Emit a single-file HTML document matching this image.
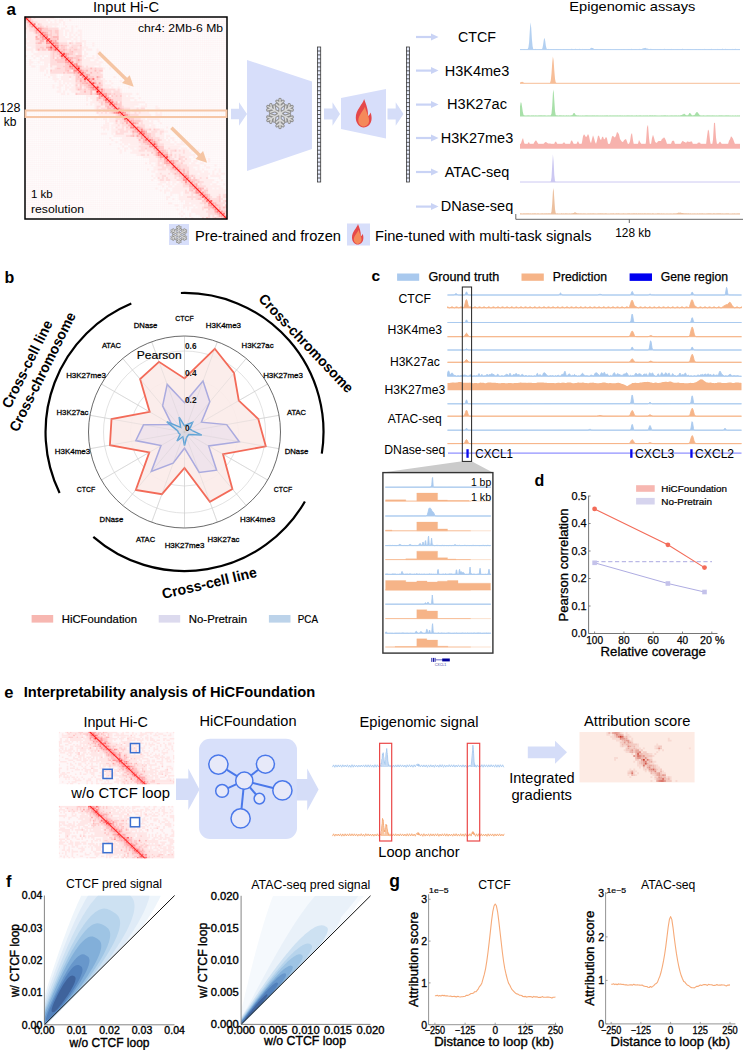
<!DOCTYPE html>
<html><head><meta charset="utf-8"><style>
html,body{margin:0;padding:0;background:#fff;}
svg{display:block;}
text{font-family:"Liberation Sans",sans-serif;}
</style></head><body>
<svg width="743" height="1050" viewBox="0 0 743 1050">
<rect width="743" height="1050" fill="#fff"/>
<defs>
<filter id="blur1" x="-20%" y="-20%" width="140%" height="140%"><feGaussianBlur stdDeviation="1.6"/></filter>
<filter id="blur2" x="-30%" y="-30%" width="160%" height="160%"><feGaussianBlur stdDeviation="2.5"/></filter>
<filter id="blur04" x="-5%" y="-5%" width="110%" height="110%"><feGaussianBlur stdDeviation="0.75"/></filter>
<filter id="blur05" x="-20%" y="-20%" width="140%" height="140%"><feGaussianBlur stdDeviation="0.6"/></filter>
<pattern id="hicgrid" width="2.104" height="2.104" patternUnits="userSpaceOnUse"><path d="M0,0.5H2.2M0.5,0V2.2" stroke="#fbe3e6" stroke-width="0.4" stroke-opacity="0.45"/></pattern>
<pattern id="hicgrid2" width="2" height="2" patternUnits="userSpaceOnUse"><path d="M0,0.5H2M0.5,0V2" stroke="#f8c3c8" stroke-width="0.55" stroke-opacity="0.7"/></pattern>
<pattern id="attgrid" width="3" height="3" patternUnits="userSpaceOnUse"><path d="M0,0.5H3M0.5,0V3" stroke="#f9d4c8" stroke-width="0.5" stroke-opacity="0.6"/></pattern>
</defs>
<text x="6.5" y="15" font-size="17" font-weight="bold">a</text>
<text x="126" y="12" font-size="14.5" text-anchor="middle" textLength="66" lengthAdjust="spacingAndGlyphs">Input Hi-C</text>
<rect x="25" y="17" width="202" height="202" fill="#fffcfc"/>
<rect x="25" y="17" width="202" height="202" fill="url(#hicgrid)"/>
<g filter="url(#blur04)"><path d="M31.3 17h2.1v2.1h-2.1zM35.5 17h18.9v2.1h-18.9zM33.4 19.1h12.6v2.1h-12.6zM48.1 19.1h2.1v2.1h-2.1zM54.5 19.1h2.1v2.1h-2.1zM58.7 19.1h4.2v2.1h-4.2zM69.2 19.1h2.1v2.1h-2.1zM37.6 21.2h10.5v2.1h-10.5zM50.2 21.2h2.1v2.1h-2.1zM54.5 21.2h2.1v2.1h-2.1zM58.7 21.2h2.1v2.1h-2.1zM62.9 21.2h2.1v2.1h-2.1zM25 23.3h2.1v2.1h-2.1zM35.5 23.3h2.1v2.1h-2.1zM41.8 23.3h16.8v2.1h-16.8zM62.9 23.3h2.1v2.1h-2.1zM25 25.4h2.1v2.1h-2.1zM43.9 25.4h2.1v2.1h-2.1zM48.1 25.4h4.2v2.1h-4.2zM54.5 25.4h2.1v2.1h-2.1zM65 25.4h2.1v2.1h-2.1zM71.3 25.4h2.1v2.1h-2.1zM75.5 25.4h2.1v2.1h-2.1zM27.1 27.5h2.1v2.1h-2.1zM60.8 27.5h4.2v2.1h-4.2zM71.3 27.5h2.1v2.1h-2.1zM25 29.6h4.2v2.1h-4.2zM58.7 29.6h4.2v2.1h-4.2zM65 29.6h4.2v2.1h-4.2zM71.3 29.6h2.1v2.1h-2.1zM77.6 29.6h4.2v2.1h-4.2zM25 31.7h8.4v2.1h-8.4zM58.7 31.7h4.2v2.1h-4.2zM65 31.7h2.1v2.1h-2.1zM69.2 31.7h4.2v2.1h-4.2zM75.5 31.7h2.1v2.1h-2.1zM79.7 31.7h2.1v2.1h-2.1zM27.1 33.8h8.4v2.1h-8.4zM58.7 33.8h4.2v2.1h-4.2zM65 33.8h2.1v2.1h-2.1zM69.2 33.8h2.1v2.1h-2.1zM73.4 33.8h2.1v2.1h-2.1zM77.6 33.8h4.2v2.1h-4.2zM27.1 35.9h8.4v2.1h-8.4zM58.7 35.9h6.3v2.1h-6.3zM69.2 35.9h4.2v2.1h-4.2zM75.5 35.9h2.1v2.1h-2.1zM79.7 35.9h2.1v2.1h-2.1zM25 38h10.5v2.1h-10.5zM58.7 38h12.6v2.1h-12.6zM73.4 38h4.2v2.1h-4.2zM79.7 38h2.1v2.1h-2.1zM25 40.1h2.1v2.1h-2.1zM29.2 40.1h6.3v2.1h-6.3zM58.7 40.1h8.4v2.1h-8.4zM71.3 40.1h2.1v2.1h-2.1zM75.5 40.1h2.1v2.1h-2.1zM79.7 40.1h6.3v2.1h-6.3zM25 42.2h10.5v2.1h-10.5zM67.1 42.2h2.1v2.1h-2.1zM73.4 42.2h2.1v2.1h-2.1zM83.9 42.2h2.1v2.1h-2.1zM92.3 42.2h2.1v2.1h-2.1zM27.1 44.4h8.4v2.1h-8.4zM69.2 44.4h2.1v2.1h-2.1zM83.9 44.4h2.1v2.1h-2.1zM92.3 44.4h2.1v2.1h-2.1zM25 46.5h2.1v2.1h-2.1zM31.3 46.5h4.2v2.1h-4.2zM67.1 46.5h2.1v2.1h-2.1zM77.6 46.5h2.1v2.1h-2.1zM81.8 46.5h6.3v2.1h-6.3zM25 48.6h8.4v2.1h-8.4zM81.8 48.6h2.1v2.1h-2.1zM86 48.6h6.3v2.1h-6.3zM96.5 48.6h2.1v2.1h-2.1zM31.3 50.7h2.1v2.1h-2.1zM37.6 50.7h12.6v2.1h-12.6zM83.9 50.7h2.1v2.1h-2.1zM96.5 50.7h4.2v2.1h-4.2zM33.4 52.8h16.8v2.1h-16.8zM75.5 52.8h2.1v2.1h-2.1zM83.9 52.8h4.2v2.1h-4.2zM96.5 52.8h2.1v2.1h-2.1zM25 54.9h2.1v2.1h-2.1zM31.3 54.9h2.1v2.1h-2.1zM35.5 54.9h4.2v2.1h-4.2zM41.8 54.9h2.1v2.1h-2.1zM48.1 54.9h2.1v2.1h-2.1zM81.8 54.9h4.2v2.1h-4.2zM92.3 54.9h2.1v2.1h-2.1zM96.5 54.9h2.1v2.1h-2.1zM100.8 54.9h2.1v2.1h-2.1zM33.4 57h2.1v2.1h-2.1zM39.7 57h2.1v2.1h-2.1zM43.9 57h6.3v2.1h-6.3zM54.5 57h2.1v2.1h-2.1zM81.8 57h2.1v2.1h-2.1zM86 57h8.4v2.1h-8.4zM96.5 57h4.2v2.1h-4.2zM29.2 59.1h2.1v2.1h-2.1zM39.7 59.1h10.5v2.1h-10.5zM81.8 59.1h8.4v2.1h-8.4zM94.4 59.1h4.2v2.1h-4.2zM29.2 61.2h4.2v2.1h-4.2zM37.6 61.2h2.1v2.1h-2.1zM43.9 61.2h6.3v2.1h-6.3zM81.8 61.2h14.7v2.1h-14.7zM98.6 61.2h4.2v2.1h-4.2zM29.2 63.3h2.1v2.1h-2.1zM43.9 63.3h4.2v2.1h-4.2zM81.8 63.3h18.9v2.1h-18.9zM31.3 65.4h4.2v2.1h-4.2zM39.7 65.4h8.4v2.1h-8.4zM52.4 65.4h4.2v2.1h-4.2zM83.9 65.4h2.1v2.1h-2.1zM88.1 65.4h6.3v2.1h-6.3zM98.6 65.4h2.1v2.1h-2.1zM39.7 67.5h6.3v2.1h-6.3zM50.2 67.5h4.2v2.1h-4.2zM102.9 67.5h2.1v2.1h-2.1zM109.2 67.5h2.1v2.1h-2.1zM39.7 69.6h4.2v2.1h-4.2zM46 69.6h2.1v2.1h-2.1zM71.3 69.6h2.1v2.1h-2.1zM46 71.7h2.1v2.1h-2.1zM100.8 71.7h2.1v2.1h-2.1zM43.9 73.8h2.1v2.1h-2.1zM50.2 73.8h6.3v2.1h-6.3zM62.9 73.8h10.5v2.1h-10.5zM48.1 75.9h2.1v2.1h-2.1zM52.4 75.9h4.2v2.1h-4.2zM60.8 75.9h8.4v2.1h-8.4zM71.3 75.9h4.2v2.1h-4.2zM113.4 75.9h2.1v2.1h-2.1zM121.8 75.9h2.1v2.1h-2.1zM52.4 78h6.3v2.1h-6.3zM60.8 78h8.4v2.1h-8.4zM71.3 78h4.2v2.1h-4.2zM100.8 78h4.2v2.1h-4.2zM54.5 80.1h2.1v2.1h-2.1zM58.7 80.1h2.1v2.1h-2.1zM62.9 80.1h12.6v2.1h-12.6zM102.9 80.1h4.2v2.1h-4.2zM109.2 80.1h2.1v2.1h-2.1zM119.7 80.1h2.1v2.1h-2.1zM130.2 80.1h2.1v2.1h-2.1zM58.7 82.2h2.1v2.1h-2.1zM62.9 82.2h2.1v2.1h-2.1zM67.1 82.2h2.1v2.1h-2.1zM71.3 82.2h4.2v2.1h-4.2zM102.9 82.2h2.1v2.1h-2.1zM111.3 82.2h2.1v2.1h-2.1zM52.4 84.3h2.1v2.1h-2.1zM58.7 84.3h4.2v2.1h-4.2zM65 84.3h2.1v2.1h-2.1zM69.2 84.3h2.1v2.1h-2.1zM73.4 84.3h2.1v2.1h-2.1zM77.6 84.3h2.1v2.1h-2.1zM102.9 84.3h8.4v2.1h-8.4zM52.4 86.4h2.1v2.1h-2.1zM56.6 86.4h4.2v2.1h-4.2zM65 86.4h4.2v2.1h-4.2zM71.3 86.4h4.2v2.1h-4.2zM81.8 86.4h2.1v2.1h-2.1zM102.9 86.4h6.3v2.1h-6.3zM111.3 86.4h2.1v2.1h-2.1zM117.6 86.4h2.1v2.1h-2.1zM128.1 86.4h2.1v2.1h-2.1zM58.7 88.5h2.1v2.1h-2.1zM65 88.5h2.1v2.1h-2.1zM69.2 88.5h6.3v2.1h-6.3zM115.5 88.5h2.1v2.1h-2.1zM119.7 88.5h2.1v2.1h-2.1zM56.6 90.6h4.2v2.1h-4.2zM62.9 90.6h2.1v2.1h-2.1zM71.3 90.6h8.4v2.1h-8.4zM92.3 90.6h2.1v2.1h-2.1zM111.3 90.6h2.1v2.1h-2.1zM119.7 90.6h2.1v2.1h-2.1zM60.8 92.8h4.2v2.1h-4.2zM67.1 92.8h2.1v2.1h-2.1zM121.8 92.8h10.5v2.1h-10.5zM136.5 92.8h2.1v2.1h-2.1zM86 94.9h12.6v2.1h-12.6zM109.2 94.9h2.1v2.1h-2.1zM121.8 94.9h4.2v2.1h-4.2zM128.1 94.9h2.1v2.1h-2.1zM86 97h2.1v2.1h-2.1zM90.2 97h6.3v2.1h-6.3zM121.8 97h12.6v2.1h-12.6zM138.6 97h2.1v2.1h-2.1zM86 99.1h2.1v2.1h-2.1zM92.3 99.1h4.2v2.1h-4.2zM121.8 99.1h8.4v2.1h-8.4zM134.4 99.1h2.1v2.1h-2.1zM90.2 101.2h8.4v2.1h-8.4zM117.6 101.2h2.1v2.1h-2.1zM121.8 101.2h23.1v2.1h-23.1zM86 103.3h2.1v2.1h-2.1zM90.2 103.3h2.1v2.1h-2.1zM94.4 103.3h6.3v2.1h-6.3zM121.8 103.3h16.8v2.1h-16.8zM144.9 103.3h2.1v2.1h-2.1zM94.4 105.4h2.1v2.1h-2.1zM100.8 105.4h4.2v2.1h-4.2zM123.9 105.4h10.5v2.1h-10.5zM140.7 105.4h6.3v2.1h-6.3zM155.5 105.4h2.1v2.1h-2.1zM94.4 107.5h2.1v2.1h-2.1zM98.6 107.5h2.1v2.1h-2.1zM130.2 107.5h6.3v2.1h-6.3zM138.6 107.5h2.1v2.1h-2.1zM155.5 107.5h4.2v2.1h-4.2zM94.4 109.6h2.1v2.1h-2.1zM100.8 109.6h2.1v2.1h-2.1zM130.2 109.6h2.1v2.1h-2.1zM140.7 109.6h4.2v2.1h-4.2zM147 109.6h2.1v2.1h-2.1zM98.6 111.7h2.1v2.1h-2.1zM102.9 111.7h2.1v2.1h-2.1zM107.1 111.7h2.1v2.1h-2.1zM130.2 111.7h4.2v2.1h-4.2zM136.5 111.7h2.1v2.1h-2.1zM140.7 111.7h8.4v2.1h-8.4zM155.5 111.7h2.1v2.1h-2.1zM159.7 111.7h2.1v2.1h-2.1zM98.6 113.8h16.8v2.1h-16.8zM138.6 113.8h12.6v2.1h-12.6zM155.5 113.8h6.3v2.1h-6.3zM98.6 115.9h2.1v2.1h-2.1zM105 115.9h10.5v2.1h-10.5zM132.3 115.9h10.5v2.1h-10.5zM144.9 115.9h4.2v2.1h-4.2zM151.2 115.9h2.1v2.1h-2.1zM94.4 118h2.1v2.1h-2.1zM102.9 118h4.2v2.1h-4.2zM109.2 118h6.3v2.1h-6.3zM140.7 118h4.2v2.1h-4.2zM147 118h12.6v2.1h-12.6zM105 120.1h2.1v2.1h-2.1zM109.2 120.1h6.3v2.1h-6.3zM117.6 120.1h2.1v2.1h-2.1zM142.8 120.1h6.3v2.1h-6.3zM151.2 120.1h2.1v2.1h-2.1zM157.6 120.1h2.1v2.1h-2.1zM105 122.2h4.2v2.1h-4.2zM113.4 122.2h2.1v2.1h-2.1zM117.6 122.2h2.1v2.1h-2.1zM138.6 122.2h2.1v2.1h-2.1zM142.8 122.2h10.5v2.1h-10.5zM159.7 122.2h2.1v2.1h-2.1zM102.9 124.3h6.3v2.1h-6.3zM111.3 124.3h6.3v2.1h-6.3zM119.7 124.3h2.1v2.1h-2.1zM144.9 124.3h4.2v2.1h-4.2zM151.2 124.3h4.2v2.1h-4.2zM100.8 126.4h8.4v2.1h-8.4zM111.3 126.4h2.1v2.1h-2.1zM117.6 126.4h4.2v2.1h-4.2zM123.9 126.4h2.1v2.1h-2.1zM144.9 126.4h10.5v2.1h-10.5zM166 126.4h2.1v2.1h-2.1zM102.9 128.5h2.1v2.1h-2.1zM107.1 128.5h2.1v2.1h-2.1zM111.3 128.5h6.3v2.1h-6.3zM123.9 128.5h2.1v2.1h-2.1zM151.2 128.5h2.1v2.1h-2.1zM159.7 128.5h4.2v2.1h-4.2zM111.3 130.6h4.2v2.1h-4.2zM117.6 130.6h2.1v2.1h-2.1zM128.1 130.6h2.1v2.1h-2.1zM147 130.6h4.2v2.1h-4.2zM157.6 130.6h2.1v2.1h-2.1zM163.9 130.6h4.2v2.1h-4.2zM100.8 132.7h6.3v2.1h-6.3zM111.3 132.7h2.1v2.1h-2.1zM123.9 132.7h8.4v2.1h-8.4zM155.5 132.7h4.2v2.1h-4.2zM161.8 132.7h2.1v2.1h-2.1zM113.4 134.8h12.6v2.1h-12.6zM155.5 134.8h8.4v2.1h-8.4zM166 134.8h4.2v2.1h-4.2zM109.2 136.9h2.1v2.1h-2.1zM121.8 136.9h14.7v2.1h-14.7zM159.7 136.9h4.2v2.1h-4.2zM166 136.9h2.1v2.1h-2.1zM170.2 136.9h4.2v2.1h-4.2zM111.3 139h2.1v2.1h-2.1zM119.7 139h18.9v2.1h-18.9zM161.8 139h4.2v2.1h-4.2zM168.1 139h2.1v2.1h-2.1zM172.3 139h2.1v2.1h-2.1zM115.5 141.1h2.1v2.1h-2.1zM121.8 141.1h16.8v2.1h-16.8zM159.7 141.1h10.5v2.1h-10.5zM174.4 141.1h2.1v2.1h-2.1zM180.7 141.1h2.1v2.1h-2.1zM109.2 143.2h2.1v2.1h-2.1zM119.7 143.2h2.1v2.1h-2.1zM123.9 143.2h4.2v2.1h-4.2zM130.2 143.2h10.5v2.1h-10.5zM163.9 143.2h10.5v2.1h-10.5zM176.5 143.2h8.4v2.1h-8.4zM121.8 145.4h2.1v2.1h-2.1zM128.1 145.4h10.5v2.1h-10.5zM163.9 145.4h16.8v2.1h-16.8zM189.1 145.4h2.1v2.1h-2.1zM117.6 147.5h2.1v2.1h-2.1zM123.9 147.5h4.2v2.1h-4.2zM130.2 147.5h4.2v2.1h-4.2zM136.5 147.5h4.2v2.1h-4.2zM163.9 147.5h4.2v2.1h-4.2zM170.2 147.5h8.4v2.1h-8.4zM180.7 147.5h6.3v2.1h-6.3zM189.1 147.5h2.1v2.1h-2.1zM119.7 149.6h2.1v2.1h-2.1zM123.9 149.6h2.1v2.1h-2.1zM132.3 149.6h6.3v2.1h-6.3zM144.9 149.6h2.1v2.1h-2.1zM168.1 149.6h2.1v2.1h-2.1zM176.5 149.6h2.1v2.1h-2.1zM180.7 149.6h2.1v2.1h-2.1zM184.9 149.6h4.2v2.1h-4.2zM191.2 149.6h2.1v2.1h-2.1zM197.5 149.6h2.1v2.1h-2.1zM119.7 151.7h2.1v2.1h-2.1zM130.2 151.7h21v2.1h-21zM168.1 151.7h2.1v2.1h-2.1zM172.3 151.7h10.5v2.1h-10.5zM184.9 151.7h6.3v2.1h-6.3zM136.5 153.8h4.2v2.1h-4.2zM144.9 153.8h2.1v2.1h-2.1zM149.1 153.8h4.2v2.1h-4.2zM172.3 153.8h2.1v2.1h-2.1zM176.5 153.8h2.1v2.1h-2.1zM180.7 153.8h14.7v2.1h-14.7zM197.5 153.8h4.2v2.1h-4.2zM142.8 155.9h12.6v2.1h-12.6zM172.3 155.9h2.1v2.1h-2.1zM176.5 155.9h2.1v2.1h-2.1zM184.9 155.9h4.2v2.1h-4.2zM193.3 155.9h2.1v2.1h-2.1zM197.5 155.9h2.1v2.1h-2.1zM149.1 158h8.4v2.1h-8.4zM174.4 158h4.2v2.1h-4.2zM182.8 158h2.1v2.1h-2.1zM187 158h4.2v2.1h-4.2zM208.1 158h2.1v2.1h-2.1zM149.1 160.1h8.4v2.1h-8.4zM178.6 160.1h2.1v2.1h-2.1zM184.9 160.1h6.3v2.1h-6.3zM193.3 160.1h4.2v2.1h-4.2zM208.1 160.1h2.1v2.1h-2.1zM144.9 162.2h2.1v2.1h-2.1zM149.1 162.2h2.1v2.1h-2.1zM155.5 162.2h2.1v2.1h-2.1zM159.7 162.2h2.1v2.1h-2.1zM182.8 162.2h6.3v2.1h-6.3zM191.2 162.2h4.2v2.1h-4.2zM199.6 162.2h4.2v2.1h-4.2zM151.2 164.3h2.1v2.1h-2.1zM155.5 164.3h2.1v2.1h-2.1zM163.9 164.3h2.1v2.1h-2.1zM187 164.3h12.6v2.1h-12.6zM203.9 164.3h2.1v2.1h-2.1zM214.4 164.3h2.1v2.1h-2.1zM153.4 166.4h8.4v2.1h-8.4zM189.1 166.4h4.2v2.1h-4.2zM197.5 166.4h2.1v2.1h-2.1zM206 166.4h4.2v2.1h-4.2zM147 168.5h2.1v2.1h-2.1zM153.4 168.5h4.2v2.1h-4.2zM166 168.5h2.1v2.1h-2.1zM189.1 168.5h6.3v2.1h-6.3zM197.5 168.5h2.1v2.1h-2.1zM201.8 168.5h2.1v2.1h-2.1zM214.4 168.5h2.1v2.1h-2.1zM218.6 168.5h2.1v2.1h-2.1zM151.2 170.6h4.2v2.1h-4.2zM157.6 170.6h12.6v2.1h-12.6zM189.1 170.6h12.6v2.1h-12.6zM203.9 170.6h4.2v2.1h-4.2zM212.3 170.6h2.1v2.1h-2.1zM218.6 170.6h2.1v2.1h-2.1zM155.5 172.7h4.2v2.1h-4.2zM161.8 172.7h6.3v2.1h-6.3zM170.2 172.7h2.1v2.1h-2.1zM189.1 172.7h8.4v2.1h-8.4zM199.6 172.7h10.5v2.1h-10.5zM212.3 172.7h2.1v2.1h-2.1zM216.5 172.7h2.1v2.1h-2.1zM220.7 172.7h4.2v2.1h-4.2zM151.2 174.8h2.1v2.1h-2.1zM155.5 174.8h6.3v2.1h-6.3zM166 174.8h8.4v2.1h-8.4zM195.4 174.8h12.6v2.1h-12.6zM210.2 174.8h10.5v2.1h-10.5zM153.4 176.9h2.1v2.1h-2.1zM159.7 176.9h2.1v2.1h-2.1zM163.9 176.9h2.1v2.1h-2.1zM168.1 176.9h6.3v2.1h-6.3zM176.5 176.9h2.1v2.1h-2.1zM191.2 176.9h2.1v2.1h-2.1zM195.4 176.9h4.2v2.1h-4.2zM201.8 176.9h4.2v2.1h-4.2zM218.6 176.9h2.1v2.1h-2.1zM151.2 179h2.1v2.1h-2.1zM157.6 179h2.1v2.1h-2.1zM163.9 179h2.1v2.1h-2.1zM170.2 179h6.3v2.1h-6.3zM199.6 179h14.7v2.1h-14.7zM220.7 179h2.1v2.1h-2.1zM159.7 181.1h6.3v2.1h-6.3zM168.1 181.1h2.1v2.1h-2.1zM172.3 181.1h4.2v2.1h-4.2zM178.6 181.1h2.1v2.1h-2.1zM203.9 181.1h8.4v2.1h-8.4zM216.5 181.1h2.1v2.1h-2.1zM157.6 183.2h4.2v2.1h-4.2zM166 183.2h4.2v2.1h-4.2zM172.3 183.2h2.1v2.1h-2.1zM176.5 183.2h6.3v2.1h-6.3zM197.5 183.2h2.1v2.1h-2.1zM201.8 183.2h8.4v2.1h-8.4zM212.3 183.2h4.2v2.1h-4.2zM222.8 183.2h2.1v2.1h-2.1zM161.8 185.3h2.1v2.1h-2.1zM168.1 185.3h4.2v2.1h-4.2zM174.4 185.3h8.4v2.1h-8.4zM206 185.3h14.7v2.1h-14.7zM155.5 187.4h2.1v2.1h-2.1zM166 187.4h2.1v2.1h-2.1zM172.3 187.4h16.8v2.1h-16.8zM203.9 187.4h2.1v2.1h-2.1zM208.1 187.4h4.2v2.1h-4.2zM214.4 187.4h2.1v2.1h-2.1zM218.6 187.4h4.2v2.1h-4.2zM159.7 189.5h2.1v2.1h-2.1zM163.9 189.5h6.3v2.1h-6.3zM172.3 189.5h12.6v2.1h-12.6zM187 189.5h2.1v2.1h-2.1zM208.1 189.5h18.9v2.1h-18.9zM163.9 191.6h2.1v2.1h-2.1zM170.2 191.6h10.5v2.1h-10.5zM182.8 191.6h2.1v2.1h-2.1zM189.1 191.6h2.1v2.1h-2.1zM208.1 191.6h16.8v2.1h-16.8zM170.2 193.8h2.1v2.1h-2.1zM178.6 193.8h2.1v2.1h-2.1zM182.8 193.8h8.4v2.1h-8.4zM193.3 193.8h2.1v2.1h-2.1zM210.2 193.8h8.4v2.1h-8.4zM220.7 193.8h2.1v2.1h-2.1zM166 195.9h4.2v2.1h-4.2zM178.6 195.9h8.4v2.1h-8.4zM212.3 195.9h4.2v2.1h-4.2zM220.7 195.9h2.1v2.1h-2.1zM166 198h2.1v2.1h-2.1zM172.3 198h2.1v2.1h-2.1zM178.6 198h12.6v2.1h-12.6zM193.3 198h2.1v2.1h-2.1zM222.8 198h4.2v2.1h-4.2zM180.7 200.1h2.1v2.1h-2.1zM184.9 200.1h16.8v2.1h-16.8zM220.7 200.1h2.1v2.1h-2.1zM168.1 202.2h4.2v2.1h-4.2zM184.9 202.2h4.2v2.1h-4.2zM191.2 202.2h8.4v2.1h-8.4zM224.9 202.2h2.1v2.1h-2.1zM174.4 204.3h4.2v2.1h-4.2zM182.8 204.3h10.5v2.1h-10.5zM195.4 204.3h8.4v2.1h-8.4zM222.8 204.3h2.1v2.1h-2.1zM182.8 206.4h2.1v2.1h-2.1zM187 206.4h2.1v2.1h-2.1zM193.3 206.4h2.1v2.1h-2.1zM197.5 206.4h4.2v2.1h-4.2zM176.5 208.5h2.1v2.1h-2.1zM187 208.5h2.1v2.1h-2.1zM191.2 208.5h10.5v2.1h-10.5zM203.9 208.5h4.2v2.1h-4.2zM180.7 210.6h2.1v2.1h-2.1zM191.2 210.6h14.7v2.1h-14.7zM178.6 212.7h2.1v2.1h-2.1zM182.8 212.7h2.1v2.1h-2.1zM189.1 212.7h2.1v2.1h-2.1zM195.4 212.7h12.6v2.1h-12.6zM180.7 214.8h2.1v2.1h-2.1zM189.1 214.8h2.1v2.1h-2.1zM199.6 214.8h8.4v2.1h-8.4zM210.2 214.8h2.1v2.1h-2.1zM214.4 214.8h2.1v2.1h-2.1zM184.9 216.9h2.1v2.1h-2.1zM191.2 216.9h2.1v2.1h-2.1zM203.9 216.9h2.1v2.1h-2.1zM210.2 216.9h2.1v2.1h-2.1z" fill="#ffeeee"/>
<path d="M33.4 17h2.1v2.1h-2.1zM31.3 19.1h2.1v2.1h-2.1zM25 21.2h2.1v2.1h-2.1zM33.4 21.2h4.2v2.1h-4.2zM27.1 23.3h2.1v2.1h-2.1zM39.7 23.3h2.1v2.1h-2.1zM27.1 25.4h2.1v2.1h-2.1zM37.6 25.4h2.1v2.1h-2.1zM41.8 25.4h2.1v2.1h-2.1zM46 25.4h2.1v2.1h-2.1zM25 27.5h2.1v2.1h-2.1zM29.2 27.5h4.2v2.1h-4.2zM48.1 27.5h10.5v2.1h-10.5zM29.2 29.6h4.2v2.1h-4.2zM52.4 29.6h2.1v2.1h-2.1zM33.4 31.7h2.1v2.1h-2.1zM48.1 31.7h2.1v2.1h-2.1zM52.4 31.7h2.1v2.1h-2.1zM35.5 33.8h2.1v2.1h-2.1zM52.4 33.8h4.2v2.1h-4.2zM37.6 35.9h2.1v2.1h-2.1zM48.1 35.9h2.1v2.1h-2.1zM35.5 40.1h4.2v2.1h-4.2zM43.9 40.1h2.1v2.1h-2.1zM56.6 40.1h2.1v2.1h-2.1zM41.8 42.2h4.2v2.1h-4.2zM58.7 42.2h8.4v2.1h-8.4zM71.3 42.2h2.1v2.1h-2.1zM75.5 42.2h6.3v2.1h-6.3zM35.5 44.4h10.5v2.1h-10.5zM67.1 44.4h2.1v2.1h-2.1zM71.3 44.4h8.4v2.1h-8.4zM35.5 46.5h4.2v2.1h-4.2zM43.9 46.5h2.1v2.1h-2.1zM58.7 46.5h2.1v2.1h-2.1zM65 46.5h2.1v2.1h-2.1zM69.2 46.5h2.1v2.1h-2.1zM73.4 46.5h4.2v2.1h-4.2zM79.7 46.5h2.1v2.1h-2.1zM35.5 48.6h2.1v2.1h-2.1zM39.7 48.6h2.1v2.1h-2.1zM46 48.6h2.1v2.1h-2.1zM67.1 48.6h2.1v2.1h-2.1zM71.3 48.6h2.1v2.1h-2.1zM77.6 48.6h4.2v2.1h-4.2zM50.2 50.7h2.1v2.1h-2.1zM65 50.7h4.2v2.1h-4.2zM73.4 50.7h8.4v2.1h-8.4zM50.2 52.8h2.1v2.1h-2.1zM54.5 52.8h2.1v2.1h-2.1zM73.4 52.8h2.1v2.1h-2.1zM77.6 52.8h4.2v2.1h-4.2zM50.2 54.9h2.1v2.1h-2.1zM54.5 54.9h4.2v2.1h-4.2zM69.2 54.9h6.3v2.1h-6.3zM50.2 57h2.1v2.1h-2.1zM58.7 57h2.1v2.1h-2.1zM79.7 57h2.1v2.1h-2.1zM50.2 59.1h4.2v2.1h-4.2zM73.4 59.1h2.1v2.1h-2.1zM50.2 61.2h6.3v2.1h-6.3zM73.4 61.2h2.1v2.1h-2.1zM79.7 61.2h2.1v2.1h-2.1zM50.2 63.3h14.7v2.1h-14.7zM77.6 63.3h4.2v2.1h-4.2zM50.2 65.4h2.1v2.1h-2.1zM56.6 65.4h6.3v2.1h-6.3zM81.8 65.4h2.1v2.1h-2.1zM86 65.4h2.1v2.1h-2.1zM54.5 67.5h2.1v2.1h-2.1zM60.8 67.5h4.2v2.1h-4.2zM81.8 67.5h8.4v2.1h-8.4zM92.3 67.5h2.1v2.1h-2.1zM96.5 67.5h6.3v2.1h-6.3zM52.4 69.6h12.6v2.1h-12.6zM69.2 69.6h2.1v2.1h-2.1zM88.1 69.6h6.3v2.1h-6.3zM96.5 69.6h2.1v2.1h-2.1zM50.2 71.7h12.6v2.1h-12.6zM65 71.7h2.1v2.1h-2.1zM86 71.7h4.2v2.1h-4.2zM92.3 71.7h4.2v2.1h-4.2zM98.6 71.7h2.1v2.1h-2.1zM73.4 73.8h2.1v2.1h-2.1zM90.2 73.8h12.6v2.1h-12.6zM69.2 75.9h2.1v2.1h-2.1zM79.7 75.9h2.1v2.1h-2.1zM94.4 75.9h2.1v2.1h-2.1zM100.8 75.9h2.1v2.1h-2.1zM94.4 78h2.1v2.1h-2.1zM98.6 78h2.1v2.1h-2.1zM77.6 80.1h2.1v2.1h-2.1zM96.5 80.1h6.3v2.1h-6.3zM75.5 82.2h4.2v2.1h-4.2zM96.5 82.2h2.1v2.1h-2.1zM100.8 82.2h2.1v2.1h-2.1zM81.8 84.3h2.1v2.1h-2.1zM75.5 86.4h4.2v2.1h-4.2zM83.9 86.4h2.1v2.1h-2.1zM100.8 86.4h2.1v2.1h-2.1zM75.5 88.5h2.1v2.1h-2.1zM81.8 88.5h2.1v2.1h-2.1zM86 88.5h2.1v2.1h-2.1zM105 88.5h10.5v2.1h-10.5zM117.6 88.5h2.1v2.1h-2.1zM79.7 90.6h4.2v2.1h-4.2zM86 90.6h4.2v2.1h-4.2zM94.4 90.6h2.1v2.1h-2.1zM105 90.6h6.3v2.1h-6.3zM113.4 90.6h6.3v2.1h-6.3zM77.6 92.8h12.6v2.1h-12.6zM92.3 92.8h2.1v2.1h-2.1zM111.3 92.8h2.1v2.1h-2.1zM115.5 92.8h6.3v2.1h-6.3zM113.4 94.9h2.1v2.1h-2.1zM117.6 94.9h2.1v2.1h-2.1zM111.3 97h10.5v2.1h-10.5zM98.6 99.1h4.2v2.1h-4.2zM113.4 99.1h8.4v2.1h-8.4zM98.6 101.2h2.1v2.1h-2.1zM102.9 101.2h2.1v2.1h-2.1zM102.9 103.3h2.1v2.1h-2.1zM96.5 105.4h4.2v2.1h-4.2zM121.8 105.4h2.1v2.1h-2.1zM96.5 107.5h2.1v2.1h-2.1zM100.8 107.5h6.3v2.1h-6.3zM123.9 107.5h6.3v2.1h-6.3zM136.5 107.5h2.1v2.1h-2.1zM140.7 107.5h4.2v2.1h-4.2zM96.5 109.6h2.1v2.1h-2.1zM109.2 109.6h2.1v2.1h-2.1zM123.9 109.6h6.3v2.1h-6.3zM132.3 109.6h8.4v2.1h-8.4zM96.5 111.7h2.1v2.1h-2.1zM100.8 111.7h2.1v2.1h-2.1zM105 111.7h2.1v2.1h-2.1zM109.2 111.7h2.1v2.1h-2.1zM126 111.7h4.2v2.1h-4.2zM134.4 111.7h2.1v2.1h-2.1zM138.6 111.7h2.1v2.1h-2.1zM115.5 113.8h2.1v2.1h-2.1zM130.2 113.8h8.4v2.1h-8.4zM115.5 115.9h2.1v2.1h-2.1zM119.7 115.9h2.1v2.1h-2.1zM128.1 115.9h4.2v2.1h-4.2zM142.8 115.9h2.1v2.1h-2.1zM115.5 118h6.3v2.1h-6.3zM134.4 118h6.3v2.1h-6.3zM119.7 120.1h4.2v2.1h-4.2zM140.7 120.1h2.1v2.1h-2.1zM115.5 122.2h2.1v2.1h-2.1zM119.7 122.2h2.1v2.1h-2.1zM123.9 122.2h2.1v2.1h-2.1zM140.7 122.2h2.1v2.1h-2.1zM117.6 124.3h2.1v2.1h-2.1zM121.8 124.3h6.3v2.1h-6.3zM136.5 124.3h8.4v2.1h-8.4zM115.5 126.4h2.1v2.1h-2.1zM121.8 126.4h2.1v2.1h-2.1zM128.1 126.4h2.1v2.1h-2.1zM142.8 126.4h2.1v2.1h-2.1zM117.6 128.5h6.3v2.1h-6.3zM126 128.5h6.3v2.1h-6.3zM144.9 128.5h4.2v2.1h-4.2zM155.5 128.5h4.2v2.1h-4.2zM115.5 130.6h2.1v2.1h-2.1zM119.7 130.6h8.4v2.1h-8.4zM130.2 130.6h2.1v2.1h-2.1zM151.2 130.6h6.3v2.1h-6.3zM159.7 130.6h4.2v2.1h-4.2zM115.5 132.7h8.4v2.1h-8.4zM134.4 132.7h2.1v2.1h-2.1zM151.2 132.7h4.2v2.1h-4.2zM159.7 132.7h2.1v2.1h-2.1zM126 134.8h4.2v2.1h-4.2zM134.4 134.8h2.1v2.1h-2.1zM151.2 134.8h4.2v2.1h-4.2zM136.5 136.9h4.2v2.1h-4.2zM153.4 136.9h6.3v2.1h-6.3zM140.7 139h2.1v2.1h-2.1zM155.5 139h2.1v2.1h-2.1zM159.7 139h2.1v2.1h-2.1zM138.6 141.1h4.2v2.1h-4.2zM157.6 141.1h2.1v2.1h-2.1zM140.7 143.2h4.2v2.1h-4.2zM157.6 143.2h6.3v2.1h-6.3zM138.6 145.4h10.5v2.1h-10.5zM140.7 147.5h4.2v2.1h-4.2zM147 147.5h6.3v2.1h-6.3zM168.1 147.5h2.1v2.1h-2.1zM138.6 149.6h6.3v2.1h-6.3zM147 149.6h6.3v2.1h-6.3zM166 149.6h2.1v2.1h-2.1zM170.2 149.6h4.2v2.1h-4.2zM178.6 149.6h2.1v2.1h-2.1zM182.8 149.6h2.1v2.1h-2.1zM153.4 151.7h2.1v2.1h-2.1zM170.2 151.7h2.1v2.1h-2.1zM182.8 151.7h2.1v2.1h-2.1zM140.7 153.8h4.2v2.1h-4.2zM147 153.8h2.1v2.1h-2.1zM153.4 153.8h2.1v2.1h-2.1zM168.1 153.8h2.1v2.1h-2.1zM174.4 153.8h2.1v2.1h-2.1zM178.6 153.8h2.1v2.1h-2.1zM155.5 155.9h2.1v2.1h-2.1zM170.2 155.9h2.1v2.1h-2.1zM174.4 155.9h2.1v2.1h-2.1zM178.6 155.9h6.3v2.1h-6.3zM157.6 158h2.1v2.1h-2.1zM161.8 158h2.1v2.1h-2.1zM170.2 158h4.2v2.1h-4.2zM180.7 158h2.1v2.1h-2.1zM184.9 158h2.1v2.1h-2.1zM157.6 160.1h6.3v2.1h-6.3zM180.7 160.1h4.2v2.1h-4.2zM157.6 162.2h2.1v2.1h-2.1zM161.8 162.2h2.1v2.1h-2.1zM176.5 162.2h4.2v2.1h-4.2zM157.6 164.3h6.3v2.1h-6.3zM180.7 164.3h6.3v2.1h-6.3zM161.8 166.4h8.4v2.1h-8.4zM180.7 166.4h8.4v2.1h-8.4zM157.6 168.5h8.4v2.1h-8.4zM168.1 168.5h2.1v2.1h-2.1zM184.9 168.5h4.2v2.1h-4.2zM170.2 170.6h6.3v2.1h-6.3zM184.9 170.6h2.1v2.1h-2.1zM159.7 172.7h2.1v2.1h-2.1zM168.1 172.7h2.1v2.1h-2.1zM172.3 172.7h2.1v2.1h-2.1zM161.8 174.8h4.2v2.1h-4.2zM174.4 174.8h4.2v2.1h-4.2zM189.1 174.8h2.1v2.1h-2.1zM193.3 174.8h2.1v2.1h-2.1zM157.6 176.9h2.1v2.1h-2.1zM161.8 176.9h2.1v2.1h-2.1zM166 176.9h2.1v2.1h-2.1zM174.4 176.9h2.1v2.1h-2.1zM178.6 176.9h2.1v2.1h-2.1zM199.6 176.9h2.1v2.1h-2.1zM206 176.9h2.1v2.1h-2.1zM159.7 179h4.2v2.1h-4.2zM166 179h4.2v2.1h-4.2zM176.5 179h6.3v2.1h-6.3zM197.5 179h2.1v2.1h-2.1zM180.7 181.1h4.2v2.1h-4.2zM195.4 181.1h2.1v2.1h-2.1zM199.6 181.1h4.2v2.1h-4.2zM182.8 183.2h2.1v2.1h-2.1zM199.6 183.2h2.1v2.1h-2.1zM182.8 185.3h6.3v2.1h-6.3zM199.6 185.3h6.3v2.1h-6.3zM206 187.4h2.1v2.1h-2.1zM184.9 189.5h2.1v2.1h-2.1zM193.3 189.5h2.1v2.1h-2.1zM201.8 189.5h2.1v2.1h-2.1zM184.9 191.6h4.2v2.1h-4.2zM191.2 191.6h2.1v2.1h-2.1zM206 191.6h2.1v2.1h-2.1zM191.2 193.8h2.1v2.1h-2.1zM195.4 193.8h2.1v2.1h-2.1zM218.6 193.8h2.1v2.1h-2.1zM222.8 193.8h4.2v2.1h-4.2zM187 195.9h12.6v2.1h-12.6zM210.2 195.9h2.1v2.1h-2.1zM216.5 195.9h2.1v2.1h-2.1zM222.8 195.9h4.2v2.1h-4.2zM191.2 198h2.1v2.1h-2.1zM195.4 198h2.1v2.1h-2.1zM201.8 198h2.1v2.1h-2.1zM210.2 198h8.4v2.1h-8.4zM220.7 198h2.1v2.1h-2.1zM212.3 200.1h6.3v2.1h-6.3zM222.8 200.1h2.1v2.1h-2.1zM199.6 202.2h4.2v2.1h-4.2zM206 202.2h2.1v2.1h-2.1zM216.5 202.2h8.4v2.1h-8.4zM203.9 204.3h4.2v2.1h-4.2zM220.7 204.3h2.1v2.1h-2.1zM201.8 206.4h2.1v2.1h-2.1zM220.7 206.4h2.1v2.1h-2.1zM201.8 208.5h2.1v2.1h-2.1zM210.2 208.5h2.1v2.1h-2.1zM220.7 208.5h6.3v2.1h-6.3zM206 210.6h8.4v2.1h-8.4zM208.1 212.7h6.3v2.1h-6.3zM224.9 212.7h2.1v2.1h-2.1zM208.1 214.8h2.1v2.1h-2.1zM212.3 214.8h2.1v2.1h-2.1zM216.5 214.8h2.1v2.1h-2.1zM201.8 216.9h2.1v2.1h-2.1zM208.1 216.9h2.1v2.1h-2.1zM212.3 216.9h2.1v2.1h-2.1zM216.5 216.9h4.2v2.1h-4.2z" fill="#ffdddd"/>
<path d="M37.6 23.3h2.1v2.1h-2.1zM29.2 25.4h2.1v2.1h-2.1zM39.7 25.4h2.1v2.1h-2.1zM33.4 27.5h2.1v2.1h-2.1zM43.9 27.5h4.2v2.1h-4.2zM33.4 29.6h2.1v2.1h-2.1zM41.8 29.6h10.5v2.1h-10.5zM54.5 29.6h4.2v2.1h-4.2zM50.2 31.7h2.1v2.1h-2.1zM54.5 31.7h4.2v2.1h-4.2zM37.6 33.8h2.1v2.1h-2.1zM48.1 33.8h4.2v2.1h-4.2zM56.6 33.8h2.1v2.1h-2.1zM50.2 35.9h2.1v2.1h-2.1zM39.7 38h2.1v2.1h-2.1zM50.2 38h6.3v2.1h-6.3zM35.5 42.2h2.1v2.1h-2.1zM69.2 42.2h2.1v2.1h-2.1zM46 44.4h4.2v2.1h-4.2zM58.7 44.4h2.1v2.1h-2.1zM62.9 44.4h4.2v2.1h-4.2zM79.7 44.4h2.1v2.1h-2.1zM39.7 46.5h4.2v2.1h-4.2zM60.8 46.5h4.2v2.1h-4.2zM71.3 46.5h2.1v2.1h-2.1zM41.8 48.6h4.2v2.1h-4.2zM60.8 48.6h2.1v2.1h-2.1zM65 48.6h2.1v2.1h-2.1zM69.2 48.6h2.1v2.1h-2.1zM73.4 48.6h4.2v2.1h-4.2zM52.4 50.7h4.2v2.1h-4.2zM62.9 50.7h2.1v2.1h-2.1zM69.2 50.7h2.1v2.1h-2.1zM52.4 52.8h2.1v2.1h-2.1zM56.6 52.8h2.1v2.1h-2.1zM69.2 52.8h4.2v2.1h-4.2zM52.4 54.9h2.1v2.1h-2.1zM58.7 54.9h2.1v2.1h-2.1zM67.1 54.9h2.1v2.1h-2.1zM75.5 54.9h6.3v2.1h-6.3zM52.4 57h2.1v2.1h-2.1zM56.6 57h2.1v2.1h-2.1zM73.4 57h6.3v2.1h-6.3zM54.5 59.1h10.5v2.1h-10.5zM71.3 59.1h2.1v2.1h-2.1zM75.5 59.1h2.1v2.1h-2.1zM79.7 59.1h2.1v2.1h-2.1zM56.6 61.2h8.4v2.1h-8.4zM75.5 61.2h4.2v2.1h-4.2zM65 63.3h2.1v2.1h-2.1zM62.9 65.4h6.3v2.1h-6.3zM56.6 67.5h4.2v2.1h-4.2zM65 67.5h4.2v2.1h-4.2zM79.7 67.5h2.1v2.1h-2.1zM94.4 67.5h2.1v2.1h-2.1zM50.2 69.6h2.1v2.1h-2.1zM65 69.6h2.1v2.1h-2.1zM83.9 69.6h2.1v2.1h-2.1zM98.6 69.6h4.2v2.1h-4.2zM62.9 71.7h2.1v2.1h-2.1zM67.1 71.7h6.3v2.1h-6.3zM96.5 71.7h2.1v2.1h-2.1zM75.5 73.8h4.2v2.1h-4.2zM75.5 75.9h2.1v2.1h-2.1zM88.1 75.9h6.3v2.1h-6.3zM98.6 75.9h2.1v2.1h-2.1zM75.5 78h4.2v2.1h-4.2zM81.8 78h2.1v2.1h-2.1zM96.5 78h2.1v2.1h-2.1zM75.5 80.1h2.1v2.1h-2.1zM81.8 80.1h2.1v2.1h-2.1zM86 80.1h2.1v2.1h-2.1zM92.3 80.1h4.2v2.1h-4.2zM79.7 82.2h2.1v2.1h-2.1zM75.5 84.3h2.1v2.1h-2.1zM79.7 84.3h2.1v2.1h-2.1zM83.9 84.3h4.2v2.1h-4.2zM94.4 84.3h2.1v2.1h-2.1zM98.6 84.3h4.2v2.1h-4.2zM79.7 86.4h2.1v2.1h-2.1zM86 86.4h2.1v2.1h-2.1zM79.7 88.5h2.1v2.1h-2.1zM83.9 88.5h2.1v2.1h-2.1zM88.1 88.5h2.1v2.1h-2.1zM102.9 88.5h2.1v2.1h-2.1zM102.9 90.6h2.1v2.1h-2.1zM75.5 92.8h2.1v2.1h-2.1zM94.4 92.8h2.1v2.1h-2.1zM107.1 92.8h4.2v2.1h-4.2zM113.4 92.8h2.1v2.1h-2.1zM107.1 94.9h2.1v2.1h-2.1zM111.3 94.9h2.1v2.1h-2.1zM115.5 94.9h2.1v2.1h-2.1zM119.7 94.9h2.1v2.1h-2.1zM96.5 97h2.1v2.1h-2.1zM100.8 97h2.1v2.1h-2.1zM109.2 97h2.1v2.1h-2.1zM96.5 99.1h2.1v2.1h-2.1zM100.8 101.2h2.1v2.1h-2.1zM113.4 101.2h2.1v2.1h-2.1zM119.7 101.2h2.1v2.1h-2.1zM100.8 103.3h2.1v2.1h-2.1zM105 103.3h4.2v2.1h-4.2zM117.6 103.3h4.2v2.1h-4.2zM105 105.4h2.1v2.1h-2.1zM109.2 105.4h2.1v2.1h-2.1zM117.6 105.4h4.2v2.1h-4.2zM111.3 107.5h2.1v2.1h-2.1zM121.8 107.5h2.1v2.1h-2.1zM98.6 109.6h2.1v2.1h-2.1zM102.9 109.6h6.3v2.1h-6.3zM111.3 109.6h4.2v2.1h-4.2zM111.3 111.7h2.1v2.1h-2.1zM117.6 113.8h2.1v2.1h-2.1zM128.1 113.8h2.1v2.1h-2.1zM117.6 115.9h2.1v2.1h-2.1zM121.8 118h2.1v2.1h-2.1zM130.2 118h4.2v2.1h-4.2zM115.5 120.1h2.1v2.1h-2.1zM134.4 120.1h6.3v2.1h-6.3zM121.8 122.2h2.1v2.1h-2.1zM128.1 122.2h2.1v2.1h-2.1zM134.4 124.3h2.1v2.1h-2.1zM126 126.4h2.1v2.1h-2.1zM140.7 126.4h2.1v2.1h-2.1zM132.3 128.5h2.1v2.1h-2.1zM142.8 128.5h2.1v2.1h-2.1zM149.1 128.5h2.1v2.1h-2.1zM153.4 128.5h2.1v2.1h-2.1zM132.3 132.7h2.1v2.1h-2.1zM136.5 132.7h2.1v2.1h-2.1zM147 132.7h4.2v2.1h-4.2zM130.2 134.8h2.1v2.1h-2.1zM138.6 134.8h2.1v2.1h-2.1zM149.1 134.8h2.1v2.1h-2.1zM149.1 136.9h4.2v2.1h-4.2zM153.4 139h2.1v2.1h-2.1zM157.6 139h2.1v2.1h-2.1zM155.5 141.1h2.1v2.1h-2.1zM144.9 143.2h2.1v2.1h-2.1zM159.7 145.4h4.2v2.1h-4.2zM144.9 147.5h2.1v2.1h-2.1zM159.7 147.5h4.2v2.1h-4.2zM153.4 149.6h2.1v2.1h-2.1zM163.9 149.6h2.1v2.1h-2.1zM174.4 149.6h2.1v2.1h-2.1zM151.2 151.7h2.1v2.1h-2.1zM163.9 151.7h4.2v2.1h-4.2zM170.2 153.8h2.1v2.1h-2.1zM157.6 155.9h2.1v2.1h-2.1zM168.1 155.9h2.1v2.1h-2.1zM159.7 158h2.1v2.1h-2.1zM168.1 158h2.1v2.1h-2.1zM178.6 158h2.1v2.1h-2.1zM174.4 160.1h4.2v2.1h-4.2zM174.4 162.2h2.1v2.1h-2.1zM180.7 162.2h2.1v2.1h-2.1zM166 164.3h6.3v2.1h-6.3zM176.5 164.3h4.2v2.1h-4.2zM170.2 166.4h2.1v2.1h-2.1zM178.6 166.4h2.1v2.1h-2.1zM170.2 168.5h4.2v2.1h-4.2zM180.7 168.5h2.1v2.1h-2.1zM180.7 170.6h2.1v2.1h-2.1zM187 170.6h2.1v2.1h-2.1zM176.5 172.7h2.1v2.1h-2.1zM184.9 172.7h4.2v2.1h-4.2zM178.6 174.8h4.2v2.1h-4.2zM191.2 174.8h2.1v2.1h-2.1zM180.7 176.9h2.1v2.1h-2.1zM189.1 176.9h2.1v2.1h-2.1zM193.3 176.9h2.1v2.1h-2.1zM191.2 179h6.3v2.1h-6.3zM187 181.1h2.1v2.1h-2.1zM193.3 181.1h2.1v2.1h-2.1zM197.5 181.1h2.1v2.1h-2.1zM184.9 183.2h4.2v2.1h-4.2zM197.5 185.3h2.1v2.1h-2.1zM189.1 187.4h4.2v2.1h-4.2zM189.1 189.5h2.1v2.1h-2.1zM203.9 189.5h4.2v2.1h-4.2zM193.3 191.6h2.1v2.1h-2.1zM203.9 191.6h2.1v2.1h-2.1zM197.5 193.8h2.1v2.1h-2.1zM208.1 193.8h2.1v2.1h-2.1zM199.6 195.9h2.1v2.1h-2.1zM208.1 195.9h2.1v2.1h-2.1zM218.6 195.9h2.1v2.1h-2.1zM197.5 198h4.2v2.1h-4.2zM218.6 198h2.1v2.1h-2.1zM201.8 200.1h4.2v2.1h-4.2zM218.6 200.1h2.1v2.1h-2.1zM224.9 200.1h2.1v2.1h-2.1zM203.9 202.2h2.1v2.1h-2.1zM218.6 204.3h2.1v2.1h-2.1zM224.9 204.3h2.1v2.1h-2.1zM203.9 206.4h6.3v2.1h-6.3zM216.5 206.4h2.1v2.1h-2.1zM224.9 206.4h2.1v2.1h-2.1zM208.1 208.5h2.1v2.1h-2.1zM212.3 208.5h2.1v2.1h-2.1zM222.8 210.6h4.2v2.1h-4.2zM214.4 212.7h2.1v2.1h-2.1zM206 216.9h2.1v2.1h-2.1zM214.4 216.9h2.1v2.1h-2.1zM220.7 216.9h2.1v2.1h-2.1z" fill="#ffcccc"/>
<path d="M29.2 17h2.1v2.1h-2.1zM25 19.1h2.1v2.1h-2.1zM29.2 19.1h2.1v2.1h-2.1zM27.1 21.2h2.1v2.1h-2.1zM31.3 21.2h2.1v2.1h-2.1zM35.5 25.4h2.1v2.1h-2.1zM41.8 27.5h2.1v2.1h-2.1zM37.6 31.7h2.1v2.1h-2.1zM46 31.7h2.1v2.1h-2.1zM39.7 35.9h2.1v2.1h-2.1zM52.4 35.9h6.3v2.1h-6.3zM35.5 38h4.2v2.1h-4.2zM56.6 38h2.1v2.1h-2.1zM39.7 40.1h4.2v2.1h-4.2zM52.4 40.1h2.1v2.1h-2.1zM37.6 42.2h4.2v2.1h-4.2zM60.8 44.4h2.1v2.1h-2.1zM37.6 48.6h2.1v2.1h-2.1zM58.7 48.6h2.1v2.1h-2.1zM62.9 48.6h2.1v2.1h-2.1zM56.6 50.7h2.1v2.1h-2.1zM71.3 50.7h2.1v2.1h-2.1zM58.7 52.8h2.1v2.1h-2.1zM67.1 52.8h2.1v2.1h-2.1zM60.8 57h4.2v2.1h-4.2zM69.2 57h4.2v2.1h-4.2zM67.1 63.3h2.1v2.1h-2.1zM79.7 65.4h2.1v2.1h-2.1zM69.2 67.5h2.1v2.1h-2.1zM90.2 67.5h2.1v2.1h-2.1zM67.1 69.6h2.1v2.1h-2.1zM81.8 69.6h2.1v2.1h-2.1zM86 69.6h2.1v2.1h-2.1zM94.4 69.6h2.1v2.1h-2.1zM75.5 71.7h2.1v2.1h-2.1zM83.9 71.7h2.1v2.1h-2.1zM90.2 71.7h2.1v2.1h-2.1zM83.9 73.8h2.1v2.1h-2.1zM88.1 73.8h2.1v2.1h-2.1zM77.6 75.9h2.1v2.1h-2.1zM79.7 78h2.1v2.1h-2.1zM90.2 78h2.1v2.1h-2.1zM81.8 82.2h4.2v2.1h-4.2zM88.1 82.2h2.1v2.1h-2.1zM96.5 84.3h2.1v2.1h-2.1zM88.1 86.4h2.1v2.1h-2.1zM98.6 86.4h2.1v2.1h-2.1zM77.6 88.5h2.1v2.1h-2.1zM90.2 88.5h2.1v2.1h-2.1zM83.9 90.6h2.1v2.1h-2.1zM90.2 90.6h2.1v2.1h-2.1zM90.2 92.8h2.1v2.1h-2.1zM102.9 97h2.1v2.1h-2.1zM102.9 99.1h2.1v2.1h-2.1zM111.3 99.1h2.1v2.1h-2.1zM115.5 101.2h2.1v2.1h-2.1zM107.1 105.4h2.1v2.1h-2.1zM115.5 105.4h2.1v2.1h-2.1zM107.1 107.5h4.2v2.1h-4.2zM119.7 107.5h2.1v2.1h-2.1zM121.8 109.6h2.1v2.1h-2.1zM128.1 118h2.1v2.1h-2.1zM123.9 120.1h2.1v2.1h-2.1zM132.3 120.1h2.1v2.1h-2.1zM136.5 122.2h2.1v2.1h-2.1zM128.1 124.3h2.1v2.1h-2.1zM138.6 126.4h2.1v2.1h-2.1zM138.6 128.5h2.1v2.1h-2.1zM134.4 130.6h2.1v2.1h-2.1zM144.9 130.6h2.1v2.1h-2.1zM144.9 132.7h2.1v2.1h-2.1zM132.3 134.8h2.1v2.1h-2.1zM144.9 134.8h4.2v2.1h-4.2zM142.8 136.9h2.1v2.1h-2.1zM138.6 139h2.1v2.1h-2.1zM142.8 139h2.1v2.1h-2.1zM142.8 141.1h6.3v2.1h-6.3zM147 143.2h2.1v2.1h-2.1zM157.6 145.4h2.1v2.1h-2.1zM159.7 149.6h4.2v2.1h-4.2zM155.5 151.7h2.1v2.1h-2.1zM155.5 153.8h2.1v2.1h-2.1zM163.9 160.1h2.1v2.1h-2.1zM163.9 162.2h2.1v2.1h-2.1zM174.4 164.3h2.1v2.1h-2.1zM182.8 168.5h2.1v2.1h-2.1zM176.5 170.6h2.1v2.1h-2.1zM182.8 170.6h2.1v2.1h-2.1zM174.4 172.7h2.1v2.1h-2.1zM178.6 172.7h2.1v2.1h-2.1zM187 174.8h2.1v2.1h-2.1zM189.1 179h2.1v2.1h-2.1zM189.1 183.2h2.1v2.1h-2.1zM193.3 183.2h2.1v2.1h-2.1zM189.1 185.3h2.1v2.1h-2.1zM201.8 187.4h2.1v2.1h-2.1zM191.2 189.5h2.1v2.1h-2.1zM206 193.8h2.1v2.1h-2.1zM214.4 202.2h2.1v2.1h-2.1zM214.4 204.3h4.2v2.1h-4.2zM210.2 206.4h2.1v2.1h-2.1zM218.6 206.4h2.1v2.1h-2.1zM222.8 206.4h2.1v2.1h-2.1zM216.5 212.7h2.1v2.1h-2.1zM218.6 214.8h2.1v2.1h-2.1zM224.9 214.8h2.1v2.1h-2.1z" fill="#ffbbbb"/>
<path d="M27.1 17h2.1v2.1h-2.1zM29.2 23.3h2.1v2.1h-2.1zM35.5 31.7h2.1v2.1h-2.1zM43.9 31.7h2.1v2.1h-2.1zM39.7 33.8h2.1v2.1h-2.1zM46 33.8h2.1v2.1h-2.1zM35.5 35.9h2.1v2.1h-2.1zM41.8 38h4.2v2.1h-4.2zM54.5 40.1h2.1v2.1h-2.1zM54.5 42.2h4.2v2.1h-4.2zM50.2 44.4h2.1v2.1h-2.1zM46 46.5h2.1v2.1h-2.1zM52.4 46.5h2.1v2.1h-2.1zM48.1 48.6h2.1v2.1h-2.1zM52.4 48.6h2.1v2.1h-2.1zM60.8 50.7h2.1v2.1h-2.1zM65 52.8h2.1v2.1h-2.1zM77.6 59.1h2.1v2.1h-2.1zM65 61.2h2.1v2.1h-2.1zM69.2 63.3h2.1v2.1h-2.1zM73.4 67.5h2.1v2.1h-2.1zM73.4 71.7h2.1v2.1h-2.1zM86 73.8h2.1v2.1h-2.1zM96.5 75.9h2.1v2.1h-2.1zM79.7 80.1h2.1v2.1h-2.1zM83.9 80.1h2.1v2.1h-2.1zM90.2 80.1h2.1v2.1h-2.1zM86 82.2h2.1v2.1h-2.1zM94.4 82.2h2.1v2.1h-2.1zM98.6 82.2h2.1v2.1h-2.1zM88.1 84.3h4.2v2.1h-4.2zM98.6 88.5h2.1v2.1h-2.1zM102.9 92.8h4.2v2.1h-4.2zM98.6 94.9h2.1v2.1h-2.1zM98.6 97h2.1v2.1h-2.1zM105 101.2h2.1v2.1h-2.1zM115.5 103.3h2.1v2.1h-2.1zM115.5 109.6h2.1v2.1h-2.1zM123.9 111.7h2.1v2.1h-2.1zM119.7 113.8h2.1v2.1h-2.1zM126 113.8h2.1v2.1h-2.1zM126 115.9h2.1v2.1h-2.1zM126 120.1h2.1v2.1h-2.1zM130.2 120.1h2.1v2.1h-2.1zM126 122.2h2.1v2.1h-2.1zM134.4 122.2h2.1v2.1h-2.1zM130.2 124.3h2.1v2.1h-2.1zM132.3 130.6h2.1v2.1h-2.1zM136.5 134.8h2.1v2.1h-2.1zM140.7 134.8h2.1v2.1h-2.1zM140.7 136.9h2.1v2.1h-2.1zM147 136.9h2.1v2.1h-2.1zM151.2 139h2.1v2.1h-2.1zM151.2 141.1h2.1v2.1h-2.1zM149.1 143.2h2.1v2.1h-2.1zM155.5 143.2h2.1v2.1h-2.1zM149.1 145.4h2.1v2.1h-2.1zM157.6 147.5h2.1v2.1h-2.1zM155.5 149.6h2.1v2.1h-2.1zM161.8 151.7h2.1v2.1h-2.1zM163.9 153.8h4.2v2.1h-4.2zM159.7 155.9h4.2v2.1h-4.2zM163.9 158h2.1v2.1h-2.1zM172.3 160.1h2.1v2.1h-2.1zM166 162.2h4.2v2.1h-4.2zM176.5 166.4h2.1v2.1h-2.1zM178.6 168.5h2.1v2.1h-2.1zM182.8 172.7h2.1v2.1h-2.1zM182.8 176.9h2.1v2.1h-2.1zM191.2 181.1h2.1v2.1h-2.1zM195.4 183.2h2.1v2.1h-2.1zM191.2 185.3h2.1v2.1h-2.1zM195.4 185.3h2.1v2.1h-2.1zM199.6 187.4h2.1v2.1h-2.1zM199.6 189.5h2.1v2.1h-2.1zM203.9 193.8h2.1v2.1h-2.1zM206 195.9h2.1v2.1h-2.1zM203.9 198h2.1v2.1h-2.1zM208.1 198h2.1v2.1h-2.1zM212.3 202.2h2.1v2.1h-2.1zM208.1 204.3h2.1v2.1h-2.1zM218.6 208.5h2.1v2.1h-2.1zM214.4 210.6h2.1v2.1h-2.1zM220.7 214.8h2.1v2.1h-2.1zM222.8 216.9h2.1v2.1h-2.1z" fill="#ffaaaa"/>
<path d="M31.3 25.4h2.1v2.1h-2.1zM39.7 27.5h2.1v2.1h-2.1zM35.5 29.6h2.1v2.1h-2.1zM39.7 29.6h2.1v2.1h-2.1zM43.9 33.8h2.1v2.1h-2.1zM41.8 35.9h2.1v2.1h-2.1zM46 42.2h4.2v2.1h-4.2zM56.6 44.4h2.1v2.1h-2.1zM48.1 46.5h2.1v2.1h-2.1zM50.2 48.6h2.1v2.1h-2.1zM65 54.9h2.1v2.1h-2.1zM67.1 57h2.1v2.1h-2.1zM69.2 59.1h2.1v2.1h-2.1zM67.1 61.2h2.1v2.1h-2.1zM73.4 63.3h2.1v2.1h-2.1zM71.3 67.5h2.1v2.1h-2.1zM81.8 75.9h2.1v2.1h-2.1zM90.2 86.4h2.1v2.1h-2.1zM92.3 88.5h2.1v2.1h-2.1zM100.8 90.6h2.1v2.1h-2.1zM105 94.9h2.1v2.1h-2.1zM107.1 97h2.1v2.1h-2.1zM107.1 101.2h2.1v2.1h-2.1zM113.4 103.3h2.1v2.1h-2.1zM111.3 105.4h2.1v2.1h-2.1zM113.4 111.7h2.1v2.1h-2.1zM123.9 113.8h2.1v2.1h-2.1zM134.4 128.5h2.1v2.1h-2.1zM136.5 130.6h2.1v2.1h-2.1zM142.8 130.6h2.1v2.1h-2.1zM153.4 141.1h2.1v2.1h-2.1zM151.2 145.4h2.1v2.1h-2.1zM153.4 147.5h2.1v2.1h-2.1zM159.7 153.8h2.1v2.1h-2.1zM166 160.1h2.1v2.1h-2.1zM170.2 160.1h2.1v2.1h-2.1zM174.4 168.5h2.1v2.1h-2.1zM184.9 174.8h2.1v2.1h-2.1zM187 176.9h2.1v2.1h-2.1zM182.8 179h4.2v2.1h-4.2zM184.9 181.1h2.1v2.1h-2.1zM193.3 187.4h2.1v2.1h-2.1zM197.5 187.4h2.1v2.1h-2.1zM195.4 189.5h2.1v2.1h-2.1zM195.4 191.6h4.2v2.1h-4.2zM201.8 191.6h2.1v2.1h-2.1zM210.2 204.3h2.1v2.1h-2.1zM220.7 210.6h2.1v2.1h-2.1zM218.6 212.7h2.1v2.1h-2.1z" fill="#ff9999"/>
<path d="M41.8 31.7h2.1v2.1h-2.1zM46 35.9h2.1v2.1h-2.1zM65 59.1h2.1v2.1h-2.1zM75.5 63.3h2.1v2.1h-2.1zM71.3 65.4h2.1v2.1h-2.1zM75.5 65.4h4.2v2.1h-4.2zM73.4 69.6h4.2v2.1h-4.2zM79.7 69.6h2.1v2.1h-2.1zM88.1 78h2.1v2.1h-2.1zM94.4 88.5h2.1v2.1h-2.1zM100.8 88.5h2.1v2.1h-2.1zM96.5 92.8h2.1v2.1h-2.1zM100.8 94.9h2.1v2.1h-2.1zM109.2 99.1h2.1v2.1h-2.1zM113.4 107.5h2.1v2.1h-2.1zM119.7 109.6h2.1v2.1h-2.1zM115.5 111.7h2.1v2.1h-2.1zM121.8 111.7h2.1v2.1h-2.1zM132.3 122.2h2.1v2.1h-2.1zM130.2 126.4h2.1v2.1h-2.1zM136.5 126.4h2.1v2.1h-2.1zM140.7 128.5h2.1v2.1h-2.1zM138.6 132.7h2.1v2.1h-2.1zM144.9 139h2.1v2.1h-2.1zM149.1 139h2.1v2.1h-2.1zM157.6 153.8h2.1v2.1h-2.1zM172.3 162.2h2.1v2.1h-2.1zM199.6 193.8h2.1v2.1h-2.1zM206 200.1h2.1v2.1h-2.1zM208.1 202.2h2.1v2.1h-2.1zM212.3 206.4h2.1v2.1h-2.1zM214.4 208.5h2.1v2.1h-2.1z" fill="#ff8888"/>
<path d="M33.4 23.3h2.1v2.1h-2.1zM37.6 27.5h2.1v2.1h-2.1zM46 40.1h2.1v2.1h-2.1zM50.2 40.1h2.1v2.1h-2.1zM52.4 42.2h2.1v2.1h-2.1zM54.5 44.4h2.1v2.1h-2.1zM56.6 46.5h2.1v2.1h-2.1zM71.3 61.2h2.1v2.1h-2.1zM69.2 65.4h2.1v2.1h-2.1zM77.6 71.7h2.1v2.1h-2.1zM81.8 71.7h2.1v2.1h-2.1zM86 75.9h2.1v2.1h-2.1zM92.3 78h2.1v2.1h-2.1zM92.3 86.4h2.1v2.1h-2.1zM105 99.1h2.1v2.1h-2.1zM117.6 107.5h2.1v2.1h-2.1zM123.9 118h2.1v2.1h-2.1zM132.3 126.4h2.1v2.1h-2.1zM142.8 132.7h2.1v2.1h-2.1zM155.5 145.4h2.1v2.1h-2.1zM172.3 166.4h2.1v2.1h-2.1zM201.8 195.9h2.1v2.1h-2.1zM216.5 210.6h2.1v2.1h-2.1zM222.8 212.7h2.1v2.1h-2.1z" fill="#ff7777"/>
<path d="M48.1 38h2.1v2.1h-2.1zM79.7 73.8h2.1v2.1h-2.1zM98.6 92.8h2.1v2.1h-2.1zM111.3 101.2h2.1v2.1h-2.1zM109.2 103.3h2.1v2.1h-2.1zM121.8 115.9h2.1v2.1h-2.1zM140.7 130.6h2.1v2.1h-2.1zM157.6 151.7h2.1v2.1h-2.1zM166 155.9h2.1v2.1h-2.1zM210.2 200.1h2.1v2.1h-2.1z" fill="#ff6666"/>
<path d="M54.5 48.6h2.1v2.1h-2.1zM62.9 52.8h2.1v2.1h-2.1zM60.8 54.9h2.1v2.1h-2.1zM117.6 111.7h2.1v2.1h-2.1z" fill="#ff5555"/>
<path d="M50.2 46.5h2.1v2.1h-2.1zM83.9 78h2.1v2.1h-2.1zM92.3 82.2h2.1v2.1h-2.1zM153.4 143.2h2.1v2.1h-2.1z" fill="#ff4444"/>
<path d="M96.5 86.4h2.1v2.1h-2.1z" fill="#ff3333"/>
<path d="M77.6 67.5h2.1v2.1h-2.1z" fill="#ff1111"/>
<path d="M96.5 90.6h2.1v2.1h-2.1z" fill="#ff0000"/></g>
<line x1="25" y1="17" x2="227" y2="219" stroke="#ff1f1f" stroke-width="1.25"/>
<rect x="25" y="17" width="202" height="202" fill="none" stroke="#000" stroke-width="1.5"/>
<text x="223" y="32" font-size="11.5" text-anchor="end" textLength="85" lengthAdjust="spacingAndGlyphs">chr4: 2Mb-6 Mb</text>
<text x="31" y="198" font-size="11.5">1 kb</text>
<text x="31" y="213" font-size="11.5" textLength="53" lengthAdjust="spacingAndGlyphs">resolution</text>
<text x="10" y="112.3" font-size="12.5" text-anchor="middle">128</text>
<text x="10" y="126" font-size="12" text-anchor="middle">kb</text>
<rect x="25.5" y="110.5" width="201" height="6.5" fill="none" stroke="#f6c6a6" stroke-width="2"/>
<line x1="98.7" y1="52.5" x2="127.69999999999999" y2="80.8" stroke="#f5c5a3" stroke-width="3.4"/>
<polygon points="133.7,86.8 122,83 129.7,75.2" fill="#f5c5a3"/>
<line x1="171.4" y1="127.7" x2="201.1" y2="156.7" stroke="#f5c5a3" stroke-width="3.4"/>
<polygon points="207.1,162.7 195.4,158.9 203.1,151.1" fill="#f5c5a3"/>
<polygon points="231,108.8 239,108.8 239,102.2 247,114 239,125.8 239,119.2 231,119.2" fill="#d5ddf8"/>
<polygon points="247,60 312,81.5 312,149 247,171" fill="#d7defa"/>
<g stroke-linecap="round" stroke-linejoin="round" fill="none">
<path d="M280,111L280,99.5M280,107.6L283.6,104.6M280,107.6L276.4,104.6M280,103.7L283,101.2M280,103.7L277,101.2M277.8,112.2L267.9,106.5M274.9,110.6L274.1,105.9M274.9,110.6L270.4,112.2M271.5,108.6L270.8,104.7M271.5,108.6L267.8,109.9M277.8,114.8L267.9,120.5M274.9,116.4L270.4,114.8M274.9,116.4L274.1,121.1M271.5,118.4L267.8,117.1M271.5,118.4L270.8,122.3M280,116L280,127.5M280,119.4L276.4,122.4M280,119.4L283.6,122.4M280,123.3L277,125.8M280,123.3L283,125.8M282.2,114.8L292.1,120.5M285.1,116.4L285.9,121.1M285.1,116.4L289.6,114.8M288.5,118.4L289.2,122.3M288.5,118.4L292.2,117.1M282.2,112.2L292.1,106.5M285.1,110.6L289.6,112.2M285.1,110.6L285.9,105.9M288.5,108.6L292.2,109.9M288.5,108.6L289.2,104.7" stroke="#8f8f8f" stroke-width="3.4"/>
<polygon points="282.9,115.2 280,116.9 277.1,115.2 277.1,111.8 280,110.1 282.9,111.8" stroke="#8f8f8f" stroke-width="1.4" fill="#d9d9d9"/>
<path d="M280,111L280,99.5M280,107.6L283.6,104.6M280,107.6L276.4,104.6M280,103.7L283,101.2M280,103.7L277,101.2M277.8,112.2L267.9,106.5M274.9,110.6L274.1,105.9M274.9,110.6L270.4,112.2M271.5,108.6L270.8,104.7M271.5,108.6L267.8,109.9M277.8,114.8L267.9,120.5M274.9,116.4L270.4,114.8M274.9,116.4L274.1,121.1M271.5,118.4L267.8,117.1M271.5,118.4L270.8,122.3M280,116L280,127.5M280,119.4L276.4,122.4M280,119.4L283.6,122.4M280,123.3L277,125.8M280,123.3L283,125.8M282.2,114.8L292.1,120.5M285.1,116.4L285.9,121.1M285.1,116.4L289.6,114.8M288.5,118.4L289.2,122.3M288.5,118.4L292.2,117.1M282.2,112.2L292.1,106.5M285.1,110.6L289.6,112.2M285.1,110.6L285.9,105.9M288.5,108.6L292.2,109.9M288.5,108.6L289.2,104.7" stroke="#d9d9d9" stroke-width="1.4"/>
</g>
<rect x="317.4" y="47" width="3.3" height="135" fill="#e6ebfb" stroke="#3a3a3a" stroke-width="0.8"/>
<path d="M317.4,51h3.3M317.4,54.9h3.3M317.4,58.9h3.3M317.4,62.9h3.3M317.4,66.9h3.3M317.4,70.8h3.3M317.4,74.8h3.3M317.4,78.8h3.3M317.4,82.7h3.3M317.4,86.7h3.3M317.4,90.7h3.3M317.4,94.6h3.3M317.4,98.6h3.3M317.4,102.6h3.3M317.4,106.6h3.3M317.4,110.5h3.3M317.4,114.5h3.3M317.4,118.5h3.3M317.4,122.4h3.3M317.4,126.4h3.3M317.4,130.4h3.3M317.4,134.4h3.3M317.4,138.3h3.3M317.4,142.3h3.3M317.4,146.3h3.3M317.4,150.2h3.3M317.4,154.2h3.3M317.4,158.2h3.3M317.4,162.1h3.3M317.4,166.1h3.3M317.4,170.1h3.3M317.4,174.1h3.3M317.4,178h3.3" stroke="#333" stroke-width="0.8"/>
<polygon points="324,108.5 332.5,108.5 332.5,102.2 340,114 332.5,125.8 332.5,119.5 324,119.5" fill="#d5ddf8"/>
<polygon points="341,98 386,89 386,138.5 341,129" fill="#d7defa"/>
<g transform="translate(364,113) scale(1.0)"><path d="M0.1,-14 C-1,-9 -8.5,-3 -8.2,5 C-8,11 -4,14.4 -0.5,14.4 C4,14.4 7.6,11 7.6,5 C7.6,2.5 7,0.5 6.5,-0.5 C6,1.5 5,2.5 4,3 C4.5,-3 2,-9 0.1,-14 Z" fill="#e5484a"/><path d="M1,-6.3 C0,-3 -5.7,2 -5.7,7.5 C-5.7,11 -3,13.5 -0.5,13.5 C2.5,13.5 5.1,11 5.1,7.5 C5.1,3 2,-1 1,-6.3 Z" fill="#f5895a"/></g>
<polygon points="387.5,108.5 395.7,108.5 395.7,102.2 403.5,114 395.7,125.8 395.7,119.5 387.5,119.5" fill="#d5ddf8"/>
<rect x="406.4" y="47" width="3.1" height="135" fill="#e6ebfb" stroke="#3a3a3a" stroke-width="0.8"/>
<path d="M406.4,51h3.1M406.4,54.9h3.1M406.4,58.9h3.1M406.4,62.9h3.1M406.4,66.9h3.1M406.4,70.8h3.1M406.4,74.8h3.1M406.4,78.8h3.1M406.4,82.7h3.1M406.4,86.7h3.1M406.4,90.7h3.1M406.4,94.6h3.1M406.4,98.6h3.1M406.4,102.6h3.1M406.4,106.6h3.1M406.4,110.5h3.1M406.4,114.5h3.1M406.4,118.5h3.1M406.4,122.4h3.1M406.4,126.4h3.1M406.4,130.4h3.1M406.4,134.4h3.1M406.4,138.3h3.1M406.4,142.3h3.1M406.4,146.3h3.1M406.4,150.2h3.1M406.4,154.2h3.1M406.4,158.2h3.1M406.4,162.1h3.1M406.4,166.1h3.1M406.4,170.1h3.1M406.4,174.1h3.1M406.4,178h3.1" stroke="#333" stroke-width="0.8"/>
<line x1="416" y1="37" x2="432" y2="37" stroke="#c9d3f5" stroke-width="2.2"/>
<polygon points="431,33.5 438.5,37 431,40.5" fill="#c9d3f5"/>
<text x="477" y="41.6" font-size="14" text-anchor="middle" textLength="38" lengthAdjust="spacingAndGlyphs">CTCF</text>
<line x1="416" y1="70.6" x2="432" y2="70.6" stroke="#c9d3f5" stroke-width="2.2"/>
<polygon points="431,67.1 438.5,70.6 431,74.1" fill="#c9d3f5"/>
<text x="477" y="75.6" font-size="14" text-anchor="middle" textLength="64.5" lengthAdjust="spacingAndGlyphs">H3K4me3</text>
<line x1="416" y1="104.6" x2="432" y2="104.6" stroke="#c9d3f5" stroke-width="2.2"/>
<polygon points="431,101.1 438.5,104.6 431,108.1" fill="#c9d3f5"/>
<text x="477" y="109.2" font-size="14" text-anchor="middle" textLength="60" lengthAdjust="spacingAndGlyphs">H3K27ac</text>
<line x1="416" y1="138" x2="432" y2="138" stroke="#c9d3f5" stroke-width="2.2"/>
<polygon points="431,134.5 438.5,138 431,141.5" fill="#c9d3f5"/>
<text x="477" y="142.6" font-size="14" text-anchor="middle" textLength="72.4" lengthAdjust="spacingAndGlyphs">H3K27me3</text>
<line x1="416" y1="172" x2="432" y2="172" stroke="#c9d3f5" stroke-width="2.2"/>
<polygon points="431,168.5 438.5,172 431,175.5" fill="#c9d3f5"/>
<text x="477" y="177" font-size="14" text-anchor="middle" textLength="64.5" lengthAdjust="spacingAndGlyphs">ATAC-seq</text>
<line x1="416" y1="206.6" x2="432" y2="206.6" stroke="#c9d3f5" stroke-width="2.2"/>
<polygon points="431,203.1 438.5,206.6 431,210.1" fill="#c9d3f5"/>
<text x="477" y="211" font-size="14" text-anchor="middle" textLength="72.4" lengthAdjust="spacingAndGlyphs">DNase-seq</text>
<text x="632.3" y="10.7" font-size="13" text-anchor="middle" textLength="126" lengthAdjust="spacingAndGlyphs">Epigenomic assays</text>
<path d="M520,49.6 L520,49.5 L520.7,48.9 L521.4,49 L522.1,49.4 L522.8,49.2 L523.5,49.2 L524.2,49.1 L524.9,49 L525.6,49.5 L526.3,49.6 L527,48.9 L527.7,49.1 L528.4,47.4 L529.1,42.5 L529.8,30.8 L530.5,22.2 L531.2,27.6 L531.9,38.9 L532.6,46.3 L533.3,49.2 L534,49.6 L534.7,49.2 L535.4,48.8 L536.1,49.3 L536.8,49.4 L537.5,49.3 L538.2,49.6 L538.9,49.4 L539.6,49.2 L540.3,49.2 L541,49.4 L541.7,49.3 L542.4,48.3 L543.1,44.8 L543.8,39.7 L544.5,37.7 L545.2,40.7 L545.9,46 L546.6,48.4 L547.3,49.4 L548,48.8 L548.7,48.9 L549.4,49.5 L550.1,49.3 L550.8,49 L551.5,49 L552.2,48.9 L552.9,49.3 L553.6,48.9 L554.3,49.1 L555,49.4 L555.7,49.1 L556.4,48.9 L557.1,48.9 L557.8,49.2 L558.5,49.1 L559.2,49.6 L559.9,49.4 L560.6,49 L561.3,49.3 L562,49.5 L562.7,49.2 L563.4,49 L564.1,49.1 L564.8,49.3 L565.5,49.2 L566.2,49.2 L566.9,49 L567.6,49.2 L568.3,49.3 L569,49.2 L569.7,49.6 L570.4,49.6 L571.1,49 L571.8,48.8 L572.5,49.1 L573.2,49.3 L573.9,49.5 L574.6,49.2 L575.3,48.8 L576,49 L576.7,49.2 L577.4,48.9 L578.1,49.4 L578.8,49.2 L579.5,48.8 L580.2,49.1 L580.9,49.2 L581.6,49.4 L582.3,49.2 L583,48.8 L583.7,49.6 L584.4,49 L585.1,48.9 L585.8,48.9 L586.5,49 L587.2,48.9 L587.9,49.2 L588.6,49.1 L589.3,49 L590,49 L590.7,47.9 L591.4,47.8 L592.1,47.9 L592.8,47.9 L593.5,48.4 L594.2,48.9 L594.9,49.1 L595.6,49.1 L596.3,49.1 L597,49.1 L597.7,49.2 L598.4,49.6 L599.1,49.4 L599.8,49.5 L600.5,49.1 L601.2,48.9 L601.9,49 L602.6,49 L603.3,48.9 L604,49.4 L604.7,48.9 L605.4,49.1 L606.1,49.5 L606.8,49.6 L607.5,49.6 L608.2,49 L608.9,49.4 L609.6,49.5 L610.3,49.1 L611,49.3 L611.7,49.5 L612.4,49.5 L613.1,49.2 L613.8,49.5 L614.5,49.4 L615.2,49 L615.9,49.2 L616.6,49.3 L617.3,49.2 L618,49.6 L618.7,49.3 L619.4,49.3 L620.1,49.4 L620.8,49.5 L621.5,48.9 L622.2,49.2 L622.9,49.4 L623.6,49.1 L624.3,48.9 L625,49.6 L625.7,49.6 L626.4,49.5 L627.1,49 L627.8,49.5 L628.5,49 L629.2,49.1 L629.9,49.2 L630.6,49.4 L631.3,48.8 L632,49 L632.7,49.2 L633.4,49.4 L634.1,49.1 L634.8,49.3 L635.5,49.1 L636.2,49.3 L636.9,49.1 L637.6,49.6 L638.3,49.4 L639,48.8 L639.7,48.9 L640.4,49.3 L641.1,48.9 L641.8,49.2 L642.5,48.5 L643.2,48.3 L643.9,48.2 L644.6,48 L645.3,48.1 L646,47.7 L646.7,48.8 L647.4,48.6 L648.1,48.7 L648.8,49.1 L649.5,49.5 L650.2,48.9 L650.9,48.8 L651.6,49 L652.3,49.2 L653,49.3 L653.7,49.3 L654.4,49.4 L655.1,49.1 L655.8,49.3 L656.5,49.4 L657.2,49.5 L657.9,49.1 L658.6,49.4 L659.3,49.2 L660,49.3 L660.7,48.9 L661.4,48.9 L662.1,49.6 L662.8,49.4 L663.5,49.3 L664.2,48.8 L664.9,49 L665.6,49.3 L666.3,49.4 L667,49.1 L667.7,48.9 L668.4,48.9 L669.1,49.3 L669.8,48.9 L670.5,49.1 L671.2,49.2 L671.9,48.8 L672.6,49.4 L673.3,49 L674,49.5 L674.7,49.5 L675.4,48.9 L676.1,49.4 L676.8,49 L677.5,49.1 L678.2,48.9 L678.9,49.3 L679.6,49.3 L680.3,49.4 L681,48.9 L681.7,49.1 L682.4,48.8 L683.1,48.9 L683.8,49.5 L684.5,49.2 L685.2,49.5 L685.9,49.6 L686.6,49.5 L687.3,48.9 L688,49 L688.7,48.9 L689.4,49.3 L690.1,49.1 L690.8,49 L691.5,49.3 L692.2,49.1 L692.9,49.4 L693.6,49.5 L694.3,49.4 L695,48.9 L695.7,49.1 L696.4,48.9 L697.1,49.2 L697.8,49.4 L698.5,49 L699.2,48.9 L699.9,49.6 L700.6,49.1 L701.3,49.5 L702,49.5 L702.7,48.9 L703.4,49.6 L704.1,49.4 L704.8,48.8 L705.5,49.3 L706.2,49.5 L706.9,49.5 L707.6,49.4 L708.3,49 L709,49.5 L709.7,48.9 L710.4,49.3 L711.1,48.8 L711.8,48.9 L712.5,49.4 L713.2,49.4 L713.9,49.2 L714.6,49.5 L715.3,49.1 L716,49.6 L716.7,49.6 L717.4,48.8 L718.1,49.4 L718.8,49.1 L719.5,49.2 L720.2,49.3 L720.9,49.5 L721.6,48.9 L722.3,48.8 L723,48.8 L723.7,49.5 L724.4,49.4 L725.1,49.1 L725.8,48.8 L726.5,49.2 L727.2,49 L727.9,49.1 L728.6,49.4 L729.3,49.2 L730,49.4 L730.7,49.4 L731.4,49.5 L732.1,49.4 L732.8,48.8 L733.5,49.2 L734.2,49.1 L734.9,49.1 L735.6,48.8 L736.3,49.3 L737,49.4 L737.7,49.3 L738.4,49.3 L739.1,48.9 L739.8,48.9 L740,49.6 Z" fill="#b3d0f1"/>
<line x1="520" y1="49.6" x2="740" y2="49.6" stroke="#b3d0f1" stroke-width="1"/>
<path d="M520,83.3 L520,82.7 L520.7,82.3 L521.4,81.9 L522.1,81.8 L522.8,82 L523.5,82.4 L524.2,82.9 L524.9,83.1 L525.6,83.2 L526.3,83.3 L527,83.3 L527.7,83.3 L528.4,83.3 L529.1,83.3 L529.8,83.3 L530.5,83.3 L531.2,83.3 L531.9,83.3 L532.6,83.3 L533.3,83.3 L534,83.3 L534.7,83.3 L535.4,83.3 L536.1,83.3 L536.8,83.3 L537.5,83.3 L538.2,83.3 L538.9,83.3 L539.6,83.3 L540.3,83.3 L541,83.3 L541.7,83.3 L542.4,83.3 L543.1,83.3 L543.8,83.3 L544.5,83.3 L545.2,83.3 L545.9,83.3 L546.6,83.3 L547.3,83.3 L548,83.3 L548.7,83.3 L549.4,83.2 L550.1,82.7 L550.8,80.2 L551.5,73.4 L552.2,63 L552.9,56.4 L553.6,60.3 L554.3,70.6 L555,78.7 L555.7,82.2 L556.4,83.1 L557.1,83.3 L557.8,83.3 L558.5,83.3 L559.2,83.3 L559.9,83.3 L560.6,83.3 L561.3,83.3 L562,83.3 L562.7,83.3 L563.4,83.3 L564.1,83.3 L564.8,83.3 L565.5,83.3 L566.2,83.3 L566.9,83.3 L567.6,83.3 L568.3,83.3 L569,83.3 L569.7,83.3 L570.4,83.3 L571.1,83.3 L571.8,83.3 L572.5,83.3 L573.2,83.3 L573.9,83.3 L574.6,83.3 L575.3,83.3 L576,83.3 L576.7,83.3 L577.4,83.3 L578.1,83.3 L578.8,83.3 L579.5,83.3 L580.2,83.3 L580.9,83.3 L581.6,83.3 L582.3,83.3 L583,83.3 L583.7,83.3 L584.4,83.3 L585.1,83.3 L585.8,83.3 L586.5,83.3 L587.2,83.3 L587.9,83.3 L588.6,83.3 L589.3,83.3 L590,83.3 L590.7,83.3 L591.4,83.3 L592.1,83.3 L592.8,83.3 L593.5,83.3 L594.2,83.3 L594.9,83.3 L595.6,83.3 L596.3,83.3 L597,83.3 L597.7,83.3 L598.4,83.3 L599.1,83.3 L599.8,83.3 L600.5,83.3 L601.2,83.3 L601.9,83.3 L602.6,83.3 L603.3,83.3 L604,83.3 L604.7,83.3 L605.4,83.3 L606.1,83.3 L606.8,83.3 L607.5,83.3 L608.2,83.3 L608.9,83.3 L609.6,83.3 L610.3,83.3 L611,83.3 L611.7,83.3 L612.4,83.3 L613.1,83.3 L613.8,83.3 L614.5,83.3 L615.2,83.3 L615.9,83.3 L616.6,83.3 L617.3,83.3 L618,83.3 L618.7,83.3 L619.4,83.3 L620.1,83.3 L620.8,83.3 L621.5,83.3 L622.2,83.3 L622.9,83.3 L623.6,83.3 L624.3,83.3 L625,83.3 L625.7,83.3 L626.4,83.3 L627.1,83.3 L627.8,83.3 L628.5,83.3 L629.2,83.3 L629.9,83.3 L630.6,83.3 L631.3,83.3 L632,83.3 L632.7,83.3 L633.4,83.3 L634.1,83.3 L634.8,83.3 L635.5,83.3 L636.2,83.3 L636.9,83.3 L637.6,83.3 L638.3,83.3 L639,83.3 L639.7,83.3 L640.4,83.3 L641.1,83.3 L641.8,83.3 L642.5,83.3 L643.2,83.3 L643.9,83.3 L644.6,83.3 L645.3,83.3 L646,83.3 L646.7,83.3 L647.4,83.3 L648.1,83.3 L648.8,83.3 L649.5,83.3 L650.2,83.3 L650.9,83.3 L651.6,83.3 L652.3,83.3 L653,83.3 L653.7,83.3 L654.4,83.3 L655.1,83.3 L655.8,83.3 L656.5,83.3 L657.2,83.3 L657.9,83.3 L658.6,83.3 L659.3,83.3 L660,83.3 L660.7,83.3 L661.4,83.3 L662.1,83.3 L662.8,83.3 L663.5,83.3 L664.2,83.3 L664.9,83.3 L665.6,83.3 L666.3,83.3 L667,83.3 L667.7,83.3 L668.4,83.3 L669.1,83.3 L669.8,83.3 L670.5,83.3 L671.2,83.3 L671.9,83.3 L672.6,83.3 L673.3,83.3 L674,83.3 L674.7,83.3 L675.4,83.3 L676.1,83.3 L676.8,83.3 L677.5,83.3 L678.2,83.3 L678.9,83.3 L679.6,83.3 L680.3,83.3 L681,83.3 L681.7,83.3 L682.4,83.3 L683.1,83.3 L683.8,83.3 L684.5,83.3 L685.2,83.3 L685.9,83.3 L686.6,83.3 L687.3,83.3 L688,83.3 L688.7,83.3 L689.4,83.3 L690.1,83.3 L690.8,83.3 L691.5,83.3 L692.2,83.3 L692.9,83.3 L693.6,83.3 L694.3,83.3 L695,83.3 L695.7,83.3 L696.4,83.3 L697.1,83.3 L697.8,83.3 L698.5,83.3 L699.2,83.3 L699.9,83.3 L700.6,83.3 L701.3,83.3 L702,83.3 L702.7,83.3 L703.4,83.3 L704.1,83.3 L704.8,83.3 L705.5,83.3 L706.2,83.3 L706.9,83.3 L707.6,83.3 L708.3,83.3 L709,83.3 L709.7,83.3 L710.4,83.3 L711.1,83.3 L711.8,83.3 L712.5,83.3 L713.2,83.3 L713.9,83.3 L714.6,83.3 L715.3,83.3 L716,83.3 L716.7,83.3 L717.4,83.3 L718.1,83.3 L718.8,83.3 L719.5,83.3 L720.2,83.3 L720.9,83.3 L721.6,83.3 L722.3,83.3 L723,83.3 L723.7,83.3 L724.4,83.3 L725.1,83.3 L725.8,83.3 L726.5,83.3 L727.2,83.3 L727.9,83.3 L728.6,83.3 L729.3,83.3 L730,83.3 L730.7,83.3 L731.4,83.3 L732.1,83.3 L732.8,83.3 L733.5,83.3 L734.2,83.3 L734.9,83.3 L735.6,83.3 L736.3,83.3 L737,83.3 L737.7,83.3 L738.4,83.3 L739.1,83.3 L739.8,83.3 L740,83.3 Z" fill="#f7be98"/>
<line x1="520" y1="83.3" x2="740" y2="83.3" stroke="#f7be98" stroke-width="1"/>
<path d="M520,116 L520,106.4 L520.7,102.2 L521.4,102.7 L522.1,107 L522.8,111.7 L523.5,114.7 L524.2,115.7 L524.9,115.5 L525.6,115.9 L526.3,115.9 L527,115.5 L527.7,115.8 L528.4,115.6 L529.1,115.8 L529.8,115.7 L530.5,115.9 L531.2,115.7 L531.9,115.6 L532.6,115.7 L533.3,115.6 L534,115.7 L534.7,116 L535.4,115.6 L536.1,115.7 L536.8,115.8 L537.5,116 L538.2,115.6 L538.9,115.8 L539.6,115.6 L540.3,115.6 L541,115.6 L541.7,115.5 L542.4,115.8 L543.1,115.6 L543.8,115.8 L544.5,115.5 L545.2,115.6 L545.9,116 L546.6,115.9 L547.3,115.9 L548,115.5 L548.7,115.8 L549.4,115.7 L550.1,115.8 L550.8,115.5 L551.5,113.6 L552.2,105.9 L552.9,93 L553.6,89.4 L554.3,100.2 L555,111.1 L555.7,114.9 L556.4,115.5 L557.1,115.5 L557.8,115.7 L558.5,115.9 L559.2,115.6 L559.9,115.5 L560.6,115.5 L561.3,115.7 L562,115.6 L562.7,115.9 L563.4,115.6 L564.1,115.7 L564.8,115.9 L565.5,116 L566.2,115.6 L566.9,115.5 L567.6,116 L568.3,115.6 L569,115.8 L569.7,115.9 L570.4,115.8 L571.1,115.5 L571.8,115.2 L572.5,114.9 L573.2,113.4 L573.9,113 L574.6,113.1 L575.3,114.4 L576,115.1 L576.7,115.4 L577.4,115.7 L578.1,115.5 L578.8,115.8 L579.5,116 L580.2,115.7 L580.9,116 L581.6,115.9 L582.3,115.8 L583,115.7 L583.7,115.9 L584.4,116 L585.1,115.6 L585.8,115.8 L586.5,115.5 L587.2,115.6 L587.9,115.8 L588.6,115.8 L589.3,115.7 L590,115.7 L590.7,115.7 L591.4,115.7 L592.1,115.7 L592.8,115.5 L593.5,115.7 L594.2,115.8 L594.9,115.6 L595.6,115.9 L596.3,115.8 L597,115.5 L597.7,115.7 L598.4,115.7 L599.1,116 L599.8,115.8 L600.5,115.7 L601.2,116 L601.9,115.7 L602.6,115.7 L603.3,116 L604,115.7 L604.7,115.8 L605.4,115.7 L606.1,115.8 L606.8,115.6 L607.5,115.6 L608.2,116 L608.9,116 L609.6,115.7 L610.3,115.5 L611,115.9 L611.7,115.8 L612.4,115.7 L613.1,115.8 L613.8,115.8 L614.5,115.8 L615.2,115.8 L615.9,115.7 L616.6,115.8 L617.3,115.8 L618,115.6 L618.7,116 L619.4,115.7 L620.1,115.6 L620.8,115.8 L621.5,115.9 L622.2,115.6 L622.9,115.9 L623.6,115.9 L624.3,115.8 L625,115.7 L625.7,115.9 L626.4,115.8 L627.1,115.8 L627.8,115.6 L628.5,115.8 L629.2,115.6 L629.9,115.9 L630.6,115.8 L631.3,115.7 L632,115.6 L632.7,115.8 L633.4,115.9 L634.1,115.9 L634.8,115.7 L635.5,115.9 L636.2,115.6 L636.9,115.6 L637.6,115.9 L638.3,115.9 L639,115.6 L639.7,115.7 L640.4,115.6 L641.1,115.8 L641.8,115.9 L642.5,115.9 L643.2,115.6 L643.9,115.9 L644.6,115.8 L645.3,115.8 L646,115.8 L646.7,115.8 L647.4,115.5 L648.1,115.9 L648.8,116 L649.5,115.5 L650.2,115.6 L650.9,115.5 L651.6,115.8 L652.3,115.5 L653,115.5 L653.7,115.9 L654.4,115.6 L655.1,115.6 L655.8,115.7 L656.5,115.7 L657.2,115.9 L657.9,115.8 L658.6,115.9 L659.3,116 L660,115.7 L660.7,115.9 L661.4,115.6 L662.1,116 L662.8,115.5 L663.5,115.7 L664.2,115.5 L664.9,115.6 L665.6,115.6 L666.3,115.7 L667,116 L667.7,115.6 L668.4,115.9 L669.1,115.9 L669.8,115.7 L670.5,115.7 L671.2,115.8 L671.9,115.5 L672.6,115.7 L673.3,115.8 L674,115.9 L674.7,115.6 L675.4,115.8 L676.1,115.6 L676.8,115.8 L677.5,115.9 L678.2,115.7 L678.9,115.6 L679.6,115.9 L680.3,115.5 L681,115.3 L681.7,115.1 L682.4,114.5 L683.1,114.4 L683.8,113.7 L684.5,113.7 L685.2,114.6 L685.9,115.1 L686.6,115.5 L687.3,115.5 L688,115.2 L688.7,114.3 L689.4,113.1 L690.1,113 L690.8,113.7 L691.5,114.8 L692.2,115.6 L692.9,115.8 L693.6,115.3 L694.3,114.9 L695,114.5 L695.7,113.1 L696.4,112.2 L697.1,111.9 L697.8,112.4 L698.5,113.4 L699.2,114.5 L699.9,115.3 L700.6,115.7 L701.3,115.8 L702,115.9 L702.7,115.7 L703.4,115.6 L704.1,115.8 L704.8,116 L705.5,115.9 L706.2,115.8 L706.9,115.7 L707.6,115.6 L708.3,115.8 L709,115.6 L709.7,115.7 L710.4,115.8 L711.1,115.8 L711.8,115.8 L712.5,115.6 L713.2,115.8 L713.9,115.7 L714.6,115.8 L715.3,115.9 L716,115.7 L716.7,115.7 L717.4,116 L718.1,115.8 L718.8,115.8 L719.5,115.6 L720.2,115.5 L720.9,115.8 L721.6,115.6 L722.3,115.6 L723,115.9 L723.7,115.8 L724.4,115.9 L725.1,115.6 L725.8,115.7 L726.5,115.6 L727.2,115.6 L727.9,115.7 L728.6,115.6 L729.3,115.7 L730,115.9 L730.7,115.7 L731.4,116 L732.1,115.9 L732.8,115.6 L733.5,116 L734.2,116 L734.9,116 L735.6,115.6 L736.3,115.9 L737,116 L737.7,115.6 L738.4,115.9 L739.1,115.6 L739.8,115.7 L740,116 Z" fill="#a8e0a9"/>
<line x1="520" y1="116" x2="740" y2="116" stroke="#a8e0a9" stroke-width="1"/>
<path d="M520,148.4 L520,146.2 L521,143.3 L522,140 L523,138 L524,142.3 L525,145.1 L526,146 L527,146.2 L528,143 L529,142 L530,144.8 L531,146.4 L532,146.3 L533,145.5 L534,142.7 L535,141.2 L536,140.3 L537,141.7 L538,143.6 L539,145.1 L540,146.8 L541,146.6 L542,146.5 L543,144.4 L544,143.5 L545,142.2 L546,141.9 L547,142.8 L548,143.6 L549,143.8 L550,143.4 L551,143.9 L552,144.7 L553,144.2 L554,144.4 L555,142 L556,141.4 L557,143.5 L558,144.9 L559,146.2 L560,147.5 L561,146.4 L562,144.1 L563,143.5 L564,142 L565,143.5 L566,144.6 L567,145.7 L568,147.3 L569,146.7 L570,144.3 L571,140.8 L572,140.6 L573,142.5 L574,144.7 L575,145.4 L576,145.2 L577,142.7 L578,140.9 L579,143.2 L580,144.9 L581,146 L582,142.3 L583,136.2 L584,134.3 L585,135.4 L586,137.3 L587,136 L588,133.9 L589,136 L590,140.9 L591,143.2 L592,138.9 L593,135.3 L594,137.9 L595,141.7 L596,144.1 L597,140.5 L598,135.8 L599,135.7 L600,138.7 L601,140.3 L602,137.2 L603,136.5 L604,139.4 L605,138.7 L606,136.8 L607,138.4 L608,143.7 L609,146.3 L610,143.4 L611,140.2 L612,136.4 L613,135.8 L614,136.9 L615,137.5 L616,135.5 L617,131.9 L618,132.7 L619,134.4 L620,138.9 L621,140.4 L622,141.7 L623,142 L624,140.2 L625,139.5 L626,139 L627,141.6 L628,144.5 L629,144.1 L630,141.3 L631,134.7 L632,133.1 L633,140.3 L634,145.4 L635,147.8 L636,146.7 L637,146.1 L638,143.7 L639,140.1 L640,141.9 L641,143.6 L642,145.8 L643,147.3 L644,148.3 L645,147.5 L646,141.4 L647,127.3 L648,124.8 L649,137.8 L650,145.8 L651,144.3 L652,137.9 L653,134.8 L654,137.7 L655,141.6 L656,142.7 L657,142.7 L658,141.3 L659,140.9 L660,141 L661,141 L662,138.8 L663,138.4 L664,137.3 L665,138.5 L666,140.8 L667,143.9 L668,146.3 L669,146.9 L670,145.4 L671,143.9 L672,141 L673,140.8 L674,140.8 L675,143.9 L676,146.4 L677,147.3 L678,147.1 L679,146.2 L680,144.9 L681,143.2 L682,141.4 L683,140.7 L684,142 L685,141.9 L686,143.1 L687,141.4 L688,141.6 L689,142 L690,141.7 L691,141.4 L692,141.5 L693,144.4 L694,145.3 L695,146.3 L696,146.3 L697,144.2 L698,142.6 L699,142.7 L700,142.6 L701,144.7 L702,146.2 L703,146.9 L704,148.2 L705,147 L706,144.8 L707,136.5 L708,129.6 L709,131.1 L710,140.3 L711,145.9 L712,145.8 L713,139.5 L714,123 L715,122.7 L716,137.6 L717,144.4 L718,144.4 L719,142.7 L720,141.5 L721,142.8 L722,144.5 L723,145.6 L724,146.6 L725,147 L726,147.6 L727,145.4 L728,144.2 L729,140.8 L730,139.2 L731,136.3 L732,137.2 L733,138.8 L734,141.6 L735,144.3 L736,147 L737,147.4 L738,147.9 L739,147.2 L740,148.1 L740,148.4 Z" fill="#f7b2ad"/>
<rect x="520" y="143.8" width="220" height="4.6" fill="#f7b2ad"/>
<path d="M520,182 L520,182 L520.7,182 L521.4,182 L522.1,182 L522.8,182 L523.5,182 L524.2,182 L524.9,182 L525.6,182 L526.3,182 L527,182 L527.7,182 L528.4,182 L529.1,182 L529.8,182 L530.5,182 L531.2,182 L531.9,182 L532.6,182 L533.3,182 L534,182 L534.7,182 L535.4,182 L536.1,182 L536.8,182 L537.5,182 L538.2,182 L538.9,182 L539.6,182 L540.3,182 L541,182 L541.7,182 L542.4,182 L543.1,182 L543.8,182 L544.5,182 L545.2,182 L545.9,182 L546.6,182 L547.3,182 L548,182 L548.7,182 L549.4,182 L550.1,182 L550.8,181.5 L551.5,177.6 L552.2,165.5 L552.9,154.2 L553.6,161.2 L554.3,175.1 L555,181 L555.7,181.9 L556.4,182 L557.1,182 L557.8,182 L558.5,182 L559.2,182 L559.9,182 L560.6,182 L561.3,182 L562,182 L562.7,182 L563.4,182 L564.1,182 L564.8,182 L565.5,182 L566.2,182 L566.9,182 L567.6,182 L568.3,182 L569,182 L569.7,182 L570.4,182 L571.1,182 L571.8,182 L572.5,182 L573.2,182 L573.9,182 L574.6,182 L575.3,182 L576,182 L576.7,182 L577.4,182 L578.1,182 L578.8,182 L579.5,182 L580.2,182 L580.9,182 L581.6,182 L582.3,182 L583,182 L583.7,182 L584.4,182 L585.1,182 L585.8,182 L586.5,182 L587.2,182 L587.9,182 L588.6,182 L589.3,182 L590,182 L590.7,182 L591.4,182 L592.1,182 L592.8,182 L593.5,182 L594.2,182 L594.9,182 L595.6,182 L596.3,182 L597,182 L597.7,182 L598.4,182 L599.1,182 L599.8,182 L600.5,182 L601.2,182 L601.9,182 L602.6,182 L603.3,182 L604,182 L604.7,182 L605.4,182 L606.1,182 L606.8,182 L607.5,182 L608.2,182 L608.9,182 L609.6,182 L610.3,182 L611,182 L611.7,182 L612.4,182 L613.1,182 L613.8,182 L614.5,182 L615.2,182 L615.9,182 L616.6,182 L617.3,182 L618,182 L618.7,182 L619.4,182 L620.1,182 L620.8,182 L621.5,182 L622.2,182 L622.9,182 L623.6,182 L624.3,182 L625,182 L625.7,182 L626.4,182 L627.1,182 L627.8,182 L628.5,182 L629.2,182 L629.9,182 L630.6,182 L631.3,182 L632,182 L632.7,182 L633.4,182 L634.1,182 L634.8,182 L635.5,182 L636.2,182 L636.9,182 L637.6,182 L638.3,182 L639,182 L639.7,182 L640.4,182 L641.1,182 L641.8,182 L642.5,182 L643.2,182 L643.9,182 L644.6,182 L645.3,182 L646,182 L646.7,182 L647.4,182 L648.1,182 L648.8,182 L649.5,182 L650.2,182 L650.9,182 L651.6,182 L652.3,182 L653,182 L653.7,182 L654.4,182 L655.1,182 L655.8,182 L656.5,182 L657.2,182 L657.9,182 L658.6,182 L659.3,182 L660,182 L660.7,182 L661.4,182 L662.1,182 L662.8,182 L663.5,182 L664.2,182 L664.9,182 L665.6,182 L666.3,182 L667,182 L667.7,182 L668.4,182 L669.1,182 L669.8,182 L670.5,182 L671.2,182 L671.9,182 L672.6,182 L673.3,182 L674,182 L674.7,182 L675.4,182 L676.1,182 L676.8,182 L677.5,182 L678.2,182 L678.9,182 L679.6,182 L680.3,182 L681,182 L681.7,182 L682.4,182 L683.1,182 L683.8,182 L684.5,182 L685.2,182 L685.9,182 L686.6,182 L687.3,182 L688,182 L688.7,182 L689.4,182 L690.1,182 L690.8,182 L691.5,182 L692.2,182 L692.9,182 L693.6,182 L694.3,182 L695,182 L695.7,182 L696.4,182 L697.1,182 L697.8,182 L698.5,182 L699.2,182 L699.9,182 L700.6,182 L701.3,182 L702,182 L702.7,182 L703.4,182 L704.1,182 L704.8,182 L705.5,182 L706.2,182 L706.9,182 L707.6,182 L708.3,182 L709,182 L709.7,182 L710.4,182 L711.1,182 L711.8,182 L712.5,182 L713.2,182 L713.9,182 L714.6,182 L715.3,182 L716,182 L716.7,182 L717.4,182 L718.1,182 L718.8,182 L719.5,182 L720.2,182 L720.9,182 L721.6,182 L722.3,182 L723,182 L723.7,182 L724.4,182 L725.1,182 L725.8,182 L726.5,182 L727.2,182 L727.9,182 L728.6,182 L729.3,182 L730,182 L730.7,182 L731.4,182 L732.1,182 L732.8,182 L733.5,182 L734.2,182 L734.9,182 L735.6,182 L736.3,182 L737,182 L737.7,182 L738.4,182 L739.1,182 L739.8,182 L740,182 Z" fill="#ccc8f2"/>
<line x1="520" y1="182" x2="740" y2="182" stroke="#ccc8f2" stroke-width="1"/>
<path d="M520,214 L520,213.5 L520.7,213.5 L521.4,213.7 L522.1,213.8 L522.8,214 L523.5,213.6 L524.2,213.7 L524.9,213.5 L525.6,213.8 L526.3,213.5 L527,213.8 L527.7,213.5 L528.4,213.6 L529.1,213.8 L529.8,213.7 L530.5,213.6 L531.2,213.9 L531.9,213.7 L532.6,213.5 L533.3,213.8 L534,213.5 L534.7,213.6 L535.4,213.5 L536.1,213.8 L536.8,213.9 L537.5,213.5 L538.2,213.5 L538.9,213.7 L539.6,213.9 L540.3,213.9 L541,213.6 L541.7,213.8 L542.4,213.4 L543.1,213.6 L543.8,213.9 L544.5,213.6 L545.2,213.8 L545.9,213.4 L546.6,213.5 L547.3,213.7 L548,213.6 L548.7,213.6 L549.4,213.5 L550.1,213.4 L550.8,213.7 L551.5,211.6 L552.2,203.9 L552.9,191.5 L553.6,187.9 L554.3,198.8 L555,209 L555.7,213 L556.4,213.9 L557.1,213.6 L557.8,213.8 L558.5,213.9 L559.2,213.7 L559.9,213.9 L560.6,213.9 L561.3,213.5 L562,213.6 L562.7,214 L563.4,213.5 L564.1,214 L564.8,213.8 L565.5,213.5 L566.2,213.6 L566.9,213.8 L567.6,213.8 L568.3,213.8 L569,213.9 L569.7,213.4 L570.4,214 L571.1,213.7 L571.8,213.5 L572.5,213.5 L573.2,212.9 L573.9,213 L574.6,212.3 L575.3,212.3 L576,212.7 L576.7,212.9 L577.4,213.4 L578.1,213.4 L578.8,213.5 L579.5,213.7 L580.2,213.7 L580.9,213.6 L581.6,213.8 L582.3,213.9 L583,213.6 L583.7,213.8 L584.4,213.7 L585.1,213.5 L585.8,213.9 L586.5,214 L587.2,213.9 L587.9,213.6 L588.6,213.8 L589.3,213.8 L590,213.7 L590.7,213.4 L591.4,213.8 L592.1,213.8 L592.8,213.5 L593.5,213.6 L594.2,213.8 L594.9,213.7 L595.6,213.7 L596.3,213.9 L597,213.8 L597.7,213.8 L598.4,213.5 L599.1,213.8 L599.8,213.6 L600.5,213.4 L601.2,213.4 L601.9,213.8 L602.6,213.6 L603.3,213.8 L604,213.8 L604.7,213.7 L605.4,213.5 L606.1,213.4 L606.8,213.8 L607.5,214 L608.2,213.7 L608.9,214 L609.6,214 L610.3,213.5 L611,213.9 L611.7,213.6 L612.4,213.8 L613.1,213.4 L613.8,213.5 L614.5,214 L615.2,213.9 L615.9,213.4 L616.6,213.6 L617.3,213.7 L618,213.5 L618.7,213.5 L619.4,213.7 L620.1,213.7 L620.8,213.9 L621.5,213.8 L622.2,213.9 L622.9,213.6 L623.6,213.6 L624.3,213.9 L625,213.6 L625.7,213.9 L626.4,213.9 L627.1,213.6 L627.8,213.7 L628.5,213.5 L629.2,213.6 L629.9,213.6 L630.6,213.9 L631.3,213.5 L632,213.9 L632.7,213.6 L633.4,213.5 L634.1,213.5 L634.8,213.5 L635.5,213.7 L636.2,213.6 L636.9,213.5 L637.6,213.9 L638.3,213.4 L639,213.5 L639.7,213.7 L640.4,213.5 L641.1,213.7 L641.8,213.8 L642.5,213.6 L643.2,214 L643.9,213.5 L644.6,213.4 L645.3,213.8 L646,213.4 L646.7,213.9 L647.4,213.5 L648.1,213.8 L648.8,213.4 L649.5,213.7 L650.2,213.4 L650.9,214 L651.6,213.9 L652.3,213.5 L653,213.6 L653.7,213.7 L654.4,214 L655.1,213.9 L655.8,213.8 L656.5,214 L657.2,213.4 L657.9,213.5 L658.6,213.4 L659.3,213.6 L660,213.8 L660.7,214 L661.4,213.6 L662.1,213.9 L662.8,213.7 L663.5,213.7 L664.2,213.7 L664.9,214 L665.6,214 L666.3,213.7 L667,214 L667.7,213.7 L668.4,213.9 L669.1,213.8 L669.8,213.9 L670.5,213.7 L671.2,213.8 L671.9,213.9 L672.6,213.9 L673.3,213.7 L674,213.4 L674.7,213.7 L675.4,213.8 L676.1,213.6 L676.8,213.5 L677.5,213.1 L678.2,212.7 L678.9,212.6 L679.6,212.7 L680.3,212.6 L681,212.7 L681.7,212.9 L682.4,213.1 L683.1,213 L683.8,213.4 L684.5,213.5 L685.2,213.5 L685.9,213.6 L686.6,213.5 L687.3,213.8 L688,213.6 L688.7,213.4 L689.4,213.9 L690.1,213.6 L690.8,213.8 L691.5,214 L692.2,214 L692.9,213.5 L693.6,213.9 L694.3,213.6 L695,213.9 L695.7,213.8 L696.4,214 L697.1,213.7 L697.8,213.5 L698.5,213.9 L699.2,213.7 L699.9,213.4 L700.6,213.8 L701.3,213.7 L702,213.6 L702.7,213.5 L703.4,213.9 L704.1,213.6 L704.8,213.9 L705.5,213.9 L706.2,213.4 L706.9,214 L707.6,213.4 L708.3,213.5 L709,213.6 L709.7,213.6 L710.4,213.6 L711.1,213.8 L711.8,213.7 L712.5,213.9 L713.2,213.5 L713.9,213.5 L714.6,213.5 L715.3,213.9 L716,213.6 L716.7,213.8 L717.4,213.5 L718.1,213.6 L718.8,213.4 L719.5,213.6 L720.2,213.6 L720.9,213.5 L721.6,213.9 L722.3,213.6 L723,214 L723.7,213.8 L724.4,213.9 L725.1,213.4 L725.8,214 L726.5,213.4 L727.2,213.4 L727.9,213.7 L728.6,213.5 L729.3,214 L730,213.9 L730.7,214 L731.4,214 L732.1,214 L732.8,213.5 L733.5,213.9 L734.2,213.6 L734.9,213.8 L735.6,213.9 L736.3,213.7 L737,213.9 L737.7,213.4 L738.4,213.8 L739.1,213.6 L739.8,213.7 L740,214 Z" fill="#ecc09f"/>
<line x1="520" y1="214" x2="740" y2="214" stroke="#ecc09f" stroke-width="1"/>
<path d="M515.8,214 V219.3 H743 M629.3,219.3 V223" fill="none" stroke="#555" stroke-width="0.9"/>
<text x="633" y="237" font-size="12" text-anchor="middle" textLength="35.5" lengthAdjust="spacingAndGlyphs">128 kb</text>
<rect x="169" y="224" width="20" height="21" fill="#d7defa"/>
<g stroke-linecap="round" stroke-linejoin="round" fill="none">
<path d="M178.8,233L178.8,226M178.8,230.9L181,229.1M178.8,230.9L176.6,229.1M178.8,228.6L180.6,227M178.8,228.6L177,227M177.5,233.7L171.4,230.2M175.7,232.7L175.2,229.9M175.7,232.7L173,233.7M173.6,231.5L173.2,229.2M173.6,231.5L171.4,232.3M177.5,235.3L171.4,238.8M175.7,236.3L173,235.3M175.7,236.3L175.2,239.1M173.6,237.5L171.4,236.7M173.6,237.5L173.2,239.8M178.8,236L178.8,243M178.8,238.1L176.6,239.9M178.8,238.1L181,239.9M178.8,240.4L177,242M178.8,240.4L180.6,242M180.1,235.3L186.2,238.8M181.9,236.3L182.4,239.1M181.9,236.3L184.6,235.3M184,237.5L184.4,239.8M184,237.5L186.2,236.7M180.1,233.7L186.2,230.2M181.9,232.7L184.6,233.7M181.9,232.7L182.4,229.9M184,231.5L186.2,232.3M184,231.5L184.4,229.2" stroke="#8f8f8f" stroke-width="2"/>
<polygon points="180.6,235.5 178.8,236.5 177,235.5 177,233.5 178.8,232.5 180.6,233.5" stroke="#8f8f8f" stroke-width="0.9" fill="#d9d9d9"/>
<path d="M178.8,233L178.8,226M178.8,230.9L181,229.1M178.8,230.9L176.6,229.1M178.8,228.6L180.6,227M178.8,228.6L177,227M177.5,233.7L171.4,230.2M175.7,232.7L175.2,229.9M175.7,232.7L173,233.7M173.6,231.5L173.2,229.2M173.6,231.5L171.4,232.3M177.5,235.3L171.4,238.8M175.7,236.3L173,235.3M175.7,236.3L175.2,239.1M173.6,237.5L171.4,236.7M173.6,237.5L173.2,239.8M178.8,236L178.8,243M178.8,238.1L176.6,239.9M178.8,238.1L181,239.9M178.8,240.4L177,242M178.8,240.4L180.6,242M180.1,235.3L186.2,238.8M181.9,236.3L182.4,239.1M181.9,236.3L184.6,235.3M184,237.5L184.4,239.8M184,237.5L186.2,236.7M180.1,233.7L186.2,230.2M181.9,232.7L184.6,233.7M181.9,232.7L182.4,229.9M184,231.5L186.2,232.3M184,231.5L184.4,229.2" stroke="#d9d9d9" stroke-width="0.9"/>
</g>
<text x="195" y="241.3" font-size="14.5" textLength="146" lengthAdjust="spacingAndGlyphs">Pre-trained and frozen</text>
<rect x="347" y="223.5" width="23" height="22" fill="#d7defa"/>
<g transform="translate(357.9,234.2) scale(0.72)"><path d="M0.1,-14 C-1,-9 -8.5,-3 -8.2,5 C-8,11 -4,14.4 -0.5,14.4 C4,14.4 7.6,11 7.6,5 C7.6,2.5 7,0.5 6.5,-0.5 C6,1.5 5,2.5 4,3 C4.5,-3 2,-9 0.1,-14 Z" fill="#e5484a"/><path d="M1,-6.3 C0,-3 -5.7,2 -5.7,7.5 C-5.7,11 -3,13.5 -0.5,13.5 C2.5,13.5 5.1,11 5.1,7.5 C5.1,3 2,-1 1,-6.3 Z" fill="#f5895a"/></g>
<text x="375" y="241.3" font-size="14.5" textLength="216.5" lengthAdjust="spacingAndGlyphs">Fine-tuned with multi-task signals</text>
<text x="4.5" y="282.5" font-size="16" font-weight="bold">b</text>
<path d="M184.5,432L184.5,336M184.5,432L217.3,341.8M184.5,432L246.2,358.5M184.5,432L267.6,384M184.5,432L279,415.3M184.5,432L279,448.7M184.5,432L267.6,480M184.5,432L246.2,505.5M184.5,432L217.3,522.2M184.5,432L184.5,528M184.5,432L151.7,522.2M184.5,432L122.8,505.5M184.5,432L101.4,480M184.5,432L90,448.7M184.5,432L90,415.3M184.5,432L101.4,384M184.5,432L122.8,358.5M184.5,432L151.7,341.8" stroke="#cfcfcf" stroke-width="0.6"/>
<circle cx="184.5" cy="432" r="27" fill="none" stroke="#cfcfcf" stroke-width="0.6"/>
<circle cx="184.5" cy="432" r="54" fill="none" stroke="#cfcfcf" stroke-width="0.6"/>
<circle cx="184.5" cy="432" r="81" fill="none" stroke="#cfcfcf" stroke-width="0.6"/>
<polygon points="184.5,378.4 214.8,348.8 234,373 238.8,400.6 258.3,419 265.8,446.3 223,454.2 232.4,489.1 209.9,501.8 184.5,468 161.9,494.2 135.8,490 149.3,452.4 109.9,445.2 111.5,419.1 149.7,411.9 140.1,379.1 159,361.8" fill="#fbebe9" fill-opacity="0.9" stroke="#f36a58" stroke-width="1.8" stroke-linejoin="miter"/>
<polygon points="184.5,402.7 203,381.1 209.8,401.8 201.4,422.2 226.7,424.6 239.3,441.7 208.7,445.9 216.6,470.2 199.2,472.5 184.5,448.2 173.1,463.2 151.3,471.5 161,445.6 135.8,440.6 143.5,424.8 171.8,424.6 162.6,405.9 167.2,384.4" fill="#e7dcec" fill-opacity="0.55" stroke="#aaaadf" stroke-width="1.5"/>
<polygon points="184.5,425.8 187.2,424.5 192.6,422.3 189.7,429 192.4,430.6 201.8,435.1 188.8,434.5 187.7,435.8 186.6,437.6 184.5,445.6 182.8,436.7 177,441 180.2,434.5 178.6,433 177.6,430.8 166.8,421.8 180.6,427.4 179.1,417.2" fill="#d9d9e6" fill-opacity="0.6" stroke="#5ea4d8" stroke-width="1.5"/>
<path d="M184.5,432L184.5,336M184.5,432L217.3,341.8M184.5,432L246.2,358.5M184.5,432L267.6,384M184.5,432L279,415.3M184.5,432L279,448.7M184.5,432L267.6,480M184.5,432L246.2,505.5M184.5,432L217.3,522.2M184.5,432L184.5,528M184.5,432L151.7,522.2M184.5,432L122.8,505.5M184.5,432L101.4,480M184.5,432L90,448.7M184.5,432L90,415.3M184.5,432L101.4,384M184.5,432L122.8,358.5M184.5,432L151.7,341.8" stroke="#c8c8c8" stroke-width="0.45" stroke-opacity="0.6"/>
<circle cx="184.5" cy="432" r="96" fill="none" stroke="#444" stroke-width="0.8"/>
<text x="185" y="348.5" font-size="8.3" font-weight="bold" fill="#111">0.6</text>
<text x="185" y="375.8" font-size="8.3" font-weight="bold" fill="#111">0.4</text>
<text x="185" y="403.3" font-size="8.3" font-weight="bold" fill="#111">0.2</text>
<text x="185" y="430.5" font-size="8.3" font-weight="bold" fill="#111">0</text>
<text x="136.8" y="358.9" font-size="11" textLength="45" lengthAdjust="spacingAndGlyphs" stroke="#000" stroke-width="0.15">Pearson</text>
<text x="184.5" y="321" font-size="7.6" text-anchor="middle" textLength="18.4" lengthAdjust="spacingAndGlyphs" stroke="#000" stroke-width="0.28">CTCF</text>
<text x="223.4" y="327.9" font-size="7.6" text-anchor="middle" textLength="35.3" lengthAdjust="spacingAndGlyphs" stroke="#000" stroke-width="0.28">H3K4me3</text>
<text x="257.6" y="347.6" font-size="7.6" text-anchor="middle" textLength="32" lengthAdjust="spacingAndGlyphs" stroke="#000" stroke-width="0.28">H3K27ac</text>
<text x="283" y="377.8" font-size="7.6" text-anchor="middle" textLength="39.7" lengthAdjust="spacingAndGlyphs" stroke="#000" stroke-width="0.28">H3K27me3</text>
<text x="296.5" y="415" font-size="7.6" text-anchor="middle" textLength="19" lengthAdjust="spacingAndGlyphs" stroke="#000" stroke-width="0.28">ATAC</text>
<text x="296.5" y="454.4" font-size="7.6" text-anchor="middle" textLength="23.6" lengthAdjust="spacingAndGlyphs" stroke="#000" stroke-width="0.28">DNase</text>
<text x="283" y="491.5" font-size="7.6" text-anchor="middle" textLength="18.4" lengthAdjust="spacingAndGlyphs" stroke="#000" stroke-width="0.28">CTCF</text>
<text x="257.6" y="521.8" font-size="7.6" text-anchor="middle" textLength="35.3" lengthAdjust="spacingAndGlyphs" stroke="#000" stroke-width="0.28">H3K4me3</text>
<text x="223.4" y="541.5" font-size="7.6" text-anchor="middle" textLength="32" lengthAdjust="spacingAndGlyphs" stroke="#000" stroke-width="0.28">H3K27ac</text>
<text x="184.5" y="548.4" font-size="7.6" text-anchor="middle" textLength="39.7" lengthAdjust="spacingAndGlyphs" stroke="#000" stroke-width="0.28">H3K27me3</text>
<text x="145.6" y="541.5" font-size="7.6" text-anchor="middle" textLength="19" lengthAdjust="spacingAndGlyphs" stroke="#000" stroke-width="0.28">ATAC</text>
<text x="111.4" y="521.8" font-size="7.6" text-anchor="middle" textLength="23.6" lengthAdjust="spacingAndGlyphs" stroke="#000" stroke-width="0.28">DNase</text>
<text x="86" y="491.6" font-size="7.6" text-anchor="middle" textLength="18.4" lengthAdjust="spacingAndGlyphs" stroke="#000" stroke-width="0.28">CTCF</text>
<text x="72.5" y="454.4" font-size="7.6" text-anchor="middle" textLength="35.3" lengthAdjust="spacingAndGlyphs" stroke="#000" stroke-width="0.28">H3K4me3</text>
<text x="72.5" y="415" font-size="7.6" text-anchor="middle" textLength="32" lengthAdjust="spacingAndGlyphs" stroke="#000" stroke-width="0.28">H3K27ac</text>
<text x="86" y="377.8" font-size="7.6" text-anchor="middle" textLength="39.7" lengthAdjust="spacingAndGlyphs" stroke="#000" stroke-width="0.28">H3K27me3</text>
<text x="111.4" y="347.6" font-size="7.6" text-anchor="middle" textLength="19" lengthAdjust="spacingAndGlyphs" stroke="#000" stroke-width="0.28">ATAC</text>
<text x="145.6" y="327.9" font-size="7.6" text-anchor="middle" textLength="23.6" lengthAdjust="spacingAndGlyphs" stroke="#000" stroke-width="0.28">DNase</text>
<path d="M180.9,293 A139,139 0 0 1 321.8,453.7 M304.9,501.5 A139,139 0 0 1 93.3,536.9 M59.6,492.9 A139,139 0 0 1 131.3,303.6" fill="none" stroke="#000" stroke-width="2.2"/>
<text transform="translate(306.3,343.1) rotate(46.5)" x="0" y="5.2" font-size="14.5" font-weight="bold" text-anchor="middle" textLength="130" lengthAdjust="spacingAndGlyphs">Cross-chromosome</text>
<text transform="translate(26.9,364) rotate(-63.5)" x="0" y="5.2" font-size="14.5" font-weight="bold" text-anchor="middle" textLength="96" lengthAdjust="spacingAndGlyphs">Cross-cell line</text>
<text transform="translate(42.2,371.7) rotate(-63.5)" x="0" y="5.2" font-size="14.5" font-weight="bold" text-anchor="middle" textLength="131" lengthAdjust="spacingAndGlyphs">Cross-chromosome</text>
<text transform="translate(209.2,582.9) rotate(-13.3)" x="0" y="5.2" font-size="14.5" font-weight="bold" text-anchor="middle" textLength="97" lengthAdjust="spacingAndGlyphs">Cross-cell line</text>
<rect x="31.6" y="615" width="21.6" height="7.6" fill="#f7b7b1"/>
<text x="61.8" y="622.5" font-size="10.8" textLength="75.3" lengthAdjust="spacingAndGlyphs" stroke="#000" stroke-width="0.2">HiCFoundation</text>
<rect x="158.7" y="615" width="21.5" height="7.6" fill="#dcdaee"/>
<text x="188.8" y="622.5" font-size="10.8" textLength="58.2" lengthAdjust="spacingAndGlyphs" stroke="#000" stroke-width="0.2">No-Pretrain</text>
<rect x="268.9" y="615" width="21.6" height="7.6" fill="#bcd3ea"/>
<text x="297.8" y="622.5" font-size="10.8" textLength="20.2" lengthAdjust="spacingAndGlyphs" stroke="#000" stroke-width="0.2">PCA</text>
<text x="371.5" y="281.3" font-size="15.5" font-weight="bold">c</text>
<rect x="397.1" y="273.5" width="22.1" height="7.3" fill="#a9c9ee"/>
<text x="428.6" y="281.2" font-size="12" textLength="70.6" lengthAdjust="spacingAndGlyphs" stroke="#000" stroke-width="0.25">Ground truth</text>
<rect x="521.5" y="273.5" width="22.3" height="7.3" fill="#f6b488"/>
<text x="552.8" y="281.2" font-size="12" textLength="54.2" lengthAdjust="spacingAndGlyphs" stroke="#000" stroke-width="0.25">Prediction</text>
<rect x="629.6" y="273.4" width="22.4" height="7.5" fill="#0000f0"/>
<text x="660.8" y="281.2" font-size="12" textLength="67.2" lengthAdjust="spacingAndGlyphs" stroke="#000" stroke-width="0.25">Gene region</text>
<text x="414.8" y="302.5" font-size="12.2" text-anchor="middle" textLength="32.5" lengthAdjust="spacingAndGlyphs">CTCF</text>
<text x="414.8" y="334" font-size="12.2" text-anchor="middle" textLength="54.4" lengthAdjust="spacingAndGlyphs">H3K4me3</text>
<text x="414.8" y="365.6" font-size="12.2" text-anchor="middle" textLength="49.8" lengthAdjust="spacingAndGlyphs">H3K27ac</text>
<text x="414.8" y="393.8" font-size="12.2" text-anchor="middle" textLength="60.8" lengthAdjust="spacingAndGlyphs">H3K27me3</text>
<text x="414.8" y="423.4" font-size="12.2" text-anchor="middle" textLength="53.9" lengthAdjust="spacingAndGlyphs">ATAC-seq</text>
<text x="414.8" y="454" font-size="12.2" text-anchor="middle" textLength="61.1" lengthAdjust="spacingAndGlyphs">DNase-seq</text>
<path d="M447.5,295L447.5,295 454,294.9 454.5,294.7 455.5,293.7 456,293.5 456.5,293.7 457.5,294.7 458.5,295 464.5,295 465,294.8 465.5,294.1 466,292.6 466.5,291.8 467,292.6 467.5,294.1 468,294.8 469,295 558.5,295 559,294.8 559.5,294.3 560,293.4 560.5,293 561,293.4 561.5,294.3 562,294.8 563,295 597.5,295 599,294.5 600,294.2 601,294.5 602.5,295 630,295 630.5,294.8 631,294.1 632,291.5 632.5,291.7 633.5,294.3 634,294.9 635.5,295 648,295 648.5,294.9 650,294 650.5,294.2 651.5,294.9 655.5,295 690,295 690.5,294.8 691,294.3 692,292.1 692.5,292.3 693.5,294.4 694,294.9 696.5,295 724.5,295 725,294.7 725.5,293.3 726.5,287.4 727,288.7 727.5,292.2 728,294.3 728.5,294.9 738,295 741.5,295L741.5,295Z" fill="#a9c9ee" stroke="#a9c9ee" stroke-width="0.9" stroke-linejoin="round"/>
<path d="M447.5,307.9L447.5,306.8 448.5,307.3 449.5,307.9 450,307.8 451.5,306.9 452,306.8 452.5,306.9 454,307.9 454.5,307.9 456,306.9 456.5,306.8 457,306.9 458.5,307.8 459,307.9 460,307.3 461,306.8 461.5,306.9 463,307.7 463.5,307.7 464,307.1 464.5,305.9 466,300 466.5,299.6 467,300.6 468,304.8 468.5,306.2 469,306.8 469.5,306.9 470.5,306.8 471.5,307.3 472.5,307.9 473,307.8 474.5,306.9 475,306.8 475.5,306.9 477,307.9 477.5,307.9 479,306.9 479.5,306.8 480,306.9 481.5,307.8 482,307.9 483,307.3 484,306.8 484.5,306.9 486,307.8 486.5,307.9 487,307.8 488.5,306.8 489,306.8 490.5,307.8 491,307.9 491.5,307.8 493,306.9 493.5,306.8 494.5,307.3 495.5,307.9 496,307.8 497.5,306.9 498,306.8 498.5,306.9 500,307.9 500.5,307.9 502,306.9 502.5,306.8 503,306.9 504.5,307.8 505,307.9 506,307.3 507,306.8 507.5,306.9 509,307.8 509.5,307.9 510,307.8 511.5,306.8 512,306.8 513.5,307.8 514,307.9 514.5,307.8 516,306.9 516.5,306.8 517.5,307.4 518.5,307.9 519,307.8 520.5,306.9 521,306.8 521.5,306.9 523,307.9 523.5,307.9 525,306.9 525.5,306.8 526,306.9 527.5,307.8 528,307.9 529,307.3 530,306.8 530.5,306.9 532,307.8 532.5,307.9 533,307.8 534.5,306.8 535,306.8 536.5,307.8 537,307.9 537.5,307.8 539,306.9 539.5,306.8 540.5,307.4 541.5,307.9 542,307.8 543.5,306.9 544,306.8 544.5,306.9 546,307.9 546.5,307.9 548,306.9 548.5,306.8 549,306.9 550.5,307.8 551,307.9 552,307.3 553,306.8 553.5,306.9 555,307.8 555.5,307.9 556,307.8 557.5,306.8 558,306.8 559.5,307.8 560,307.9 560.5,307.8 562,306.9 562.5,306.8 563.5,307.3 564.5,307.9 565,307.8 566.5,306.9 567,306.8 567.5,306.9 569,307.9 569.5,307.9 571,306.9 571.5,306.8 572,306.9 573.5,307.8 574,307.9 575,307.3 576,306.8 576.5,306.9 578,307.8 578.5,307.9 579,307.8 580.5,306.8 581,306.8 582.5,307.8 583,307.9 583.5,307.8 585,306.9 585.5,306.8 586.5,307.4 587.5,307.9 588,307.8 589.5,306.9 590,306.8 590.5,306.9 592,307.9 592.5,307.9 594,306.9 594.5,306.8 595,306.9 596.5,307.8 597,307.9 598,307.3 599,306.8 599.5,306.9 601,307.8 601.5,307.9 602,307.8 603.5,306.8 604,306.8 605.5,307.8 606,307.9 606.5,307.8 608,306.9 608.5,306.8 609.5,307.3 610.5,307.9 611,307.8 612.5,306.9 613,306.8 613.5,306.9 615,307.9 615.5,307.9 617,306.9 617.5,306.8 618,306.9 619.5,307.8 620,307.9 621,307.3 622,306.8 622.5,306.9 624,307.8 624.5,307.9 625,307.8 626.5,306.8 627,306.8 628.5,307.5 629,307.4 629.5,306.7 630.5,303.8 631.5,300.7 632,300.2 632.5,300.6 634,304.8 634.5,305.7 635,306.2 636.5,306.9 638,307.9 638.5,307.9 640,306.9 640.5,306.8 641,306.9 642.5,307.8 643,307.9 644,307.3 645,306.8 645.5,306.9 647,307.8 647.5,307.9 648,307.8 649.5,306.8 650,306.8 651.5,307.8 652,307.9 652.5,307.8 654,306.9 654.5,306.8 655.5,307.4 656.5,307.9 657,307.8 658.5,306.9 659,306.8 659.5,306.9 661,307.9 661.5,307.9 663,306.9 663.5,306.8 664,306.9 665.5,307.8 666,307.9 667,307.4 668,306.8 668.5,306.9 670,307.8 670.5,307.9 671,307.8 672.5,306.8 673,306.8 674.5,307.8 675,307.9 675.5,307.8 677,306.9 677.5,306.8 678.5,307.3 679.5,307.9 680,307.8 681.5,306.9 682,306.8 682.5,306.9 684,307.9 684.5,307.9 686,306.9 686.5,306.8 687,306.9 688,307.5 688.5,307.6 689,307.3 689.5,306.5 691.5,300.2 692,299.7 692.5,300.2 694,304.4 694.5,305.4 695,306 697.5,307.7 698,307.9 698.5,307.8 700,306.9 700.5,306.8 701.5,307.3 702.5,307.9 703,307.8 704.5,306.9 705,306.8 705.5,306.9 707,307.9 707.5,307.9 709,306.9 709.5,306.8 710,306.9 711.5,307.8 712,307.9 713,307.3 714,306.8 714.5,306.9 716,307.8 716.5,307.9 717,307.8 718.5,306.8 719,306.8 720.5,307.8 721,307.9 721.5,307.8 723.5,306.2 726.5,304.6 727.5,304.4 728,304.1 729.5,302.3 730,302.2 730.5,302.7 732,305.3 733.5,307.1 734.5,307.8 735,307.9 736,307.3 737,306.8 737.5,306.9 739,307.8 739.5,307.9 740,307.8 741.5,306.8L741.5,307.9Z" fill="#f6b488" stroke="#f6b488" stroke-width="0.9" stroke-linejoin="round"/>
<path d="M447.5,322.5L447.5,322.5 464.5,322.5 465,322.3 465.5,321.7 466,320.5 466.5,319.8 467,320.5 467.5,321.7 468,322.3 469,322.5 630,322.4 630.5,322 631,320.4 632,314.1 632.5,314.5 633.5,320.9 634,322.2 634.5,322.5 690,322.5 690.5,322.2 691,321.3 692,317.7 692.5,317.9 693.5,321.6 694,322.3 695,322.5 741.5,322.5L741.5,322.5Z" fill="#a9c9ee" stroke="#a9c9ee" stroke-width="0.9" stroke-linejoin="round"/>
<path d="M447.5,336.7L447.5,336.7 463.5,336.6 464,336.5 464.5,336.1 466,333.6 466.5,333.2 467,333.6 468.5,336.1 469,336.5 470,336.7 628,336.7 629,336.5 629.5,336.1 630,335.4 631.5,331.8 632,331.1 632.5,331.2 633,332 634.5,335.6 635,336.2 635.5,336.5 637,336.7 648,336.7 649,336.4 650.5,335.5 651,335.5 653,336.6 657.5,336.7 688,336.7 689,336.3 689.5,335.7 690,334.5 691.5,328.4 692,327.1 692.5,327.3 693,328.7 694,333.1 694.5,334.8 695,335.8 695.5,336.4 696.5,336.7 741.5,336.7L741.5,336.7Z" fill="#f6b488" stroke="#f6b488" stroke-width="0.9" stroke-linejoin="round"/>
<path d="M447.5,350L447.5,350 464.5,350 465,349.9 466.5,348.8 467,349.1 468,349.9 470.5,350 630,350 630.5,349.8 631,349.3 632,347.1 632.5,347.3 633.5,349.4 634,349.9 636.5,350 648,350 648.5,349.8 649,349.1 649.5,347.1 650.5,340.9 651,341.3 652,347.7 652.5,349.4 653,349.9 655,350 690,350 690.5,349.8 691,349.3 692,347.1 692.5,347.3 693.5,349.4 694,349.9 696.5,350 741.5,350L741.5,350Z" fill="#a9c9ee" stroke="#a9c9ee" stroke-width="0.9" stroke-linejoin="round"/>
<path d="M447.5,362.3L447.5,362.3 463.5,362.3 464.5,361.8 466,359.9 466.5,359.6 467,359.9 468.5,361.8 469.5,362.3 628.5,362.2 629.5,361.9 630.5,360.9 631.5,359.3 632,358.8 632.5,358.9 633.5,360.2 634.5,361.6 635.5,362.2 639.5,362.3 648,362.3 649,362 650.5,361.1 651,361.1 653,362.2 657.5,362.3 688,362.3 689,362 689.5,361.5 690,360.5 691.5,355.4 692,354.4 692.5,354.5 693,355.7 694,359.4 694.5,360.7 695,361.6 695.5,362 696.5,362.3 741.5,362.3L741.5,362.3Z" fill="#f6b488" stroke="#f6b488" stroke-width="0.9" stroke-linejoin="round"/>
<path d="M447.5,403.8L447.5,403.8 464.5,403.8 465,403.6 465.5,402.6 466,400.9 466.5,399.8 467,400.9 467.5,402.6 468,403.6 468.5,403.8 630,403.7 630.5,403.3 631,401.6 632,395 632.5,395.4 633.5,402.1 634,403.4 634.5,403.8 647.5,403.8 648.5,403.5 649.5,402.5 650,402.3 650.5,402.5 651.5,403.5 652.5,403.8 690,403.7 690.5,403.3 691,401.8 692,395.8 692.5,396.2 693.5,402.3 694,403.5 694.5,403.8 741.5,403.8L741.5,403.8Z" fill="#a9c9ee" stroke="#a9c9ee" stroke-width="0.9" stroke-linejoin="round"/>
<path d="M447.5,416.2L447.5,416.2 463,416.2 463.5,416.1 464,415.8 464.5,415.2 465.5,412.4 466,410.8 466.5,410.2 467,410.8 468,414 468.5,415.2 469,415.8 469.5,416.1 473.5,416.2 596.5,416.2 598.5,415.7 600,415.4 603,416.1 628,416.2 629,416 629.5,415.6 630,414.9 631.5,411.3 632,410.6 632.5,410.7 633,411.5 634.5,415.1 635,415.7 635.5,416 637,416.2 647.5,416.1 648.5,415.6 649.5,414.9 650,414.7 650.5,414.9 652,415.9 653.5,416.2 688,416.2 689,415.9 689.5,415.4 690,414.4 691.5,409.4 692,408.4 692.5,408.5 693,409.7 694,413.3 694.5,414.7 695,415.5 695.5,415.9 696.5,416.2 741.5,416.2L741.5,416.2Z" fill="#f6b488" stroke="#f6b488" stroke-width="0.9" stroke-linejoin="round"/>
<path d="M447.5,430.2L447.5,430.2 464.5,430.2 465,430.1 465.5,429.6 466,428.7 466.5,428.2 467,428.7 467.5,429.6 468,430.1 470,430.2 588,430.1 589,429.7 589.5,429.4 590,429.2 590.5,429.4 591.5,430 593,430.2 630,430.2 630.5,429.9 631,428.8 632,424.4 632.5,424.7 633.5,429.1 634,430 634.5,430.2 647.5,430.1 648,429.9 648.5,429.2 649.5,426.2 650,425.5 650.5,426.2 651.5,429.2 652,429.9 652.5,430.1 690,430.1 690.5,429.7 691,428.1 692,421.7 692.5,422.2 693.5,428.6 694,429.9 694.5,430.2 723,430.2 723.5,430 724,429.5 724.5,428.6 725,428.2 725.5,428.6 726,429.5 726.5,430 727.5,430.2 741.5,430.2L741.5,430.2Z" fill="#a9c9ee" stroke="#a9c9ee" stroke-width="0.9" stroke-linejoin="round"/>
<path d="M447.5,443.6L447.5,443.6 463.5,443.5 464,443.4 464.5,442.9 466,440 466.5,439.6 467,440 468.5,442.9 469,443.4 470,443.6 628.5,443.5 629.5,443.2 630,442.7 631.5,440.2 632,439.7 632.5,439.8 633,440.4 634.5,442.8 635,443.3 636,443.6 647.5,443.5 648.5,443.2 649.5,442.7 650,442.6 651,443 652,443.4 654,443.6 688,443.6 689,443.3 689.5,442.8 690,441.8 691.5,436.7 692,435.7 692.5,435.8 693,437 694,440.7 694.5,442 695,442.9 695.5,443.3 696.5,443.6 741.5,443.6L741.5,443.6Z" fill="#f6b488" stroke="#f6b488" stroke-width="0.9" stroke-linejoin="round"/>
<path d="M447.5,376.3L447.5,373.6 448,371.7 448.5,370.8 449,371.6 449.5,373.3 450,374.6 450.5,374.7 451.5,373.2 452,372.8 452.5,373.2 453.5,375 454,375.5 455,375.3 456,376.1 456.5,376.2 458,375.7 459.5,376 461,375.7 461.5,375.6 462.5,374.8 463.5,375.3 464.5,375 466.5,375.5 467.5,376.1 468,376.2 468.5,376.2 469,375.8 470,374.7 470.5,374.8 471.5,376 472,376.2 473,376 474,375.7 475.5,375.9 476.5,375.6 477.5,376 478,375.4 478.5,374.1 479,373.6 480,375.8 480.5,376 481,375.5 481.5,374.7 482,374.4 483,375.7 483.5,376.1 484,376.1 485,375.6 485.5,375.7 486,375.4 486.5,374.7 487,374.2 487.5,374.6 488,375.1 488.5,375.2 489,374.7 489.5,374.5 490.5,374.7 491.5,373.7 492,373.7 493,374.5 494,374.5 495.5,376 496,376.2 496.5,375.9 497.5,374.2 498,374.2 499,375.9 499.5,376.2 500.5,376.2 501.5,375.7 502,375.7 503,376.1 503.5,376.2 504,376.1 506.5,374.3 507,374.2 507.5,374.5 508.5,375.5 509,375.1 509.5,374 510,373.2 510.5,373.9 511,375.2 511.5,375.9 512,375.8 513,374.7 513.5,374.5 514.5,374.8 515,374.4 515.5,373.8 516,373.4 516.5,373.6 517.5,375.1 518,375.3 518.5,374.6 519,374.3 520,375.9 520.5,375.8 522,374.4 522.5,374.4 524,375.8 524.5,376 526,375.4 527,376 527.5,376.2 529,375.7 530,375.9 530.5,375.9 531,375.7 531.5,375.8 532,376.1 533,376.3 534,375.9 534.5,375.7 535,375.7 535.5,376 536,376 536.5,375.2 537,373.6 537.5,373.4 538,374.8 538.5,375.6 539,375.3 539.5,374.9 540,374.7 540.5,374.9 541.5,375.8 542,376 542.5,375.6 543.5,373.1 544,372.7 545,373 545.5,373.6 546.5,375 548,376.1 549,376.2 550,375.7 550.5,375.6 551,375.8 551.5,375.9 552.5,375.5 554,376.2 554.5,376.2 555.5,375.5 556.5,376.1 557,375.9 558,375.3 558.5,375.3 559.5,376 560,376.2 560.5,376.1 561,375.6 562,374.2 562.5,374.3 563,374.8 563.5,374.6 564.5,371.7 565,371.2 565.5,372.6 566,374.8 566.5,376 567,376 567.5,375.7 568.5,374.3 569,373.8 569.5,373.9 571,375.8 571.5,375.9 572.5,375.3 573,375.2 573.5,375.5 574,375.1 574.5,374.4 575,374.8 575.5,375.6 576.5,375.6 577.5,376.2 578,376.1 578.5,375.8 579,375.7 579.5,375.9 580,375.9 581,375 582,373.6 582.5,373.2 583,373.7 583.5,374.5 584,375 585.5,375.8 587,375.7 589,376.2 589.5,376.1 591,375 592.5,375.5 593.5,375.8 594,375.7 595,373.3 595.5,373.1 596,373.2 596.5,372.8 597,372.9 598,374.7 598.5,374.6 599,374.8 599.5,375.5 600,375.3 601,373.4 601.5,372.7 602,372.8 602.5,373.6 603,374 603.5,373.4 604,372.4 604.5,372.4 605.5,374.6 606,374.8 607,373.8 607.5,374.2 608.5,375.8 609,376.1 609.5,376.1 610.5,375.4 611,375.5 611.5,375.9 612,375.9 612.5,375.5 613.5,373.4 614,372.7 614.5,372.8 615.5,374.7 616,375.2 616.5,375.1 617.5,373.7 618,373.6 619,374.6 620,374.7 621,375.4 622,375.4 622.5,375.2 623.5,374.3 624,374 625,374 625.5,373.7 626,373.2 626.5,372.8 627,373.1 628.5,375.6 629,376 629.5,376 630.5,375.3 631,375.5 631.5,375.9 632,375.9 632.5,375.6 633,375.6 633.5,375.8 634,375.8 634.5,375.2 635.5,373.4 636,373.1 636.5,373.5 637,374.2 637.5,374.6 638,374.4 639,373.8 640,373.8 640.5,374 642,375.5 642.5,375.7 643,375.3 644,373.9 644.5,374.1 645,374.5 645.5,374.2 646,373.7 646.5,374 647.5,375.9 648,376 648.5,375.5 649.5,372.9 650,372.8 650.5,373.8 651,374.4 651.5,373.9 652,373.1 652.5,372.9 653.5,374.5 654,375.1 655.5,376.2 656.5,376.3 657,376 658,373.8 658.5,373.9 659,375.2 659.5,376 660,375.9 660.5,375.3 661.5,373 662,372.6 662.5,373.4 663,374.6 663.5,375.1 664.5,374 665,373.6 666,372.7 666.5,373.2 667,374.3 667.5,375 668,374.5 668.5,373.4 669,372.9 669.5,373.8 670,375.1 670.5,375.9 671,376.2 671.5,375.9 672.5,373.7 673,373.8 673.5,375 674,375.7 675,375.4 676,376.1 676.5,376.2 678.5,375.3 679,374.7 679.5,373.5 680,373 681,374.9 681.5,375.2 682.5,374.6 683,374.7 683.5,374.9 684,374.8 685,373.2 685.5,373 686.5,375.2 687,375.9 687.5,375.8 688,375 688.5,375 689,375.8 689.5,376.2 690,376.2 691,375.6 692,376.2 693,376.2 694.5,375.6 696,376.2 696.5,376.1 697,375.7 697.5,375 698,374.7 699,375.6 699.5,375.6 700.5,374.8 701,374.7 701.5,374.8 702,374.7 702.5,374.4 703,374.6 703.5,375.1 704,375 705,373.8 705.5,374.1 706,374.8 706.5,375.1 707,374.7 707.5,374.1 708,373.8 708.5,374.1 709.5,374.9 710.5,374.5 711,374.6 712,375.6 712.5,375.5 713.5,374.2 714,374.4 714.5,375 715,375.5 715.5,375.4 716.5,375 717.5,375.2 718,375.2 718.5,374.7 719.5,371.8 720,371.1 720.5,371.7 721.5,373.9 724,376 724.5,376.1 725,376.1 725.5,375.7 726,375.7 727,376.2 727.5,376.1 730,374.3 730.5,374.3 732,375.8 732.5,376 734,375.6 735,375.8 736,376 737.5,375.6 739.5,376.2 741.5,376.3L741.5,376.3Z" fill="#a9c9ee" stroke="#a9c9ee" stroke-width="0.9" stroke-linejoin="round"/>
<path d="M447.5,390.3 L447.5,383 L448.2,382.9 L449,382.9 L449.8,382.9 L450.5,382.8 L451.2,382.8 L452,382.6 L452.8,382.5 L453.5,382.5 L454.2,382.6 L455,382.7 L455.8,382.6 L456.5,382.5 L457.2,382.4 L458,382.2 L458.8,382.1 L459.5,382.1 L460.2,382 L461,382.1 L461.8,382.3 L462.5,382.5 L463.2,382.7 L464,382.8 L464.8,382.7 L465.5,382.7 L466.2,382.8 L467,382.8 L467.8,382.7 L468.5,382.7 L469.2,382.7 L470,382.6 L470.8,382.7 L471.5,382.9 L472.2,383.1 L473,383.2 L473.8,383.2 L474.5,383.1 L475.2,383.1 L476,383.1 L476.8,383.1 L477.5,383.2 L478.2,383.2 L479,383 L479.8,382.8 L480.5,382.6 L481.2,382.7 L482,382.7 L482.8,382.7 L483.5,382.8 L484.2,383 L485,383.2 L485.8,383.2 L486.5,383 L487.2,382.7 L488,382.5 L488.8,382.5 L489.5,382.5 L490.2,382.4 L491,382.5 L491.8,382.7 L492.5,382.7 L493.2,382.7 L494,382.8 L494.8,382.8 L495.5,382.8 L496.2,382.9 L497,383 L497.8,383.1 L498.5,383.2 L499.2,383.2 L500,383.3 L500.8,383.2 L501.5,383.1 L502.2,383 L503,382.9 L503.8,383 L504.5,383.1 L505.2,383.2 L506,383.2 L506.8,383.2 L507.5,383.2 L508.2,383.1 L509,383.1 L509.8,383.1 L510.5,383.1 L511.2,383.1 L512,383.2 L512.8,383.2 L513.5,383.2 L514.2,383.1 L515,383 L515.8,382.9 L516.5,382.9 L517.2,382.9 L518,382.9 L518.8,382.8 L519.5,382.7 L520.2,382.6 L521,382.6 L521.8,382.8 L522.5,382.8 L523.2,382.8 L524,382.8 L524.8,382.8 L525.5,382.7 L526.2,382.8 L527,382.9 L527.8,382.8 L528.5,382.8 L529.2,382.8 L530,382.8 L530.8,382.7 L531.5,382.8 L532.2,382.9 L533,382.9 L533.8,383 L534.5,383 L535.2,383 L536,383 L536.8,382.8 L537.5,382.5 L538.2,382.4 L539,382.5 L539.8,382.5 L540.5,382.4 L541.2,382.5 L542,382.6 L542.8,382.5 L543.5,382.6 L544.2,382.7 L545,382.7 L545.8,382.7 L546.5,382.8 L547.2,383 L548,383 L548.8,383.1 L549.5,383.1 L550.2,383.1 L551,383.1 L551.8,383.1 L552.5,383.1 L553.2,383.1 L554,383.1 L554.8,383.2 L555.5,383.2 L556.2,383.1 L557,382.9 L557.8,382.7 L558.5,382.7 L559.2,382.8 L560,382.9 L560.8,382.9 L561.5,382.8 L562.2,382.7 L563,382.6 L563.8,382.7 L564.5,382.8 L565.2,382.9 L566,382.9 L566.8,382.8 L567.5,382.5 L568.2,382.5 L569,382.6 L569.8,382.6 L570.5,382.6 L571.2,382.8 L572,383 L572.8,383.2 L573.5,383.3 L574.2,383.2 L575,383.1 L575.8,383.1 L576.5,382.9 L577.2,382.7 L578,382.5 L578.8,382.6 L579.5,382.8 L580.2,382.8 L581,382.8 L581.8,382.7 L582.5,382.5 L583.2,382.5 L584,382.7 L584.8,382.9 L585.5,382.9 L586.2,383 L587,383.1 L587.8,383.2 L588.5,383.2 L589.2,383 L590,382.8 L590.8,382.7 L591.5,382.7 L592.2,382.7 L593,382.6 L593.8,382.8 L594.5,382.9 L595.2,383 L596,383.1 L596.8,383.2 L597.5,383.2 L598.2,383.2 L599,383.2 L599.8,383.1 L600.5,383 L601.2,382.9 L602,382.7 L602.8,382.5 L603.5,382.5 L604.2,382.6 L605,382.6 L605.8,382.7 L606.5,382.9 L607.2,383.1 L608,383.2 L608.8,383.2 L609.5,383.1 L610.2,383.1 L611,383.1 L611.8,383.2 L612.5,383.2 L613.2,383.2 L614,383.2 L614.8,383.2 L615.5,383.2 L616.2,383.1 L617,382.9 L617.8,382.7 L618.5,382.7 L619.2,382.9 L620,383.1 L620.8,383.4 L621.5,383.7 L622.2,383.9 L623,384.1 L623.8,384.5 L624.5,384.8 L625.2,385.1 L626,385.5 L626.8,385.9 L627.5,385.9 L628.2,385.5 L629,385.1 L629.8,384.6 L630.5,384.2 L631.2,384 L632,383 L632.8,383.1 L633.5,383.1 L634.2,383 L635,382.8 L635.8,382.8 L636.5,382.9 L637.2,383 L638,383 L638.8,382.9 L639.5,382.8 L640.2,382.6 L641,382.4 L641.8,382.4 L642.5,382.3 L643.2,382.2 L644,382.1 L644.8,382.1 L645.5,382 L646.2,382 L647,381.9 L647.8,381.8 L648.5,381.9 L649.2,382.1 L650,382.2 L650.8,382.4 L651.5,382.6 L652.2,382.8 L653,382.9 L653.8,382.9 L654.5,382.7 L655.2,382.6 L656,382.6 L656.8,382.8 L657.5,383 L658.2,383 L659,382.9 L659.8,382.8 L660.5,382.7 L661.2,382.5 L662,382.3 L662.8,382 L663.5,381.9 L664.2,381.9 L665,381.8 L665.8,381.7 L666.5,381.8 L667.2,381.9 L668,381.9 L668.8,381.8 L669.5,381.6 L670.2,381.5 L671,381.6 L671.8,382 L672.5,382.3 L673.2,382.5 L674,382.7 L674.8,382.8 L675.5,382.8 L676.2,382.8 L677,382.7 L677.8,382.6 L678.5,382.6 L679.2,382.8 L680,382.9 L680.8,383 L681.5,383 L682.2,383 L683,383 L683.8,383.1 L684.5,383.2 L685.2,383.2 L686,383.2 L686.8,383.2 L687.5,383.2 L688.2,383.2 L689,383.1 L689.8,382.9 L690.5,382.8 L691.2,382.9 L692,383 L692.8,383 L693.5,382.9 L694.2,382.8 L695,382.5 L695.8,382.2 L696.5,381.9 L697.2,381.5 L698,381 L698.8,380.4 L699.5,379.9 L700.2,379.5 L701,379.3 L701.8,379.4 L702.5,379.5 L703.2,379.9 L704,380.7 L704.8,381.3 L705.5,381.8 L706.2,382.2 L707,382.5 L707.8,382.6 L708.5,382.7 L709.2,382.7 L710,382.6 L710.8,382.6 L711.5,382.8 L712.2,383 L713,383.1 L713.8,383.1 L714.5,383.2 L715.2,383.1 L716,383.1 L716.8,382.9 L717.5,382.6 L718.2,382.5 L719,382.6 L719.8,382.6 L720.5,382.6 L721.2,382.7 L722,382.9 L722.8,383 L723.5,383.1 L724.2,383.1 L725,383.1 L725.8,383.1 L726.5,383 L727.2,382.8 L728,382.7 L728.8,382.6 L729.5,382.6 L730.2,382.5 L731,382.6 L731.8,382.8 L732.5,383 L733.2,383 L734,382.9 L734.8,382.7 L735.5,382.5 L736.2,382.5 L737,382.6 L737.8,382.5 L738.5,382.6 L739.2,382.7 L740,382.7 L740.8,382.8 L741.5,383 L741.5,390.3 Z" fill="#f6b488"/>
<line x1="448" y1="453.1" x2="741.5" y2="453.1" stroke="#7676ff" stroke-width="1"/>
<rect x="466.4" y="449.2" width="2.3" height="8.6" fill="#0b0bea"/>
<text x="475.3" y="457.8" font-size="12.2" textLength="37.7" lengthAdjust="spacingAndGlyphs">CXCL1</text>
<rect x="630.2" y="449.2" width="2.3" height="8.6" fill="#0b0bea"/>
<text x="635" y="457.8" font-size="12.2" textLength="39.4" lengthAdjust="spacingAndGlyphs">CXCL3</text>
<rect x="690.3" y="449.2" width="2.3" height="8.6" fill="#0b0bea"/>
<text x="695.1" y="457.8" font-size="12.2" textLength="39" lengthAdjust="spacingAndGlyphs">CXCL2</text>
<polygon points="462.3,461.3 471.6,461.3 492.8,472.4 382.6,472.4" fill="#cbcbcb"/>
<rect x="462.3" y="287" width="9.3" height="174.4" fill="none" stroke="#222" stroke-width="1"/>
<path d="M385.3,487.2L385.3,487.2 430.3,487.1 430.8,486.8 431.6,485.3 431.8,484.4 432.3,478.5 432.6,477.5 433.1,485 433.3,486.8 433.6,487.1 490.8,487.2L490.8,487.2Z" fill="#a9c9ee" stroke="#a9c9ee" stroke-width="0.9" stroke-linejoin="round"/>
<path d="M385.6,501.1V499.8H405.8V501.1ZM416.8,501.1V493.1H437.6V500.1H447.5V500.5H469V501.1Z" fill="#f6b488" stroke="#f6b488" stroke-width="0.3"/><line x1="385.3" y1="501.1" x2="470.8" y2="501.1" stroke="#f6b488" stroke-width="0.9"/><line x1="470.8" y1="501.1" x2="490.8" y2="501.1" stroke="#f6b488" stroke-opacity="0.45" stroke-width="0.9"/>
<path d="M385.3,516L385.3,516 425.8,515.9 426.8,515.5 427.3,514.8 428.1,512.1 428.8,508.9 429.1,508.3 429.3,508.1 430.3,508.2 430.8,508.6 431.8,510.6 432.6,511.8 433.3,512.1 433.8,512.9 434.8,515.4 435.3,515.8 436.8,516 490.8,516L490.8,516Z" fill="#a9c9ee" stroke="#a9c9ee" stroke-width="0.9" stroke-linejoin="round"/>
<path d="M385.6,530.8V530H392V530.8ZM416.8,530.8V522.1H437.6V528.9H447.5V530.8Z" fill="#f6b488" stroke="#f6b488" stroke-width="0.3"/><line x1="385.3" y1="530.8" x2="470.8" y2="530.8" stroke="#f6b488" stroke-width="0.9"/><line x1="470.8" y1="530.8" x2="490.8" y2="530.8" stroke="#f6b488" stroke-opacity="0.45" stroke-width="0.9"/>
<path d="M385.3,545.6L385.3,545.6 386.3,545.5 386.8,545.6 387.1,545.2 387.3,545.6 387.6,545.6 387.8,545 388.1,545.5 388.3,545.2 388.6,545.5 388.8,545.4 389.1,545.6 389.6,545.2 389.8,545.5 390.1,545.4 390.6,545.6 390.8,545.3 391.6,545.6 391.8,545.2 392.1,545.5 392.6,545.2 392.8,545.4 393.1,545.1 393.3,545.6 393.6,545.3 393.8,545.5 394.1,545.1 394.3,545.2 394.6,545.6 395.1,545.6 395.3,545.1 395.6,545.6 395.8,545.5 396.1,545.6 397.3,545.5 397.6,545.2 397.8,545.4 398.1,545.1 398.3,545.2 398.6,544.9 398.8,545.2 399.1,545.2 399.6,544.2 399.8,544.2 400.1,544.5 400.3,544.5 400.6,544.9 400.8,544.7 401.3,545.4 401.6,545.5 402.1,545 402.3,545.6 402.6,545.3 402.8,545.6 403.3,545.6 403.8,545.2 404.1,545.6 404.3,545.5 404.6,545.6 404.8,545.4 405.1,545.6 405.6,545 405.8,545.5 406.1,545 406.3,545.6 406.8,545.5 407.3,545.6 407.8,545.5 408.3,545.5 408.6,545.1 408.8,545.3 409.1,544.7 409.3,544.6 409.6,544.8 410.1,544.5 410.3,544.5 411.1,545.1 411.3,544.9 411.6,545.4 411.8,545.5 412.1,545.4 412.3,545.6 412.6,545.6 412.8,545 413.1,545.5 413.8,545.6 414.1,545.5 414.3,545.6 414.8,545.4 415.1,545.6 415.3,545.5 415.6,545.5 415.8,545.4 416.1,545.6 416.6,545.4 416.8,545.6 417.1,545.6 417.6,545.1 417.8,545.6 418.6,545.3 419.3,544.3 419.6,543.8 420.3,543.5 420.8,544.4 421.3,545.2 421.6,545.4 421.8,545.1 422.1,545.3 422.6,543.6 422.8,542.3 423.1,542.1 423.8,544.7 424.1,545.4 424.3,545.2 424.6,545.5 424.8,544.9 425.3,540.9 425.6,540.6 426.1,544.1 426.3,545.1 426.6,545.5 426.8,545.3 427.1,545.2 427.3,545.6 427.6,545.3 427.8,543.9 428.3,537.2 428.6,536.2 429.1,542.8 429.3,544.6 429.6,545.5 430.3,545.5 430.6,545.4 431.1,542.5 431.6,538.2 432.3,545 432.8,545.1 433.1,545.6 433.6,545.2 434.3,545.6 435.1,545.6 435.3,545.5 435.6,545.6 435.8,545.3 436.1,545.6 436.3,545.2 436.6,545.4 436.8,545.1 437.3,545.2 437.8,545.6 438.1,545.4 438.3,545.6 438.8,545.4 439.3,545.6 439.6,545.1 439.8,545.5 440.3,545.6 440.6,545.2 440.8,545.5 441.1,545.3 441.3,545.6 441.8,545.5 442.1,545.3 442.3,545.6 442.8,545.1 443.1,545.3 443.3,545.3 443.6,545.6 444.1,545.2 444.3,545.6 445.6,545.5 445.8,545.3 446.1,545.6 447.1,545.6 447.3,545 447.8,545.6 448.8,545.6 449.1,545.4 450.3,545.6 450.8,545.4 451.3,545.6 452.1,545.5 452.3,545.3 452.6,545.6 452.8,545.3 453.3,545.5 453.8,545.3 454.1,545.1 454.3,545.1 454.6,544.7 455.6,544.8 455.8,545.2 456.3,545.4 456.6,545.1 456.8,545.1 457.1,545.6 457.3,545.2 457.8,545.6 458.3,545.6 458.6,545.3 458.8,545.4 459.1,545.2 459.6,545.4 459.8,545.4 460.3,545.6 460.6,545.5 461.1,545.6 461.3,545.3 461.6,545.6 462.1,545.6 462.3,545.2 462.6,545.6 462.8,545.6 463.1,545.2 463.3,545.6 463.6,545.2 463.8,545.4 464.3,545.1 464.6,545.5 464.8,545.3 465.1,545.6 465.3,545.3 465.6,545.5 465.8,545.4 466.1,545.6 466.6,545.1 466.8,545.6 467.3,545.5 467.6,545.3 467.8,545.6 468.3,545.6 468.8,545.3 469.1,545.6 470.6,545.5 470.8,545 471.1,545.6 471.3,545.3 471.6,545.6 472.1,545.3 472.8,545.5 473.3,545.2 473.6,545.6 473.8,545.6 474.3,545.1 474.6,545.5 474.8,545.5 475.1,545.4 475.3,545.6 476.1,545.5 476.6,545.6 477.1,545.1 477.3,545.6 477.6,545.4 477.8,545.6 478.1,545.2 478.6,545.6 480.3,545.6 480.6,545.3 480.8,545.6 481.1,545 481.3,545.5 481.8,545.5 482.1,545.3 482.3,545.3 482.6,545.5 482.8,545.5 483.3,545.2 483.6,545.6 484.1,545.1 484.3,545.5 484.8,545.6 485.1,545.4 485.3,545.4 485.6,545.1 486.1,545.6 486.8,545.6 487.6,545.2 487.8,545.6 488.1,545.2 488.3,545.6 488.8,545.4 489.1,545.6 489.3,545.6 489.6,545.3 489.8,545.6 490.6,545.4 490.8,545.6L490.8,545.6Z" fill="#a9c9ee" stroke="#a9c9ee" stroke-width="0.9" stroke-linejoin="round"/>
<path d="M405.8,559.6V558.8H416.8V551.2H437.6V557.7H447.5V559H456V559.6Z" fill="#f6b488" stroke="#f6b488" stroke-width="0.3"/><line x1="385.3" y1="559.6" x2="470.8" y2="559.6" stroke="#f6b488" stroke-width="0.9"/><line x1="470.8" y1="559.6" x2="490.8" y2="559.6" stroke="#f6b488" stroke-opacity="0.45" stroke-width="0.9"/>
<path d="M385.3,574.4L385.3,574.2 385.8,574 386.1,573.8 386.3,574.1 386.6,573.9 386.8,574.4 387.1,574.3 387.3,573.8 387.6,574.2 387.8,573.9 388.1,574.4 389.1,574.3 389.6,574.4 389.8,574.4 390.1,573.9 390.6,574.4 390.8,574 391.1,574.4 391.3,574.2 391.8,574.4 392.1,573.9 392.3,574.4 392.6,574.4 392.8,573.7 393.3,574.4 393.6,573.8 393.8,574.3 394.1,574.2 394.3,574.4 394.6,573.8 394.8,574.2 395.1,573.8 395.3,573.9 395.6,574.4 396.8,574.4 397.1,574.2 397.3,574.4 397.6,574.2 397.8,574.4 398.1,574.4 398.3,574 398.6,574.3 399.1,574.3 399.3,574.2 399.6,574.4 399.8,573.8 400.1,574.4 400.6,574 400.8,574.3 401.1,573.8 401.3,573.6 401.8,571.7 402.1,571.4 402.6,572.5 402.8,573.9 403.1,574 403.6,573.8 403.8,574.4 404.3,574.3 404.6,574.1 404.8,574.4 405.1,574.1 405.6,574 405.8,574.4 406.1,573.8 406.3,574.4 406.8,574.2 407.1,573.9 407.3,574.4 407.6,573.8 407.8,574.3 409.1,574.4 409.6,573.7 409.8,574.4 410.1,574.4 410.3,573.7 410.6,574.3 411.1,574.4 411.6,574 411.8,574.3 412.3,574.4 412.6,573.9 412.8,574.4 413.1,574.3 413.3,574 413.6,574.4 414.1,573.8 414.3,574.2 414.6,574.1 414.8,574.4 415.3,574.4 415.6,574 415.8,574.4 416.1,574.3 416.3,573.7 416.6,574 416.8,573.7 417.1,574.3 417.3,574.3 417.6,574.1 418.1,574.4 418.8,574.4 419.1,573.7 419.3,573.8 419.6,574.2 420.6,574.4 421.1,573.9 421.3,574.4 421.6,574.1 422.3,574.2 422.6,574.1 422.8,574.4 423.1,574.2 423.3,574.4 423.8,574.1 424.3,574.4 424.6,573.8 424.8,574.2 425.3,574.4 425.6,574.3 425.8,574.4 426.1,574.2 426.3,574.3 426.6,574 426.8,574.2 427.1,574 427.3,574.4 428.1,574 428.3,574.4 428.6,574 428.8,573.9 429.1,574.2 429.3,573.7 429.6,573.8 429.8,574.3 430.3,574.4 430.8,573.8 431.1,574.3 431.6,574.1 431.8,574.1 432.1,574.4 432.3,574.1 432.6,574.3 432.8,574.2 433.1,574.3 433.6,574.1 433.8,574.2 434.1,574.1 434.3,574.4 435.1,574.2 435.3,574.4 435.6,574.2 436.1,574.4 436.8,574.4 437.1,574.3 437.3,573.7 437.8,570.1 438.1,569.4 438.6,572.9 438.8,573.9 439.3,574.4 439.6,573.9 439.8,574.4 440.8,574.4 441.1,574 441.3,574.4 441.6,574.4 441.8,574.2 442.1,574.4 442.3,574.3 442.6,574.4 442.8,574.3 443.1,573.8 443.6,574.3 443.8,574 444.3,574.4 444.6,574.4 444.8,574.3 445.1,574.3 445.3,573.8 445.6,573.8 445.8,574.2 446.1,574.4 446.3,573.9 446.6,574.4 447.3,574.2 447.6,574.4 448.1,573.9 448.3,574.4 449.1,574.4 449.3,573.8 449.6,574.4 449.8,573.8 450.1,573.9 450.3,574.3 450.6,574.4 450.8,573.7 451.1,574.3 451.6,574.4 451.8,573.7 452.1,574.3 452.8,574.4 453.1,574.2 453.6,574.4 453.8,574.1 454.1,574 454.3,574.4 454.6,574.3 454.8,574.4 455.1,573.8 455.6,574.3 455.8,573.8 456.3,569.9 456.6,569.9 457.1,573 457.3,573.9 457.6,574.2 457.8,574.1 458.1,574.4 458.3,574.1 458.6,574.2 458.8,573.6 459.3,570.1 459.6,569.3 460.1,572.6 460.3,573 460.8,571.7 461.1,571.4 462.1,573.3 462.3,573.1 462.6,572.4 463.1,572.3 463.3,572.3 463.8,573.3 464.1,573.2 464.3,574 464.6,574.2 464.8,573.9 465.1,574.4 465.3,574.4 465.6,574 465.8,574.4 466.1,574 466.6,574.3 466.8,574.4 467.3,573.9 467.6,574.4 468.3,574.3 468.8,574.4 469.1,574.2 469.3,573.4 469.6,571.8 469.8,568.6 470.1,567.1 470.6,572.6 470.8,574.1 471.1,574.1 471.3,573.7 471.6,573.7 472.1,574.4 472.3,574 472.6,574.4 473.1,573.8 473.6,574.4 473.8,574.4 474.1,573.9 474.3,574.4 474.6,574.2 475.1,574.4 475.3,574.2 475.6,574.4 476.6,574.4 477.3,573.9 477.6,574.4 478.3,574.2 478.6,574.3 478.8,573.8 479.1,574.3 479.3,573.9 479.8,569.5 480.1,568.3 480.8,574 481.3,574.4 481.6,574.3 481.8,574.4 482.1,574.1 482.6,574.4 483.1,574.4 483.3,574.1 483.6,574.4 483.8,574.1 484.3,574.4 484.6,574.2 484.8,574.4 485.3,574.3 485.6,574.4 485.8,573.9 486.1,574.3 486.3,574.4 486.6,574 486.8,574.4 487.1,574.1 487.3,574.4 487.6,574.4 487.8,573.8 488.1,574 488.3,573.7 488.8,569.5 489.1,569.2 489.6,572.9 490.1,574.3 490.6,574.4 490.8,574.2L490.8,574.4Z" fill="#a9c9ee" stroke="#a9c9ee" stroke-width="0.9" stroke-linejoin="round"/>
<path d="M385.6,590V580.5H405.8V581.9H416.8V581H427V582H437.6V581.2H447.5V580.5H458V583.2H490.5V590Z" fill="#f6b488" stroke="#f6b488" stroke-width="0.3"/><line x1="385.3" y1="590" x2="470.8" y2="590" stroke="#f6b488" stroke-width="0.9"/><line x1="470.8" y1="590" x2="490.8" y2="590" stroke="#f6b488" stroke-opacity="0.45" stroke-width="0.9"/>
<path d="M385.3,604.2L385.3,604.2 424.1,604.1 424.6,603.8 425.3,602.8 425.6,602.7 426.6,603.9 426.8,603.9 427.3,603.3 427.8,602.3 428.1,602.2 428.6,603 429.1,603.8 429.6,604.2 431.1,604.2 431.3,604 431.6,603.2 432.3,595 433.1,603.2 433.3,604 433.8,604.2 490.8,604.2L490.8,604.2Z" fill="#a9c9ee" stroke="#a9c9ee" stroke-width="0.9" stroke-linejoin="round"/>
<path d="M416.8,618.6V609.7H426.8V611H437.6V618.6Z" fill="#f6b488" stroke="#f6b488" stroke-width="0.3"/><line x1="385.3" y1="618.6" x2="470.8" y2="618.6" stroke="#f6b488" stroke-width="0.9"/><line x1="470.8" y1="618.6" x2="490.8" y2="618.6" stroke="#f6b488" stroke-opacity="0.45" stroke-width="0.9"/>
<path d="M385.3,633.3L385.3,632.9 386.1,631.8 386.6,632.7 386.8,632.7 387.1,633.2 387.6,633.2 388.1,633.3 388.3,633.1 388.6,633.3 388.8,633.1 389.1,633.3 389.8,633.2 390.1,632.9 390.3,633.2 390.6,633.1 390.8,633.3 391.1,633.1 391.3,633.3 392.1,633.1 392.6,633.3 393.3,633.3 393.6,633 393.8,633.3 394.1,633 394.3,633 394.6,633.3 395.6,633.3 395.8,632.9 396.1,633.3 396.3,633.2 396.6,633.3 397.1,632.9 397.3,633.3 398.8,633.2 399.1,632.9 399.3,633.3 399.8,633.2 400.1,633.3 400.3,633.2 400.6,633.3 400.8,633.2 401.1,632.9 401.3,633.3 401.8,633.2 402.3,633.3 402.6,632.8 402.8,632.8 403.1,633.3 403.6,632.9 403.8,633.3 404.1,633.2 404.6,633.3 404.8,633.1 405.1,633.2 405.3,633.1 405.6,633.3 405.8,633.3 406.1,633 406.6,633.3 406.8,633.3 407.1,632.8 407.3,633.2 407.6,633.3 407.8,633 408.1,633.3 409.3,633.3 409.6,633.2 409.8,633.3 410.1,633.1 410.3,633.3 410.6,633.1 410.8,633 411.1,633.2 411.3,633.1 411.6,633.3 411.8,633.1 412.3,633.3 412.6,632.9 412.8,633.3 413.1,633.3 413.3,633 413.6,633.3 413.8,633.2 414.1,633.3 414.3,633 414.6,633.3 414.8,633.2 415.1,632.7 415.3,632.9 415.8,631.5 416.3,631.3 416.6,631.5 417.3,632.8 417.6,632.7 417.8,633.2 418.8,633.3 419.3,633 419.6,633.1 420.3,632.2 420.6,632 420.8,631.5 421.1,631.8 421.3,631.7 421.8,632.2 422.3,633 423.1,633.3 423.3,633.2 423.6,633.3 423.8,633.1 424.1,633.3 425.6,633.2 425.8,633 426.3,631.2 426.6,629.5 426.8,629.3 427.1,629.4 427.6,632.4 427.8,633 428.1,633.2 428.3,632.9 428.6,633.1 429.3,630.6 429.6,630.1 430.3,632.6 430.6,633.1 431.3,633.3 431.6,632.9 431.8,631.9 432.3,625.3 432.6,623.7 433.1,630.4 433.3,632.2 433.6,633.2 434.3,633.1 435.1,633.3 435.3,633.2 436.1,633.3 436.8,633.3 437.1,633.1 437.3,633.3 437.6,633.1 437.8,633.3 438.1,632.9 438.3,633.2 438.6,632.8 438.8,632.8 439.3,633.3 439.8,633.3 440.1,633.1 440.3,633.3 441.1,633.3 441.3,632.9 441.6,632.8 441.8,633.3 442.1,633.1 442.3,633.2 443.1,633.2 443.6,633.3 444.3,633.3 444.6,632.9 444.8,633.3 445.1,633.3 445.3,633 445.6,633.3 445.8,633.3 446.1,633 446.6,633.3 447.3,633.3 447.8,632.8 448.1,633.1 448.6,632.9 449.1,632.9 449.3,632.8 449.6,633.3 450.6,633.2 450.8,633.3 451.1,633 451.3,633.3 452.8,633.3 454.3,633.3 454.6,633.1 455.1,633.3 455.3,633.2 455.8,633.3 456.6,633 457.1,633.3 458.3,633.2 458.6,633 458.8,633.3 459.1,633 459.6,633.3 459.8,633.1 460.1,633.3 460.8,633.3 461.1,632.9 461.3,633.3 462.1,633.3 462.6,632.8 462.8,633.2 463.1,633.3 463.3,632.9 463.6,633.2 463.8,633.3 464.1,633.1 464.6,633.3 465.3,633.3 465.8,633 466.3,633.3 466.6,633.1 466.8,633.3 467.1,633.2 467.3,633 467.6,633.1 467.8,632.9 468.3,633.3 469.1,633.1 469.6,633.3 469.8,633.1 470.1,633.3 470.6,633.2 470.8,632.9 471.1,633.3 471.3,633.3 471.6,633.1 472.3,633.3 472.8,633.2 473.1,632.9 473.3,633.3 473.8,633.1 474.1,633.3 474.6,632.8 475.6,633.3 475.8,633 476.1,633.3 476.6,633.2 476.8,632.9 477.1,633.2 477.3,632.9 477.6,632.9 477.8,633.3 478.1,633.3 478.3,632.9 478.6,633.1 478.8,632.8 479.1,633.3 479.3,633.2 479.6,632.9 479.8,633.2 480.1,633.1 480.3,632.8 480.6,633.3 480.8,633.3 481.1,633 481.6,633.3 481.8,633 482.1,633.3 483.1,633.3 483.3,633.1 483.6,633.3 483.8,632.9 484.1,633.3 484.8,633.2 485.1,633.3 485.3,633.2 485.8,633.2 486.1,633 486.3,633.1 486.6,632.9 486.8,633.3 487.1,633.3 487.3,632.9 487.6,633.3 488.3,633.3 488.6,633 489.1,633.3 489.3,632.9 489.6,633.2 489.8,633.3 490.3,632.9 490.6,633.3 490.8,633.3L490.8,633.3Z" fill="#a9c9ee" stroke="#a9c9ee" stroke-width="0.9" stroke-linejoin="round"/>
<path d="M395,647V646.6H416.8V638.8H426.8V640.1H437.6V646.2H447.9V647Z" fill="#f6b488" stroke="#f6b488" stroke-width="0.3"/><line x1="385.3" y1="647" x2="470.8" y2="647" stroke="#f6b488" stroke-width="0.9"/><line x1="470.8" y1="647" x2="490.8" y2="647" stroke="#f6b488" stroke-opacity="0.45" stroke-width="0.9"/>
<rect x="382.9" y="472.6" width="110" height="180.5" fill="none" stroke="#333" stroke-width="1.4"/>
<text x="491.2" y="485.5" font-size="10.5" text-anchor="end" textLength="20.3" lengthAdjust="spacingAndGlyphs">1 bp</text>
<text x="491.2" y="501.2" font-size="10.5" text-anchor="end" textLength="20.3" lengthAdjust="spacingAndGlyphs">1 kb</text>
<g fill="#00009a"><rect x="431.4" y="657.9" width="0.9" height="4"/><rect x="433" y="657.9" width="0.9" height="4"/><rect x="434.6" y="657.9" width="0.9" height="4"/><rect x="435.5" y="659.6" width="7" height="0.6"/><rect x="442.2" y="658.5" width="7.6" height="2.9"/></g>
<text x="440.5" y="665.8" font-size="3.6" text-anchor="middle" fill="#3a3aa0" textLength="11.3" lengthAdjust="spacingAndGlyphs">CXCL1</text>
<text x="534.5" y="485.5" font-size="16" font-weight="bold">d</text>
<rect x="636.1" y="485.2" width="18.6" height="6.6" fill="#f7b7b1"/>
<text x="661.3" y="492" font-size="9.8" textLength="65.7" lengthAdjust="spacingAndGlyphs" stroke="#000" stroke-width="0.22">HiCFoundation</text>
<rect x="636.1" y="497.9" width="18.6" height="6.6" fill="#d6d4ee"/>
<text x="661.3" y="504.7" font-size="9.8" textLength="50.7" lengthAdjust="spacingAndGlyphs" stroke="#000" stroke-width="0.22">No-Pretrain</text>
<path d="M588.6,495.7 V633.5 H717.5" fill="none" stroke="#666" stroke-width="0.9"/>
<text x="586.6" y="637.4" font-size="11" text-anchor="end" textLength="15.2" lengthAdjust="spacingAndGlyphs" stroke="#000" stroke-width="0.25">0.0</text>
<text x="586.6" y="609.9" font-size="11" text-anchor="end" textLength="15.2" lengthAdjust="spacingAndGlyphs" stroke="#000" stroke-width="0.25">0.1</text>
<text x="586.6" y="582.4" font-size="11" text-anchor="end" textLength="15.2" lengthAdjust="spacingAndGlyphs" stroke="#000" stroke-width="0.25">0.2</text>
<text x="586.6" y="554.9" font-size="11" text-anchor="end" textLength="15.2" lengthAdjust="spacingAndGlyphs" stroke="#000" stroke-width="0.25">0.3</text>
<text x="586.6" y="527.4" font-size="11" text-anchor="end" textLength="15.2" lengthAdjust="spacingAndGlyphs" stroke="#000" stroke-width="0.25">0.4</text>
<text x="586.6" y="499.9" font-size="11" text-anchor="end" textLength="15.2" lengthAdjust="spacingAndGlyphs" stroke="#000" stroke-width="0.25">0.5</text>
<path d="M588.6,633.5h2M588.6,606h2M588.6,578.5h2M588.6,551h2M588.6,523.5h2M588.6,496h2M594.6,633.5v-2M623.9,633.5v-2M653.2,633.5v-2M682.5,633.5v-2M711.8,633.5v-2" stroke="#666" stroke-width="0.8"/>
<text x="594.6" y="643.6" font-size="11" text-anchor="middle" textLength="16.8" lengthAdjust="spacingAndGlyphs" stroke="#000" stroke-width="0.25">100</text>
<text x="623.9" y="643.6" font-size="11" text-anchor="middle" textLength="11.2" lengthAdjust="spacingAndGlyphs" stroke="#000" stroke-width="0.25">80</text>
<text x="653.2" y="643.6" font-size="11" text-anchor="middle" textLength="11.2" lengthAdjust="spacingAndGlyphs" stroke="#000" stroke-width="0.25">60</text>
<text x="682.5" y="643.6" font-size="11" text-anchor="middle" textLength="11.2" lengthAdjust="spacingAndGlyphs" stroke="#000" stroke-width="0.25">40</text>
<text x="700.1" y="643.6" font-size="11" textLength="24.4" lengthAdjust="spacingAndGlyphs" stroke="#000" stroke-width="0.25">20 %</text>
<text x="653.2" y="656.4" font-size="12.8" text-anchor="middle" textLength="105.2" lengthAdjust="spacingAndGlyphs" stroke="#000" stroke-width="0.3">Relative coverage</text>
<text transform="translate(567.8,565) rotate(-90)" x="0" y="0" font-size="12.8" text-anchor="middle" textLength="112.8" lengthAdjust="spacingAndGlyphs" stroke="#000" stroke-width="0.3">Pearson correlation</text>
<line x1="594.6" y1="561.7" x2="712" y2="561.7" stroke="#aaa8e0" stroke-width="1" stroke-dasharray="4.2,2.6"/>
<polyline points="594.6,508.9 667.9,544.8 704.5,567.6" fill="none" stroke="#f36b58" stroke-width="1.1"/>
<polyline points="594.6,562.8 667.9,583.5 704.5,592" fill="none" stroke="#aeace2" stroke-width="1"/>
<circle cx="594.6" cy="508.9" r="2.4" fill="#f36b58"/>
<circle cx="667.9" cy="544.8" r="2.4" fill="#f36b58"/>
<circle cx="704.5" cy="567.6" r="2.4" fill="#f36b58"/>
<rect x="592.3" y="560.5" width="4.6" height="4.6" fill="#c4c2ea"/>
<rect x="665.6" y="581.2" width="4.6" height="4.6" fill="#c4c2ea"/>
<rect x="702.2" y="589.7" width="4.6" height="4.6" fill="#c4c2ea"/>
<text x="4.3" y="698" font-size="16.5" font-weight="bold">e</text>
<text x="23.7" y="697.2" font-size="14.5" font-weight="bold" textLength="291.5" lengthAdjust="spacingAndGlyphs">Interpretability analysis of HiCFoundation</text>
<text x="115.7" y="726.7" font-size="14.5" text-anchor="middle" textLength="64.6" lengthAdjust="spacingAndGlyphs">Input Hi-C</text>
<clipPath id="clipE0"><rect x="58.8" y="731.7" width="115.6" height="52.7"/></clipPath>
<g clip-path="url(#clipE0)">
<rect x="58.8" y="731.7" width="115.6" height="52.7" fill="#fef7f8"/>
<g filter="url(#blur04)"><path d="M58.5 731.7h1.6v1.5h-1.6zM65.1 731.7h1.6v1.5h-1.6zM68.3 731.7h1.6v1.5h-1.6zM71.6 731.7h6.5v1.5h-6.5zM83.1 731.7h4.9v1.5h-4.9zM96.1 731.7h1.6v1.5h-1.6zM101 731.7h1.6v1.5h-1.6zM107.6 731.7h9.8v1.5h-9.8zM122.3 731.7h1.6v1.5h-1.6zM125.6 731.7h3.3v1.5h-3.3zM132.1 731.7h1.6v1.5h-1.6zM140.3 731.7h1.6v1.5h-1.6zM145.2 731.7h8.2v1.5h-8.2zM156.6 731.7h1.6v1.5h-1.6zM166.5 731.7h1.6v1.5h-1.6zM173 731.7h1.6v1.5h-1.6zM56.9 733.2h1.6v1.5h-1.6zM61.8 733.2h1.6v1.5h-1.6zM66.7 733.2h1.6v1.5h-1.6zM70 733.2h4.9v1.5h-4.9zM76.5 733.2h3.3v1.5h-3.3zM81.4 733.2h1.6v1.5h-1.6zM88 733.2h1.6v1.5h-1.6zM94.5 733.2h1.6v1.5h-1.6zM99.4 733.2h1.6v1.5h-1.6zM104.3 733.2h3.3v1.5h-3.3zM109.2 733.2h3.3v1.5h-3.3zM115.8 733.2h3.3v1.5h-3.3zM120.7 733.2h3.3v1.5h-3.3zM132.1 733.2h1.6v1.5h-1.6zM135.4 733.2h1.6v1.5h-1.6zM140.3 733.2h6.5v1.5h-6.5zM150.1 733.2h1.6v1.5h-1.6zM155 733.2h1.6v1.5h-1.6zM158.3 733.2h4.9v1.5h-4.9zM169.7 733.2h1.6v1.5h-1.6zM56.9 734.8h1.6v1.5h-1.6zM61.8 734.8h11.4v1.5h-11.4zM74.9 734.8h8.2v1.5h-8.2zM84.7 734.8h1.6v1.5h-1.6zM88 734.8h1.6v1.5h-1.6zM97.8 734.8h4.9v1.5h-4.9zM109.2 734.8h3.3v1.5h-3.3zM114.1 734.8h14.7v1.5h-14.7zM133.8 734.8h1.6v1.5h-1.6zM138.7 734.8h4.9v1.5h-4.9zM146.8 734.8h1.6v1.5h-1.6zM153.4 734.8h4.9v1.5h-4.9zM163.2 734.8h3.3v1.5h-3.3zM168.1 734.8h3.3v1.5h-3.3zM56.9 736.4h1.6v1.5h-1.6zM61.8 736.4h6.5v1.5h-6.5zM73.2 736.4h3.3v1.5h-3.3zM78.2 736.4h3.3v1.5h-3.3zM83.1 736.4h1.6v1.5h-1.6zM86.3 736.4h3.3v1.5h-3.3zM102.7 736.4h1.6v1.5h-1.6zM109.2 736.4h3.3v1.5h-3.3zM117.4 736.4h1.6v1.5h-1.6zM120.7 736.4h4.9v1.5h-4.9zM127.2 736.4h8.2v1.5h-8.2zM140.3 736.4h1.6v1.5h-1.6zM145.2 736.4h3.3v1.5h-3.3zM150.1 736.4h1.6v1.5h-1.6zM158.3 736.4h1.6v1.5h-1.6zM60.2 737.9h1.6v1.5h-1.6zM66.7 737.9h1.6v1.5h-1.6zM70 737.9h11.4v1.5h-11.4zM83.1 737.9h6.5v1.5h-6.5zM91.2 737.9h1.6v1.5h-1.6zM107.6 737.9h9.8v1.5h-9.8zM119 737.9h4.9v1.5h-4.9zM128.8 737.9h3.3v1.5h-3.3zM133.8 737.9h6.5v1.5h-6.5zM141.9 737.9h1.6v1.5h-1.6zM145.2 737.9h3.3v1.5h-3.3zM150.1 737.9h3.3v1.5h-3.3zM163.2 737.9h3.3v1.5h-3.3zM169.7 737.9h4.9v1.5h-4.9zM56.9 739.5h1.6v1.5h-1.6zM60.2 739.5h1.6v1.5h-1.6zM65.1 739.5h3.3v1.5h-3.3zM70 739.5h13.1v1.5h-13.1zM84.7 739.5h4.9v1.5h-4.9zM107.6 739.5h4.9v1.5h-4.9zM114.1 739.5h1.6v1.5h-1.6zM120.7 739.5h1.6v1.5h-1.6zM127.2 739.5h8.2v1.5h-8.2zM137 739.5h6.5v1.5h-6.5zM146.8 739.5h1.6v1.5h-1.6zM150.1 739.5h4.9v1.5h-4.9zM156.6 739.5h3.3v1.5h-3.3zM163.2 739.5h1.6v1.5h-1.6zM166.5 739.5h3.3v1.5h-3.3zM56.9 741h4.9v1.5h-4.9zM63.4 741h6.5v1.5h-6.5zM71.6 741h1.6v1.5h-1.6zM76.5 741h1.6v1.5h-1.6zM79.8 741h1.6v1.5h-1.6zM83.1 741h9.8v1.5h-9.8zM102.7 741h1.6v1.5h-1.6zM107.6 741h4.9v1.5h-4.9zM120.7 741h9.8v1.5h-9.8zM140.3 741h1.6v1.5h-1.6zM153.4 741h3.3v1.5h-3.3zM58.5 742.6h3.3v1.5h-3.3zM68.3 742.6h3.3v1.5h-3.3zM79.8 742.6h8.2v1.5h-8.2zM89.6 742.6h1.6v1.5h-1.6zM96.1 742.6h1.6v1.5h-1.6zM110.9 742.6h6.5v1.5h-6.5zM119 742.6h1.6v1.5h-1.6zM122.3 742.6h1.6v1.5h-1.6zM125.6 742.6h6.5v1.5h-6.5zM133.8 742.6h4.9v1.5h-4.9zM140.3 742.6h3.3v1.5h-3.3zM145.2 742.6h1.6v1.5h-1.6zM148.5 742.6h1.6v1.5h-1.6zM151.7 742.6h1.6v1.5h-1.6zM156.6 742.6h3.3v1.5h-3.3zM163.2 742.6h1.6v1.5h-1.6zM168.1 742.6h3.3v1.5h-3.3zM173 742.6h1.6v1.5h-1.6zM58.5 744.1h1.6v1.5h-1.6zM65.1 744.1h3.3v1.5h-3.3zM73.2 744.1h1.6v1.5h-1.6zM76.5 744.1h1.6v1.5h-1.6zM79.8 744.1h1.6v1.5h-1.6zM83.1 744.1h1.6v1.5h-1.6zM86.3 744.1h3.3v1.5h-3.3zM91.2 744.1h3.3v1.5h-3.3zM96.1 744.1h1.6v1.5h-1.6zM107.6 744.1h8.2v1.5h-8.2zM117.4 744.1h3.3v1.5h-3.3zM125.6 744.1h4.9v1.5h-4.9zM132.1 744.1h4.9v1.5h-4.9zM145.2 744.1h1.6v1.5h-1.6zM148.5 744.1h6.5v1.5h-6.5zM159.9 744.1h1.6v1.5h-1.6zM164.8 744.1h1.6v1.5h-1.6zM168.1 744.1h3.3v1.5h-3.3zM58.5 745.6h4.9v1.5h-4.9zM70 745.6h3.3v1.5h-3.3zM74.9 745.6h6.5v1.5h-6.5zM83.1 745.6h4.9v1.5h-4.9zM89.6 745.6h3.3v1.5h-3.3zM110.9 745.6h1.6v1.5h-1.6zM115.8 745.6h14.7v1.5h-14.7zM132.1 745.6h1.6v1.5h-1.6zM135.4 745.6h4.9v1.5h-4.9zM143.6 745.6h1.6v1.5h-1.6zM150.1 745.6h1.6v1.5h-1.6zM156.6 745.6h1.6v1.5h-1.6zM159.9 745.6h1.6v1.5h-1.6zM164.8 745.6h1.6v1.5h-1.6zM171.4 745.6h1.6v1.5h-1.6zM56.9 747.2h1.6v1.5h-1.6zM60.2 747.2h3.3v1.5h-3.3zM65.1 747.2h1.6v1.5h-1.6zM70 747.2h3.3v1.5h-3.3zM76.5 747.2h4.9v1.5h-4.9zM83.1 747.2h6.5v1.5h-6.5zM91.2 747.2h3.3v1.5h-3.3zM97.8 747.2h1.6v1.5h-1.6zM110.9 747.2h1.6v1.5h-1.6zM114.1 747.2h4.9v1.5h-4.9zM122.3 747.2h1.6v1.5h-1.6zM125.6 747.2h1.6v1.5h-1.6zM128.8 747.2h4.9v1.5h-4.9zM135.4 747.2h1.6v1.5h-1.6zM138.7 747.2h6.5v1.5h-6.5zM148.5 747.2h1.6v1.5h-1.6zM153.4 747.2h1.6v1.5h-1.6zM156.6 747.2h1.6v1.5h-1.6zM164.8 747.2h3.3v1.5h-3.3zM171.4 747.2h1.6v1.5h-1.6zM56.9 748.8h3.3v1.5h-3.3zM61.8 748.8h1.6v1.5h-1.6zM65.1 748.8h1.6v1.5h-1.6zM68.3 748.8h4.9v1.5h-4.9zM76.5 748.8h1.6v1.5h-1.6zM79.8 748.8h6.5v1.5h-6.5zM88 748.8h8.2v1.5h-8.2zM97.8 748.8h3.3v1.5h-3.3zM112.5 748.8h1.6v1.5h-1.6zM117.4 748.8h3.3v1.5h-3.3zM125.6 748.8h1.6v1.5h-1.6zM128.8 748.8h8.2v1.5h-8.2zM141.9 748.8h1.6v1.5h-1.6zM153.4 748.8h4.9v1.5h-4.9zM163.2 748.8h1.6v1.5h-1.6zM168.1 748.8h1.6v1.5h-1.6zM171.4 748.8h1.6v1.5h-1.6zM58.5 750.3h3.3v1.5h-3.3zM63.4 750.3h8.2v1.5h-8.2zM73.2 750.3h1.6v1.5h-1.6zM76.5 750.3h1.6v1.5h-1.6zM79.8 750.3h6.5v1.5h-6.5zM89.6 750.3h1.6v1.5h-1.6zM92.9 750.3h1.6v1.5h-1.6zM96.1 750.3h1.6v1.5h-1.6zM99.4 750.3h3.3v1.5h-3.3zM115.8 750.3h1.6v1.5h-1.6zM119 750.3h3.3v1.5h-3.3zM123.9 750.3h6.5v1.5h-6.5zM132.1 750.3h3.3v1.5h-3.3zM138.7 750.3h1.6v1.5h-1.6zM141.9 750.3h3.3v1.5h-3.3zM148.5 750.3h1.6v1.5h-1.6zM153.4 750.3h1.6v1.5h-1.6zM158.3 750.3h1.6v1.5h-1.6zM161.6 750.3h1.6v1.5h-1.6zM166.5 750.3h1.6v1.5h-1.6zM173 750.3h1.6v1.5h-1.6zM56.9 751.9h1.6v1.5h-1.6zM60.2 751.9h4.9v1.5h-4.9zM68.3 751.9h4.9v1.5h-4.9zM74.9 751.9h3.3v1.5h-3.3zM83.1 751.9h3.3v1.5h-3.3zM88 751.9h1.6v1.5h-1.6zM91.2 751.9h6.5v1.5h-6.5zM99.4 751.9h4.9v1.5h-4.9zM107.6 751.9h1.6v1.5h-1.6zM117.4 751.9h1.6v1.5h-1.6zM122.3 751.9h6.5v1.5h-6.5zM137 751.9h1.6v1.5h-1.6zM140.3 751.9h1.6v1.5h-1.6zM143.6 751.9h4.9v1.5h-4.9zM151.7 751.9h1.6v1.5h-1.6zM161.6 751.9h6.5v1.5h-6.5zM66.7 753.4h1.6v1.5h-1.6zM70 753.4h1.6v1.5h-1.6zM76.5 753.4h1.6v1.5h-1.6zM81.4 753.4h3.3v1.5h-3.3zM86.3 753.4h1.6v1.5h-1.6zM89.6 753.4h13.1v1.5h-13.1zM104.3 753.4h1.6v1.5h-1.6zM120.7 753.4h3.3v1.5h-3.3zM127.2 753.4h3.3v1.5h-3.3zM133.8 753.4h1.6v1.5h-1.6zM141.9 753.4h1.6v1.5h-1.6zM146.8 753.4h1.6v1.5h-1.6zM150.1 753.4h1.6v1.5h-1.6zM155 753.4h1.6v1.5h-1.6zM158.3 753.4h1.6v1.5h-1.6zM163.2 753.4h1.6v1.5h-1.6zM58.5 755h1.6v1.5h-1.6zM68.3 755h3.3v1.5h-3.3zM74.9 755h1.6v1.5h-1.6zM78.2 755h6.5v1.5h-6.5zM91.2 755h11.4v1.5h-11.4zM104.3 755h1.6v1.5h-1.6zM120.7 755h3.3v1.5h-3.3zM127.2 755h18v1.5h-18zM146.8 755h3.3v1.5h-3.3zM153.4 755h6.5v1.5h-6.5zM161.6 755h1.6v1.5h-1.6zM173 755h1.6v1.5h-1.6zM61.8 756.5h1.6v1.5h-1.6zM73.2 756.5h1.6v1.5h-1.6zM78.2 756.5h3.3v1.5h-3.3zM83.1 756.5h1.6v1.5h-1.6zM86.3 756.5h4.9v1.5h-4.9zM92.9 756.5h1.6v1.5h-1.6zM96.1 756.5h1.6v1.5h-1.6zM99.4 756.5h1.6v1.5h-1.6zM104.3 756.5h6.5v1.5h-6.5zM114.1 756.5h1.6v1.5h-1.6zM120.7 756.5h3.3v1.5h-3.3zM128.8 756.5h14.7v1.5h-14.7zM150.1 756.5h3.3v1.5h-3.3zM155 756.5h3.3v1.5h-3.3zM159.9 756.5h4.9v1.5h-4.9zM166.5 756.5h3.3v1.5h-3.3zM173 756.5h1.6v1.5h-1.6zM65.1 758h3.3v1.5h-3.3zM73.2 758h4.9v1.5h-4.9zM79.8 758h1.6v1.5h-1.6zM83.1 758h3.3v1.5h-3.3zM88 758h1.6v1.5h-1.6zM91.2 758h3.3v1.5h-3.3zM96.1 758h1.6v1.5h-1.6zM99.4 758h8.2v1.5h-8.2zM109.2 758h1.6v1.5h-1.6zM115.8 758h1.6v1.5h-1.6zM122.3 758h1.6v1.5h-1.6zM127.2 758h1.6v1.5h-1.6zM132.1 758h1.6v1.5h-1.6zM135.4 758h4.9v1.5h-4.9zM141.9 758h6.5v1.5h-6.5zM156.6 758h3.3v1.5h-3.3zM161.6 758h1.6v1.5h-1.6zM164.8 758h4.9v1.5h-4.9zM173 758h1.6v1.5h-1.6zM58.5 759.6h1.6v1.5h-1.6zM68.3 759.6h4.9v1.5h-4.9zM76.5 759.6h4.9v1.5h-4.9zM83.1 759.6h4.9v1.5h-4.9zM89.6 759.6h3.3v1.5h-3.3zM96.1 759.6h11.4v1.5h-11.4zM110.9 759.6h1.6v1.5h-1.6zM125.6 759.6h3.3v1.5h-3.3zM130.5 759.6h6.5v1.5h-6.5zM138.7 759.6h3.3v1.5h-3.3zM146.8 759.6h3.3v1.5h-3.3zM151.7 759.6h3.3v1.5h-3.3zM161.6 759.6h1.6v1.5h-1.6zM166.5 759.6h1.6v1.5h-1.6zM169.7 759.6h1.6v1.5h-1.6zM60.2 761.1h6.5v1.5h-6.5zM73.2 761.1h1.6v1.5h-1.6zM81.4 761.1h4.9v1.5h-4.9zM89.6 761.1h9.8v1.5h-9.8zM101 761.1h9.8v1.5h-9.8zM112.5 761.1h3.3v1.5h-3.3zM128.8 761.1h9.8v1.5h-9.8zM140.3 761.1h1.6v1.5h-1.6zM143.6 761.1h6.5v1.5h-6.5zM151.7 761.1h3.3v1.5h-3.3zM156.6 761.1h6.5v1.5h-6.5zM166.5 761.1h4.9v1.5h-4.9zM173 761.1h1.6v1.5h-1.6zM56.9 762.7h1.6v1.5h-1.6zM66.7 762.7h1.6v1.5h-1.6zM70 762.7h1.6v1.5h-1.6zM74.9 762.7h1.6v1.5h-1.6zM78.2 762.7h3.3v1.5h-3.3zM84.7 762.7h1.6v1.5h-1.6zM88 762.7h1.6v1.5h-1.6zM91.2 762.7h1.6v1.5h-1.6zM96.1 762.7h1.6v1.5h-1.6zM99.4 762.7h6.5v1.5h-6.5zM109.2 762.7h3.3v1.5h-3.3zM115.8 762.7h3.3v1.5h-3.3zM132.1 762.7h1.6v1.5h-1.6zM137 762.7h4.9v1.5h-4.9zM143.6 762.7h1.6v1.5h-1.6zM146.8 762.7h3.3v1.5h-3.3zM155 762.7h1.6v1.5h-1.6zM159.9 762.7h3.3v1.5h-3.3zM58.5 764.2h1.6v1.5h-1.6zM70 764.2h3.3v1.5h-3.3zM78.2 764.2h3.3v1.5h-3.3zM86.3 764.2h1.6v1.5h-1.6zM91.2 764.2h1.6v1.5h-1.6zM99.4 764.2h1.6v1.5h-1.6zM102.7 764.2h6.5v1.5h-6.5zM110.9 764.2h1.6v1.5h-1.6zM115.8 764.2h1.6v1.5h-1.6zM119 764.2h1.6v1.5h-1.6zM125.6 764.2h1.6v1.5h-1.6zM128.8 764.2h4.9v1.5h-4.9zM135.4 764.2h1.6v1.5h-1.6zM138.7 764.2h3.3v1.5h-3.3zM143.6 764.2h1.6v1.5h-1.6zM148.5 764.2h8.2v1.5h-8.2zM161.6 764.2h1.6v1.5h-1.6zM66.7 765.8h1.6v1.5h-1.6zM73.2 765.8h1.6v1.5h-1.6zM81.4 765.8h1.6v1.5h-1.6zM84.7 765.8h1.6v1.5h-1.6zM89.6 765.8h8.2v1.5h-8.2zM99.4 765.8h1.6v1.5h-1.6zM102.7 765.8h3.3v1.5h-3.3zM107.6 765.8h1.6v1.5h-1.6zM110.9 765.8h8.2v1.5h-8.2zM135.4 765.8h8.2v1.5h-8.2zM145.2 765.8h1.6v1.5h-1.6zM150.1 765.8h1.6v1.5h-1.6zM158.3 765.8h1.6v1.5h-1.6zM166.5 765.8h4.9v1.5h-4.9zM56.9 767.4h4.9v1.5h-4.9zM66.7 767.4h1.6v1.5h-1.6zM70 767.4h4.9v1.5h-4.9zM76.5 767.4h1.6v1.5h-1.6zM83.1 767.4h3.3v1.5h-3.3zM92.9 767.4h1.6v1.5h-1.6zM99.4 767.4h4.9v1.5h-4.9zM109.2 767.4h1.6v1.5h-1.6zM112.5 767.4h1.6v1.5h-1.6zM117.4 767.4h3.3v1.5h-3.3zM123.9 767.4h1.6v1.5h-1.6zM130.5 767.4h1.6v1.5h-1.6zM137 767.4h4.9v1.5h-4.9zM143.6 767.4h3.3v1.5h-3.3zM148.5 767.4h3.3v1.5h-3.3zM155 767.4h4.9v1.5h-4.9zM166.5 767.4h1.6v1.5h-1.6zM169.7 767.4h3.3v1.5h-3.3zM56.9 768.9h3.3v1.5h-3.3zM66.7 768.9h1.6v1.5h-1.6zM74.9 768.9h4.9v1.5h-4.9zM81.4 768.9h1.6v1.5h-1.6zM84.7 768.9h6.5v1.5h-6.5zM92.9 768.9h4.9v1.5h-4.9zM102.7 768.9h3.3v1.5h-3.3zM107.6 768.9h3.3v1.5h-3.3zM114.1 768.9h4.9v1.5h-4.9zM120.7 768.9h1.6v1.5h-1.6zM123.9 768.9h1.6v1.5h-1.6zM137 768.9h3.3v1.5h-3.3zM143.6 768.9h3.3v1.5h-3.3zM150.1 768.9h6.5v1.5h-6.5zM164.8 768.9h1.6v1.5h-1.6zM171.4 768.9h1.6v1.5h-1.6zM56.9 770.5h3.3v1.5h-3.3zM71.6 770.5h1.6v1.5h-1.6zM84.7 770.5h3.3v1.5h-3.3zM89.6 770.5h1.6v1.5h-1.6zM92.9 770.5h4.9v1.5h-4.9zM101 770.5h1.6v1.5h-1.6zM106 770.5h3.3v1.5h-3.3zM110.9 770.5h1.6v1.5h-1.6zM114.1 770.5h3.3v1.5h-3.3zM119 770.5h6.5v1.5h-6.5zM138.7 770.5h3.3v1.5h-3.3zM145.2 770.5h8.2v1.5h-8.2zM155 770.5h3.3v1.5h-3.3zM159.9 770.5h8.2v1.5h-8.2zM58.5 772h1.6v1.5h-1.6zM61.8 772h3.3v1.5h-3.3zM66.7 772h3.3v1.5h-3.3zM79.8 772h1.6v1.5h-1.6zM86.3 772h1.6v1.5h-1.6zM89.6 772h4.9v1.5h-4.9zM99.4 772h3.3v1.5h-3.3zM106 772h4.9v1.5h-4.9zM112.5 772h3.3v1.5h-3.3zM119 772h1.6v1.5h-1.6zM122.3 772h1.6v1.5h-1.6zM127.2 772h1.6v1.5h-1.6zM138.7 772h4.9v1.5h-4.9zM145.2 772h11.4v1.5h-11.4zM158.3 772h4.9v1.5h-4.9zM164.8 772h6.5v1.5h-6.5zM56.9 773.5h1.6v1.5h-1.6zM60.2 773.5h6.5v1.5h-6.5zM74.9 773.5h1.6v1.5h-1.6zM79.8 773.5h1.6v1.5h-1.6zM83.1 773.5h3.3v1.5h-3.3zM91.2 773.5h3.3v1.5h-3.3zM101 773.5h1.6v1.5h-1.6zM104.3 773.5h13.1v1.5h-13.1zM120.7 773.5h1.6v1.5h-1.6zM123.9 773.5h3.3v1.5h-3.3zM128.8 773.5h1.6v1.5h-1.6zM137 773.5h3.3v1.5h-3.3zM143.6 773.5h4.9v1.5h-4.9zM150.1 773.5h3.3v1.5h-3.3zM155 773.5h1.6v1.5h-1.6zM158.3 773.5h3.3v1.5h-3.3zM164.8 773.5h3.3v1.5h-3.3zM58.5 775.1h3.3v1.5h-3.3zM63.4 775.1h1.6v1.5h-1.6zM66.7 775.1h1.6v1.5h-1.6zM70 775.1h1.6v1.5h-1.6zM92.9 775.1h1.6v1.5h-1.6zM97.8 775.1h6.5v1.5h-6.5zM106 775.1h1.6v1.5h-1.6zM109.2 775.1h13.1v1.5h-13.1zM127.2 775.1h4.9v1.5h-4.9zM140.3 775.1h4.9v1.5h-4.9zM146.8 775.1h3.3v1.5h-3.3zM151.7 775.1h6.5v1.5h-6.5zM168.1 775.1h6.5v1.5h-6.5zM58.5 776.6h1.6v1.5h-1.6zM63.4 776.6h6.5v1.5h-6.5zM71.6 776.6h3.3v1.5h-3.3zM76.5 776.6h1.6v1.5h-1.6zM81.4 776.6h1.6v1.5h-1.6zM91.2 776.6h1.6v1.5h-1.6zM94.5 776.6h1.6v1.5h-1.6zM101 776.6h1.6v1.5h-1.6zM106 776.6h1.6v1.5h-1.6zM110.9 776.6h1.6v1.5h-1.6zM119 776.6h6.5v1.5h-6.5zM127.2 776.6h1.6v1.5h-1.6zM132.1 776.6h3.3v1.5h-3.3zM145.2 776.6h8.2v1.5h-8.2zM155 776.6h3.3v1.5h-3.3zM159.9 776.6h4.9v1.5h-4.9zM168.1 776.6h1.6v1.5h-1.6zM65.1 778.2h1.6v1.5h-1.6zM68.3 778.2h1.6v1.5h-1.6zM73.2 778.2h3.3v1.5h-3.3zM78.2 778.2h1.6v1.5h-1.6zM83.1 778.2h1.6v1.5h-1.6zM88 778.2h3.3v1.5h-3.3zM96.1 778.2h4.9v1.5h-4.9zM106 778.2h1.6v1.5h-1.6zM109.2 778.2h1.6v1.5h-1.6zM112.5 778.2h1.6v1.5h-1.6zM115.8 778.2h3.3v1.5h-3.3zM120.7 778.2h3.3v1.5h-3.3zM125.6 778.2h4.9v1.5h-4.9zM132.1 778.2h1.6v1.5h-1.6zM135.4 778.2h1.6v1.5h-1.6zM146.8 778.2h6.5v1.5h-6.5zM155 778.2h4.9v1.5h-4.9zM166.5 778.2h4.9v1.5h-4.9zM173 778.2h1.6v1.5h-1.6zM74.9 779.8h6.5v1.5h-6.5zM86.3 779.8h4.9v1.5h-4.9zM96.1 779.8h1.6v1.5h-1.6zM99.4 779.8h3.3v1.5h-3.3zM106 779.8h3.3v1.5h-3.3zM115.8 779.8h9.8v1.5h-9.8zM127.2 779.8h4.9v1.5h-4.9zM133.8 779.8h1.6v1.5h-1.6zM145.2 779.8h6.5v1.5h-6.5zM155 779.8h14.7v1.5h-14.7zM171.4 779.8h3.3v1.5h-3.3zM61.8 781.3h1.6v1.5h-1.6zM68.3 781.3h1.6v1.5h-1.6zM71.6 781.3h4.9v1.5h-4.9zM86.3 781.3h1.6v1.5h-1.6zM91.2 781.3h1.6v1.5h-1.6zM96.1 781.3h1.6v1.5h-1.6zM104.3 781.3h1.6v1.5h-1.6zM107.6 781.3h1.6v1.5h-1.6zM114.1 781.3h4.9v1.5h-4.9zM120.7 781.3h1.6v1.5h-1.6zM125.6 781.3h1.6v1.5h-1.6zM128.8 781.3h1.6v1.5h-1.6zM132.1 781.3h1.6v1.5h-1.6zM148.5 781.3h1.6v1.5h-1.6zM155 781.3h18v1.5h-18zM56.9 782.9h1.6v1.5h-1.6zM66.7 782.9h1.6v1.5h-1.6zM70 782.9h3.3v1.5h-3.3zM78.2 782.9h1.6v1.5h-1.6zM86.3 782.9h1.6v1.5h-1.6zM91.2 782.9h1.6v1.5h-1.6zM96.1 782.9h3.3v1.5h-3.3zM101 782.9h11.4v1.5h-11.4zM117.4 782.9h1.6v1.5h-1.6zM120.7 782.9h3.3v1.5h-3.3zM125.6 782.9h1.6v1.5h-1.6zM128.8 782.9h8.2v1.5h-8.2zM150.1 782.9h6.5v1.5h-6.5zM159.9 782.9h14.7v1.5h-14.7z" fill="#ffe7e7"/>
<path d="M66.7 731.7h1.6v1.5h-1.6zM70 731.7h1.6v1.5h-1.6zM78.2 731.7h4.9v1.5h-4.9zM97.8 731.7h3.3v1.5h-3.3zM104.3 731.7h3.3v1.5h-3.3zM68.3 733.2h1.6v1.5h-1.6zM74.9 733.2h1.6v1.5h-1.6zM79.8 733.2h1.6v1.5h-1.6zM83.1 733.2h4.9v1.5h-4.9zM96.1 733.2h1.6v1.5h-1.6zM102.7 733.2h1.6v1.5h-1.6zM107.6 733.2h1.6v1.5h-1.6zM86.3 734.8h1.6v1.5h-1.6zM102.7 734.8h3.3v1.5h-3.3zM107.6 734.8h1.6v1.5h-1.6zM130.5 734.8h1.6v1.5h-1.6zM68.3 736.4h4.9v1.5h-4.9zM76.5 736.4h1.6v1.5h-1.6zM81.4 736.4h1.6v1.5h-1.6zM99.4 736.4h1.6v1.5h-1.6zM104.3 736.4h1.6v1.5h-1.6zM97.8 737.9h1.6v1.5h-1.6zM102.7 737.9h4.9v1.5h-4.9zM127.2 737.9h1.6v1.5h-1.6zM89.6 739.5h8.2v1.5h-8.2zM102.7 739.5h4.9v1.5h-4.9zM94.5 741h1.6v1.5h-1.6zM97.8 741h1.6v1.5h-1.6zM88 742.6h1.6v1.5h-1.6zM91.2 742.6h3.3v1.5h-3.3zM97.8 742.6h1.6v1.5h-1.6zM106 742.6h1.6v1.5h-1.6zM109.2 742.6h1.6v1.5h-1.6zM123.9 742.6h1.6v1.5h-1.6zM89.6 744.1h1.6v1.5h-1.6zM94.5 744.1h1.6v1.5h-1.6zM106 744.1h1.6v1.5h-1.6zM115.8 744.1h1.6v1.5h-1.6zM120.7 744.1h1.6v1.5h-1.6zM92.9 745.6h1.6v1.5h-1.6zM96.1 745.6h3.3v1.5h-3.3zM101 745.6h1.6v1.5h-1.6zM109.2 745.6h1.6v1.5h-1.6zM112.5 745.6h3.3v1.5h-3.3zM81.4 747.2h1.6v1.5h-1.6zM96.1 747.2h1.6v1.5h-1.6zM102.7 747.2h1.6v1.5h-1.6zM109.2 747.2h1.6v1.5h-1.6zM112.5 747.2h1.6v1.5h-1.6zM119 747.2h3.3v1.5h-3.3zM123.9 747.2h1.6v1.5h-1.6zM133.8 747.2h1.6v1.5h-1.6zM96.1 748.8h1.6v1.5h-1.6zM101 748.8h1.6v1.5h-1.6zM120.7 748.8h4.9v1.5h-4.9zM91.2 750.3h1.6v1.5h-1.6zM94.5 750.3h1.6v1.5h-1.6zM102.7 750.3h4.9v1.5h-4.9zM114.1 750.3h1.6v1.5h-1.6zM117.4 750.3h1.6v1.5h-1.6zM122.3 750.3h1.6v1.5h-1.6zM78.2 751.9h1.6v1.5h-1.6zM104.3 751.9h1.6v1.5h-1.6zM115.8 751.9h1.6v1.5h-1.6zM120.7 751.9h1.6v1.5h-1.6zM78.2 753.4h1.6v1.5h-1.6zM106 753.4h1.6v1.5h-1.6zM109.2 753.4h1.6v1.5h-1.6zM115.8 753.4h1.6v1.5h-1.6zM123.9 753.4h3.3v1.5h-3.3zM140.3 753.4h1.6v1.5h-1.6zM106 755h1.6v1.5h-1.6zM109.2 755h3.3v1.5h-3.3zM117.4 755h1.6v1.5h-1.6zM125.6 755h1.6v1.5h-1.6zM101 756.5h1.6v1.5h-1.6zM110.9 756.5h3.3v1.5h-3.3zM117.4 756.5h1.6v1.5h-1.6zM123.9 756.5h1.6v1.5h-1.6zM127.2 756.5h1.6v1.5h-1.6zM107.6 758h1.6v1.5h-1.6zM110.9 758h4.9v1.5h-4.9zM120.7 758h1.6v1.5h-1.6zM123.9 758h3.3v1.5h-3.3zM130.5 758h1.6v1.5h-1.6zM133.8 758h1.6v1.5h-1.6zM107.6 759.6h1.6v1.5h-1.6zM122.3 759.6h3.3v1.5h-3.3zM128.8 759.6h1.6v1.5h-1.6zM110.9 761.1h1.6v1.5h-1.6zM122.3 761.1h1.6v1.5h-1.6zM106 762.7h3.3v1.5h-3.3zM114.1 762.7h1.6v1.5h-1.6zM127.2 762.7h3.3v1.5h-3.3zM133.8 762.7h1.6v1.5h-1.6zM109.2 764.2h1.6v1.5h-1.6zM112.5 764.2h3.3v1.5h-3.3zM117.4 764.2h1.6v1.5h-1.6zM120.7 764.2h1.6v1.5h-1.6zM127.2 764.2h1.6v1.5h-1.6zM133.8 764.2h1.6v1.5h-1.6zM137 764.2h1.6v1.5h-1.6zM141.9 764.2h1.6v1.5h-1.6zM145.2 764.2h1.6v1.5h-1.6zM109.2 765.8h1.6v1.5h-1.6zM119 765.8h3.3v1.5h-3.3zM133.8 765.8h1.6v1.5h-1.6zM143.6 765.8h1.6v1.5h-1.6zM161.6 765.8h1.6v1.5h-1.6zM91.2 767.4h1.6v1.5h-1.6zM120.7 767.4h3.3v1.5h-3.3zM133.8 767.4h3.3v1.5h-3.3zM141.9 767.4h1.6v1.5h-1.6zM106 768.9h1.6v1.5h-1.6zM119 768.9h1.6v1.5h-1.6zM125.6 768.9h1.6v1.5h-1.6zM133.8 768.9h3.3v1.5h-3.3zM141.9 768.9h1.6v1.5h-1.6zM166.5 768.9h1.6v1.5h-1.6zM104.3 770.5h1.6v1.5h-1.6zM109.2 770.5h1.6v1.5h-1.6zM117.4 770.5h1.6v1.5h-1.6zM125.6 770.5h1.6v1.5h-1.6zM128.8 770.5h1.6v1.5h-1.6zM133.8 770.5h4.9v1.5h-4.9zM141.9 770.5h1.6v1.5h-1.6zM123.9 772h3.3v1.5h-3.3zM128.8 772h1.6v1.5h-1.6zM135.4 772h1.6v1.5h-1.6zM143.6 772h1.6v1.5h-1.6zM122.3 773.5h1.6v1.5h-1.6zM130.5 773.5h1.6v1.5h-1.6zM141.9 773.5h1.6v1.5h-1.6zM161.6 773.5h1.6v1.5h-1.6zM107.6 775.1h1.6v1.5h-1.6zM122.3 775.1h4.9v1.5h-4.9zM137 775.1h1.6v1.5h-1.6zM145.2 775.1h1.6v1.5h-1.6zM164.8 775.1h1.6v1.5h-1.6zM125.6 776.6h1.6v1.5h-1.6zM128.8 776.6h3.3v1.5h-3.3zM123.9 778.2h1.6v1.5h-1.6zM133.8 778.2h1.6v1.5h-1.6zM145.2 778.2h1.6v1.5h-1.6zM132.1 779.8h1.6v1.5h-1.6zM135.4 779.8h1.6v1.5h-1.6zM143.6 779.8h1.6v1.5h-1.6zM151.7 779.8h3.3v1.5h-3.3zM169.7 779.8h1.6v1.5h-1.6zM122.3 781.3h3.3v1.5h-3.3zM127.2 781.3h1.6v1.5h-1.6zM130.5 781.3h1.6v1.5h-1.6zM133.8 781.3h1.6v1.5h-1.6zM138.7 781.3h1.6v1.5h-1.6zM145.2 781.3h1.6v1.5h-1.6zM150.1 781.3h4.9v1.5h-4.9zM173 781.3h1.6v1.5h-1.6zM123.9 782.9h1.6v1.5h-1.6zM127.2 782.9h1.6v1.5h-1.6zM138.7 782.9h3.3v1.5h-3.3zM146.8 782.9h3.3v1.5h-3.3zM156.6 782.9h3.3v1.5h-3.3z" fill="#ffd0d0"/>
<path d="M88 731.7h1.6v1.5h-1.6zM92.9 731.7h3.3v1.5h-3.3zM102.7 731.7h1.6v1.5h-1.6zM89.6 733.2h1.6v1.5h-1.6zM97.8 733.2h1.6v1.5h-1.6zM101 733.2h1.6v1.5h-1.6zM73.2 734.8h1.6v1.5h-1.6zM89.6 734.8h1.6v1.5h-1.6zM89.6 736.4h4.9v1.5h-4.9zM96.1 736.4h3.3v1.5h-3.3zM101 736.4h1.6v1.5h-1.6zM106 736.4h3.3v1.5h-3.3zM92.9 737.9h1.6v1.5h-1.6zM99.4 737.9h1.6v1.5h-1.6zM101 741h1.6v1.5h-1.6zM104.3 741h3.3v1.5h-3.3zM94.5 742.6h1.6v1.5h-1.6zM107.6 742.6h1.6v1.5h-1.6zM99.4 744.1h3.3v1.5h-3.3zM104.3 744.1h1.6v1.5h-1.6zM94.5 745.6h1.6v1.5h-1.6zM102.7 745.6h1.6v1.5h-1.6zM89.6 747.2h1.6v1.5h-1.6zM99.4 747.2h1.6v1.5h-1.6zM107.6 747.2h1.6v1.5h-1.6zM104.3 748.8h1.6v1.5h-1.6zM110.9 748.8h1.6v1.5h-1.6zM97.8 750.3h1.6v1.5h-1.6zM107.6 750.3h1.6v1.5h-1.6zM110.9 750.3h3.3v1.5h-3.3zM135.4 750.3h1.6v1.5h-1.6zM106 751.9h1.6v1.5h-1.6zM109.2 751.9h1.6v1.5h-1.6zM114.1 751.9h1.6v1.5h-1.6zM119 751.9h1.6v1.5h-1.6zM107.6 753.4h1.6v1.5h-1.6zM110.9 753.4h1.6v1.5h-1.6zM117.4 753.4h1.6v1.5h-1.6zM107.6 755h1.6v1.5h-1.6zM112.5 755h1.6v1.5h-1.6zM115.8 755h1.6v1.5h-1.6zM119 756.5h1.6v1.5h-1.6zM125.6 756.5h1.6v1.5h-1.6zM109.2 759.6h1.6v1.5h-1.6zM115.8 759.6h1.6v1.5h-1.6zM115.8 761.1h3.3v1.5h-3.3zM127.2 761.1h1.6v1.5h-1.6zM119 762.7h1.6v1.5h-1.6zM130.5 762.7h1.6v1.5h-1.6zM135.4 762.7h1.6v1.5h-1.6zM132.1 765.8h1.6v1.5h-1.6zM122.3 768.9h1.6v1.5h-1.6zM132.1 768.9h1.6v1.5h-1.6zM127.2 770.5h1.6v1.5h-1.6zM132.1 770.5h1.6v1.5h-1.6zM143.6 770.5h1.6v1.5h-1.6zM130.5 772h1.6v1.5h-1.6zM137 772h1.6v1.5h-1.6zM127.2 773.5h1.6v1.5h-1.6zM140.3 773.5h1.6v1.5h-1.6zM132.1 775.1h1.6v1.5h-1.6zM138.7 775.1h1.6v1.5h-1.6zM135.4 776.6h1.6v1.5h-1.6zM140.3 776.6h4.9v1.5h-4.9zM140.3 778.2h1.6v1.5h-1.6zM143.6 778.2h1.6v1.5h-1.6zM125.6 779.8h1.6v1.5h-1.6zM137 779.8h3.3v1.5h-3.3zM141.9 779.8h1.6v1.5h-1.6zM135.4 781.3h3.3v1.5h-3.3zM146.8 781.3h1.6v1.5h-1.6zM137 782.9h1.6v1.5h-1.6z" fill="#ffb9b9"/>
<path d="M91.2 731.7h1.6v1.5h-1.6zM89.6 737.9h1.6v1.5h-1.6zM101 737.9h1.6v1.5h-1.6zM99.4 739.5h3.3v1.5h-3.3zM92.9 741h1.6v1.5h-1.6zM96.1 741h1.6v1.5h-1.6zM99.4 742.6h1.6v1.5h-1.6zM97.8 744.1h1.6v1.5h-1.6zM107.6 745.6h1.6v1.5h-1.6zM104.3 747.2h1.6v1.5h-1.6zM102.7 748.8h1.6v1.5h-1.6zM115.8 748.8h1.6v1.5h-1.6zM112.5 751.9h1.6v1.5h-1.6zM119 753.4h1.6v1.5h-1.6zM119 755h1.6v1.5h-1.6zM123.9 755h1.6v1.5h-1.6zM112.5 759.6h3.3v1.5h-3.3zM117.4 759.6h1.6v1.5h-1.6zM123.9 761.1h1.6v1.5h-1.6zM112.5 762.7h1.6v1.5h-1.6zM120.7 762.7h1.6v1.5h-1.6zM123.9 762.7h1.6v1.5h-1.6zM122.3 764.2h1.6v1.5h-1.6zM123.9 765.8h1.6v1.5h-1.6zM130.5 765.8h1.6v1.5h-1.6zM132.1 767.4h1.6v1.5h-1.6zM127.2 768.9h1.6v1.5h-1.6zM130.5 768.9h1.6v1.5h-1.6zM133.8 772h1.6v1.5h-1.6zM138.7 776.6h1.6v1.5h-1.6zM141.9 778.2h1.6v1.5h-1.6z" fill="#ffa2a2"/>
<path d="M96.1 734.8h1.6v1.5h-1.6zM102.7 742.6h1.6v1.5h-1.6zM99.4 745.6h1.6v1.5h-1.6zM106 745.6h1.6v1.5h-1.6zM101 747.2h1.6v1.5h-1.6zM106 748.8h1.6v1.5h-1.6zM114.1 748.8h1.6v1.5h-1.6zM114.1 753.4h1.6v1.5h-1.6zM125.6 761.1h1.6v1.5h-1.6zM122.3 765.8h1.6v1.5h-1.6zM128.8 765.8h1.6v1.5h-1.6zM125.6 767.4h1.6v1.5h-1.6zM128.8 767.4h1.6v1.5h-1.6zM132.1 773.5h1.6v1.5h-1.6zM135.4 773.5h1.6v1.5h-1.6zM130.5 778.2h1.6v1.5h-1.6zM137 778.2h1.6v1.5h-1.6zM141.9 782.9h1.6v1.5h-1.6zM145.2 782.9h1.6v1.5h-1.6z" fill="#ff8b8b"/>
<path d="M92.9 733.2h1.6v1.5h-1.6zM91.2 734.8h1.6v1.5h-1.6zM94.5 734.8h1.6v1.5h-1.6zM119 758h1.6v1.5h-1.6zM125.6 762.7h1.6v1.5h-1.6zM140.3 781.3h1.6v1.5h-1.6z" fill="#ff7373"/>
<path d="M104.3 742.6h1.6v1.5h-1.6zM109.2 748.8h1.6v1.5h-1.6zM119 761.1h1.6v1.5h-1.6zM133.8 775.1h1.6v1.5h-1.6zM143.6 781.3h1.6v1.5h-1.6z" fill="#ff5c5c"/>
<path d="M120.7 759.6h1.6v1.5h-1.6zM127.2 765.8h1.6v1.5h-1.6z" fill="#ff4545"/>
<path d="M94.5 737.9h1.6v1.5h-1.6z" fill="#ff1717"/></g>
<line x1="89.6" y1="731.7" x2="145.2" y2="784.4" stroke="#ff3344" stroke-opacity="0.08" stroke-width="10" filter="url(#blur1)"/>
<line x1="89.6" y1="731.7" x2="145.2" y2="784.4" stroke="#ff3344" stroke-opacity="0.12" stroke-width="5" filter="url(#blur1)"/>
<line x1="89.6" y1="731.7" x2="145.2" y2="784.4" stroke="#ff2a2a" stroke-width="1.2"/>
</g>
<clipPath id="clipE1"><rect x="58.8" y="805.8" width="115.6" height="52.8"/></clipPath>
<g clip-path="url(#clipE1)">
<rect x="58.8" y="805.8" width="115.6" height="52.8" fill="#fef7f8"/>
<g filter="url(#blur04)"><path d="M56.9 805.8h1.6v1.6h-1.6zM60.2 805.8h16.4v1.6h-16.4zM86.3 805.8h1.6v1.6h-1.6zM101 805.8h1.6v1.6h-1.6zM104.3 805.8h1.6v1.6h-1.6zM107.6 805.8h4.9v1.6h-4.9zM114.1 805.8h4.9v1.6h-4.9zM120.7 805.8h3.3v1.6h-3.3zM127.2 805.8h1.6v1.6h-1.6zM132.1 805.8h8.2v1.6h-8.2zM143.6 805.8h1.6v1.6h-1.6zM148.5 805.8h1.6v1.6h-1.6zM153.4 805.8h3.3v1.6h-3.3zM161.6 805.8h3.3v1.6h-3.3zM168.1 805.8h1.6v1.6h-1.6zM171.4 805.8h1.6v1.6h-1.6zM60.2 807.4h1.6v1.6h-1.6zM65.1 807.4h1.6v1.6h-1.6zM68.3 807.4h8.2v1.6h-8.2zM78.2 807.4h1.6v1.6h-1.6zM81.4 807.4h1.6v1.6h-1.6zM84.7 807.4h3.3v1.6h-3.3zM96.1 807.4h1.6v1.6h-1.6zM99.4 807.4h3.3v1.6h-3.3zM104.3 807.4h1.6v1.6h-1.6zM107.6 807.4h6.5v1.6h-6.5zM115.8 807.4h4.9v1.6h-4.9zM122.3 807.4h1.6v1.6h-1.6zM125.6 807.4h1.6v1.6h-1.6zM128.8 807.4h1.6v1.6h-1.6zM132.1 807.4h3.3v1.6h-3.3zM145.2 807.4h3.3v1.6h-3.3zM153.4 807.4h1.6v1.6h-1.6zM159.9 807.4h1.6v1.6h-1.6zM163.2 807.4h1.6v1.6h-1.6zM58.5 808.9h6.5v1.6h-6.5zM66.7 808.9h4.9v1.6h-4.9zM73.2 808.9h3.3v1.6h-3.3zM78.2 808.9h1.6v1.6h-1.6zM81.4 808.9h1.6v1.6h-1.6zM84.7 808.9h1.6v1.6h-1.6zM89.6 808.9h1.6v1.6h-1.6zM99.4 808.9h11.4v1.6h-11.4zM112.5 808.9h3.3v1.6h-3.3zM119 808.9h3.3v1.6h-3.3zM123.9 808.9h1.6v1.6h-1.6zM127.2 808.9h1.6v1.6h-1.6zM132.1 808.9h1.6v1.6h-1.6zM137 808.9h1.6v1.6h-1.6zM140.3 808.9h3.3v1.6h-3.3zM145.2 808.9h4.9v1.6h-4.9zM151.7 808.9h3.3v1.6h-3.3zM158.3 808.9h1.6v1.6h-1.6zM161.6 808.9h3.3v1.6h-3.3zM169.7 808.9h1.6v1.6h-1.6zM58.5 810.5h1.6v1.6h-1.6zM63.4 810.5h3.3v1.6h-3.3zM70 810.5h3.3v1.6h-3.3zM74.9 810.5h3.3v1.6h-3.3zM79.8 810.5h1.6v1.6h-1.6zM83.1 810.5h1.6v1.6h-1.6zM89.6 810.5h1.6v1.6h-1.6zM99.4 810.5h3.3v1.6h-3.3zM104.3 810.5h11.4v1.6h-11.4zM117.4 810.5h3.3v1.6h-3.3zM122.3 810.5h3.3v1.6h-3.3zM127.2 810.5h3.3v1.6h-3.3zM132.1 810.5h9.8v1.6h-9.8zM145.2 810.5h1.6v1.6h-1.6zM150.1 810.5h1.6v1.6h-1.6zM158.3 810.5h1.6v1.6h-1.6zM161.6 810.5h3.3v1.6h-3.3zM171.4 810.5h1.6v1.6h-1.6zM60.2 812h1.6v1.6h-1.6zM63.4 812h1.6v1.6h-1.6zM71.6 812h3.3v1.6h-3.3zM78.2 812h8.2v1.6h-8.2zM88 812h1.6v1.6h-1.6zM99.4 812h1.6v1.6h-1.6zM102.7 812h3.3v1.6h-3.3zM107.6 812h1.6v1.6h-1.6zM112.5 812h6.5v1.6h-6.5zM120.7 812h6.5v1.6h-6.5zM128.8 812h3.3v1.6h-3.3zM133.8 812h1.6v1.6h-1.6zM140.3 812h1.6v1.6h-1.6zM143.6 812h1.6v1.6h-1.6zM151.7 812h1.6v1.6h-1.6zM155 812h3.3v1.6h-3.3zM163.2 812h4.9v1.6h-4.9zM169.7 812h1.6v1.6h-1.6zM56.9 813.6h1.6v1.6h-1.6zM65.1 813.6h1.6v1.6h-1.6zM71.6 813.6h1.6v1.6h-1.6zM74.9 813.6h1.6v1.6h-1.6zM81.4 813.6h3.3v1.6h-3.3zM86.3 813.6h3.3v1.6h-3.3zM91.2 813.6h1.6v1.6h-1.6zM109.2 813.6h14.7v1.6h-14.7zM135.4 813.6h3.3v1.6h-3.3zM140.3 813.6h1.6v1.6h-1.6zM143.6 813.6h1.6v1.6h-1.6zM148.5 813.6h3.3v1.6h-3.3zM153.4 813.6h1.6v1.6h-1.6zM158.3 813.6h1.6v1.6h-1.6zM163.2 813.6h1.6v1.6h-1.6zM58.5 815.1h8.2v1.6h-8.2zM71.6 815.1h4.9v1.6h-4.9zM79.8 815.1h8.2v1.6h-8.2zM91.2 815.1h3.3v1.6h-3.3zM104.3 815.1h1.6v1.6h-1.6zM107.6 815.1h3.3v1.6h-3.3zM119 815.1h3.3v1.6h-3.3zM123.9 815.1h6.5v1.6h-6.5zM138.7 815.1h3.3v1.6h-3.3zM145.2 815.1h3.3v1.6h-3.3zM151.7 815.1h6.5v1.6h-6.5zM161.6 815.1h1.6v1.6h-1.6zM166.5 815.1h1.6v1.6h-1.6zM169.7 815.1h4.9v1.6h-4.9zM63.4 816.7h1.6v1.6h-1.6zM68.3 816.7h3.3v1.6h-3.3zM76.5 816.7h1.6v1.6h-1.6zM79.8 816.7h11.4v1.6h-11.4zM92.9 816.7h3.3v1.6h-3.3zM99.4 816.7h1.6v1.6h-1.6zM107.6 816.7h14.7v1.6h-14.7zM123.9 816.7h3.3v1.6h-3.3zM135.4 816.7h4.9v1.6h-4.9zM143.6 816.7h1.6v1.6h-1.6zM150.1 816.7h1.6v1.6h-1.6zM169.7 816.7h4.9v1.6h-4.9zM68.3 818.2h1.6v1.6h-1.6zM78.2 818.2h4.9v1.6h-4.9zM84.7 818.2h4.9v1.6h-4.9zM91.2 818.2h3.3v1.6h-3.3zM96.1 818.2h1.6v1.6h-1.6zM99.4 818.2h1.6v1.6h-1.6zM110.9 818.2h6.5v1.6h-6.5zM119 818.2h8.2v1.6h-8.2zM132.1 818.2h1.6v1.6h-1.6zM135.4 818.2h3.3v1.6h-3.3zM141.9 818.2h3.3v1.6h-3.3zM146.8 818.2h1.6v1.6h-1.6zM150.1 818.2h1.6v1.6h-1.6zM153.4 818.2h4.9v1.6h-4.9zM163.2 818.2h3.3v1.6h-3.3zM173 818.2h1.6v1.6h-1.6zM81.4 819.8h8.2v1.6h-8.2zM91.2 819.8h1.6v1.6h-1.6zM96.1 819.8h3.3v1.6h-3.3zM112.5 819.8h1.6v1.6h-1.6zM119 819.8h1.6v1.6h-1.6zM123.9 819.8h1.6v1.6h-1.6zM128.8 819.8h1.6v1.6h-1.6zM135.4 819.8h1.6v1.6h-1.6zM141.9 819.8h4.9v1.6h-4.9zM153.4 819.8h3.3v1.6h-3.3zM158.3 819.8h1.6v1.6h-1.6zM164.8 819.8h3.3v1.6h-3.3zM173 819.8h1.6v1.6h-1.6zM58.5 821.3h6.5v1.6h-6.5zM66.7 821.3h1.6v1.6h-1.6zM73.2 821.3h1.6v1.6h-1.6zM76.5 821.3h1.6v1.6h-1.6zM79.8 821.3h11.4v1.6h-11.4zM94.5 821.3h4.9v1.6h-4.9zM101 821.3h1.6v1.6h-1.6zM110.9 821.3h1.6v1.6h-1.6zM117.4 821.3h9.8v1.6h-9.8zM132.1 821.3h4.9v1.6h-4.9zM138.7 821.3h1.6v1.6h-1.6zM141.9 821.3h1.6v1.6h-1.6zM146.8 821.3h1.6v1.6h-1.6zM158.3 821.3h1.6v1.6h-1.6zM161.6 821.3h3.3v1.6h-3.3zM168.1 821.3h1.6v1.6h-1.6zM58.5 822.9h1.6v1.6h-1.6zM61.8 822.9h3.3v1.6h-3.3zM68.3 822.9h3.3v1.6h-3.3zM73.2 822.9h1.6v1.6h-1.6zM78.2 822.9h9.8v1.6h-9.8zM89.6 822.9h3.3v1.6h-3.3zM99.4 822.9h1.6v1.6h-1.6zM114.1 822.9h1.6v1.6h-1.6zM117.4 822.9h1.6v1.6h-1.6zM123.9 822.9h1.6v1.6h-1.6zM127.2 822.9h1.6v1.6h-1.6zM135.4 822.9h1.6v1.6h-1.6zM140.3 822.9h4.9v1.6h-4.9zM150.1 822.9h3.3v1.6h-3.3zM159.9 822.9h1.6v1.6h-1.6zM164.8 822.9h6.5v1.6h-6.5zM58.5 824.4h3.3v1.6h-3.3zM63.4 824.4h11.4v1.6h-11.4zM76.5 824.4h8.2v1.6h-8.2zM88 824.4h1.6v1.6h-1.6zM96.1 824.4h1.6v1.6h-1.6zM99.4 824.4h4.9v1.6h-4.9zM114.1 824.4h1.6v1.6h-1.6zM117.4 824.4h1.6v1.6h-1.6zM122.3 824.4h18v1.6h-18zM145.2 824.4h1.6v1.6h-1.6zM148.5 824.4h1.6v1.6h-1.6zM151.7 824.4h1.6v1.6h-1.6zM155 824.4h1.6v1.6h-1.6zM164.8 824.4h6.5v1.6h-6.5zM173 824.4h1.6v1.6h-1.6zM58.5 826h1.6v1.6h-1.6zM66.7 826h3.3v1.6h-3.3zM71.6 826h4.9v1.6h-4.9zM78.2 826h1.6v1.6h-1.6zM83.1 826h4.9v1.6h-4.9zM91.2 826h1.6v1.6h-1.6zM94.5 826h6.5v1.6h-6.5zM102.7 826h3.3v1.6h-3.3zM115.8 826h1.6v1.6h-1.6zM119 826h1.6v1.6h-1.6zM123.9 826h8.2v1.6h-8.2zM133.8 826h1.6v1.6h-1.6zM138.7 826h6.5v1.6h-6.5zM146.8 826h1.6v1.6h-1.6zM156.6 826h3.3v1.6h-3.3zM163.2 826h1.6v1.6h-1.6zM168.1 826h3.3v1.6h-3.3zM56.9 827.5h1.6v1.6h-1.6zM60.2 827.5h4.9v1.6h-4.9zM70 827.5h3.3v1.6h-3.3zM78.2 827.5h1.6v1.6h-1.6zM81.4 827.5h1.6v1.6h-1.6zM84.7 827.5h21.3v1.6h-21.3zM109.2 827.5h1.6v1.6h-1.6zM119 827.5h1.6v1.6h-1.6zM123.9 827.5h1.6v1.6h-1.6zM127.2 827.5h1.6v1.6h-1.6zM130.5 827.5h4.9v1.6h-4.9zM137 827.5h3.3v1.6h-3.3zM141.9 827.5h3.3v1.6h-3.3zM150.1 827.5h1.6v1.6h-1.6zM153.4 827.5h3.3v1.6h-3.3zM163.2 827.5h1.6v1.6h-1.6zM56.9 829.1h13.1v1.6h-13.1zM71.6 829.1h1.6v1.6h-1.6zM74.9 829.1h6.5v1.6h-6.5zM83.1 829.1h1.6v1.6h-1.6zM86.3 829.1h1.6v1.6h-1.6zM89.6 829.1h1.6v1.6h-1.6zM92.9 829.1h8.2v1.6h-8.2zM102.7 829.1h1.6v1.6h-1.6zM106 829.1h3.3v1.6h-3.3zM122.3 829.1h3.3v1.6h-3.3zM130.5 829.1h6.5v1.6h-6.5zM138.7 829.1h3.3v1.6h-3.3zM145.2 829.1h1.6v1.6h-1.6zM151.7 829.1h1.6v1.6h-1.6zM159.9 829.1h3.3v1.6h-3.3zM171.4 829.1h1.6v1.6h-1.6zM56.9 830.6h1.6v1.6h-1.6zM61.8 830.6h8.2v1.6h-8.2zM76.5 830.6h1.6v1.6h-1.6zM83.1 830.6h4.9v1.6h-4.9zM89.6 830.6h19.6v1.6h-19.6zM122.3 830.6h9.8v1.6h-9.8zM135.4 830.6h1.6v1.6h-1.6zM138.7 830.6h1.6v1.6h-1.6zM141.9 830.6h1.6v1.6h-1.6zM146.8 830.6h1.6v1.6h-1.6zM151.7 830.6h1.6v1.6h-1.6zM161.6 830.6h1.6v1.6h-1.6zM171.4 830.6h3.3v1.6h-3.3zM58.5 832.2h3.3v1.6h-3.3zM65.1 832.2h6.5v1.6h-6.5zM73.2 832.2h1.6v1.6h-1.6zM76.5 832.2h1.6v1.6h-1.6zM83.1 832.2h3.3v1.6h-3.3zM88 832.2h1.6v1.6h-1.6zM94.5 832.2h9.8v1.6h-9.8zM106 832.2h1.6v1.6h-1.6zM109.2 832.2h4.9v1.6h-4.9zM120.7 832.2h4.9v1.6h-4.9zM130.5 832.2h16.4v1.6h-16.4zM156.6 832.2h1.6v1.6h-1.6zM163.2 832.2h1.6v1.6h-1.6zM173 832.2h1.6v1.6h-1.6zM65.1 833.8h4.9v1.6h-4.9zM79.8 833.8h1.6v1.6h-1.6zM83.1 833.8h1.6v1.6h-1.6zM91.2 833.8h1.6v1.6h-1.6zM94.5 833.8h11.4v1.6h-11.4zM109.2 833.8h3.3v1.6h-3.3zM125.6 833.8h9.8v1.6h-9.8zM137 833.8h9.8v1.6h-9.8zM148.5 833.8h1.6v1.6h-1.6zM151.7 833.8h1.6v1.6h-1.6zM155 833.8h1.6v1.6h-1.6zM159.9 833.8h1.6v1.6h-1.6zM164.8 833.8h3.3v1.6h-3.3zM171.4 833.8h3.3v1.6h-3.3zM58.5 835.3h1.6v1.6h-1.6zM65.1 835.3h1.6v1.6h-1.6zM71.6 835.3h4.9v1.6h-4.9zM84.7 835.3h1.6v1.6h-1.6zM88 835.3h26.2v1.6h-26.2zM125.6 835.3h9.8v1.6h-9.8zM137 835.3h3.3v1.6h-3.3zM141.9 835.3h4.9v1.6h-4.9zM148.5 835.3h1.6v1.6h-1.6zM151.7 835.3h1.6v1.6h-1.6zM155 835.3h1.6v1.6h-1.6zM158.3 835.3h3.3v1.6h-3.3zM164.8 835.3h1.6v1.6h-1.6zM169.7 835.3h4.9v1.6h-4.9zM65.1 836.9h3.3v1.6h-3.3zM71.6 836.9h1.6v1.6h-1.6zM74.9 836.9h1.6v1.6h-1.6zM81.4 836.9h1.6v1.6h-1.6zM84.7 836.9h1.6v1.6h-1.6zM88 836.9h1.6v1.6h-1.6zM91.2 836.9h3.3v1.6h-3.3zM102.7 836.9h4.9v1.6h-4.9zM112.5 836.9h1.6v1.6h-1.6zM115.8 836.9h1.6v1.6h-1.6zM128.8 836.9h1.6v1.6h-1.6zM132.1 836.9h1.6v1.6h-1.6zM135.4 836.9h14.7v1.6h-14.7zM153.4 836.9h4.9v1.6h-4.9zM159.9 836.9h3.3v1.6h-3.3zM164.8 836.9h4.9v1.6h-4.9zM58.5 838.4h6.5v1.6h-6.5zM66.7 838.4h3.3v1.6h-3.3zM76.5 838.4h3.3v1.6h-3.3zM81.4 838.4h1.6v1.6h-1.6zM92.9 838.4h1.6v1.6h-1.6zM96.1 838.4h4.9v1.6h-4.9zM102.7 838.4h8.2v1.6h-8.2zM115.8 838.4h3.3v1.6h-3.3zM132.1 838.4h6.5v1.6h-6.5zM140.3 838.4h8.2v1.6h-8.2zM151.7 838.4h3.3v1.6h-3.3zM158.3 838.4h3.3v1.6h-3.3zM163.2 838.4h3.3v1.6h-3.3zM168.1 838.4h4.9v1.6h-4.9zM60.2 840h1.6v1.6h-1.6zM65.1 840h1.6v1.6h-1.6zM70 840h1.6v1.6h-1.6zM86.3 840h1.6v1.6h-1.6zM91.2 840h1.6v1.6h-1.6zM94.5 840h3.3v1.6h-3.3zM99.4 840h1.6v1.6h-1.6zM102.7 840h1.6v1.6h-1.6zM107.6 840h8.2v1.6h-8.2zM132.1 840h1.6v1.6h-1.6zM137 840h1.6v1.6h-1.6zM140.3 840h4.9v1.6h-4.9zM146.8 840h11.4v1.6h-11.4zM168.1 840h6.5v1.6h-6.5zM58.5 841.5h6.5v1.6h-6.5zM66.7 841.5h1.6v1.6h-1.6zM70 841.5h3.3v1.6h-3.3zM74.9 841.5h4.9v1.6h-4.9zM81.4 841.5h4.9v1.6h-4.9zM91.2 841.5h1.6v1.6h-1.6zM102.7 841.5h1.6v1.6h-1.6zM106 841.5h1.6v1.6h-1.6zM109.2 841.5h3.3v1.6h-3.3zM114.1 841.5h1.6v1.6h-1.6zM117.4 841.5h6.5v1.6h-6.5zM128.8 841.5h1.6v1.6h-1.6zM132.1 841.5h1.6v1.6h-1.6zM137 841.5h3.3v1.6h-3.3zM141.9 841.5h16.4v1.6h-16.4zM159.9 841.5h6.5v1.6h-6.5zM169.7 841.5h4.9v1.6h-4.9zM58.5 843.1h4.9v1.6h-4.9zM68.3 843.1h4.9v1.6h-4.9zM74.9 843.1h6.5v1.6h-6.5zM83.1 843.1h3.3v1.6h-3.3zM88 843.1h6.5v1.6h-6.5zM96.1 843.1h1.6v1.6h-1.6zM99.4 843.1h4.9v1.6h-4.9zM106 843.1h3.3v1.6h-3.3zM114.1 843.1h3.3v1.6h-3.3zM119 843.1h4.9v1.6h-4.9zM133.8 843.1h1.6v1.6h-1.6zM138.7 843.1h4.9v1.6h-4.9zM145.2 843.1h1.6v1.6h-1.6zM148.5 843.1h1.6v1.6h-1.6zM151.7 843.1h1.6v1.6h-1.6zM155 843.1h3.3v1.6h-3.3zM161.6 843.1h3.3v1.6h-3.3zM169.7 843.1h3.3v1.6h-3.3zM56.9 844.6h1.6v1.6h-1.6zM63.4 844.6h3.3v1.6h-3.3zM71.6 844.6h1.6v1.6h-1.6zM74.9 844.6h3.3v1.6h-3.3zM89.6 844.6h1.6v1.6h-1.6zM92.9 844.6h4.9v1.6h-4.9zM99.4 844.6h1.6v1.6h-1.6zM104.3 844.6h3.3v1.6h-3.3zM109.2 844.6h14.7v1.6h-14.7zM135.4 844.6h4.9v1.6h-4.9zM143.6 844.6h1.6v1.6h-1.6zM148.5 844.6h9.8v1.6h-9.8zM159.9 844.6h3.3v1.6h-3.3zM166.5 844.6h4.9v1.6h-4.9zM58.5 846.2h1.6v1.6h-1.6zM63.4 846.2h1.6v1.6h-1.6zM68.3 846.2h1.6v1.6h-1.6zM71.6 846.2h3.3v1.6h-3.3zM76.5 846.2h1.6v1.6h-1.6zM81.4 846.2h1.6v1.6h-1.6zM84.7 846.2h1.6v1.6h-1.6zM88 846.2h1.6v1.6h-1.6zM91.2 846.2h1.6v1.6h-1.6zM94.5 846.2h16.4v1.6h-16.4zM112.5 846.2h3.3v1.6h-3.3zM117.4 846.2h4.9v1.6h-4.9zM123.9 846.2h1.6v1.6h-1.6zM127.2 846.2h1.6v1.6h-1.6zM135.4 846.2h3.3v1.6h-3.3zM141.9 846.2h1.6v1.6h-1.6zM146.8 846.2h1.6v1.6h-1.6zM150.1 846.2h1.6v1.6h-1.6zM155 846.2h1.6v1.6h-1.6zM158.3 846.2h3.3v1.6h-3.3zM163.2 846.2h3.3v1.6h-3.3zM168.1 846.2h6.5v1.6h-6.5zM56.9 847.7h1.6v1.6h-1.6zM63.4 847.7h1.6v1.6h-1.6zM68.3 847.7h1.6v1.6h-1.6zM78.2 847.7h6.5v1.6h-6.5zM91.2 847.7h1.6v1.6h-1.6zM96.1 847.7h4.9v1.6h-4.9zM104.3 847.7h3.3v1.6h-3.3zM109.2 847.7h16.4v1.6h-16.4zM127.2 847.7h1.6v1.6h-1.6zM140.3 847.7h1.6v1.6h-1.6zM143.6 847.7h4.9v1.6h-4.9zM150.1 847.7h1.6v1.6h-1.6zM153.4 847.7h4.9v1.6h-4.9zM159.9 847.7h6.5v1.6h-6.5zM168.1 847.7h3.3v1.6h-3.3zM173 847.7h1.6v1.6h-1.6zM61.8 849.3h3.3v1.6h-3.3zM66.7 849.3h3.3v1.6h-3.3zM71.6 849.3h1.6v1.6h-1.6zM81.4 849.3h3.3v1.6h-3.3zM91.2 849.3h1.6v1.6h-1.6zM96.1 849.3h4.9v1.6h-4.9zM104.3 849.3h1.6v1.6h-1.6zM107.6 849.3h3.3v1.6h-3.3zM112.5 849.3h6.5v1.6h-6.5zM122.3 849.3h3.3v1.6h-3.3zM127.2 849.3h1.6v1.6h-1.6zM130.5 849.3h1.6v1.6h-1.6zM140.3 849.3h1.6v1.6h-1.6zM143.6 849.3h9.8v1.6h-9.8zM156.6 849.3h3.3v1.6h-3.3zM163.2 849.3h9.8v1.6h-9.8zM65.1 850.8h1.6v1.6h-1.6zM68.3 850.8h1.6v1.6h-1.6zM71.6 850.8h6.5v1.6h-6.5zM79.8 850.8h3.3v1.6h-3.3zM92.9 850.8h3.3v1.6h-3.3zM101 850.8h6.5v1.6h-6.5zM110.9 850.8h1.6v1.6h-1.6zM114.1 850.8h9.8v1.6h-9.8zM127.2 850.8h4.9v1.6h-4.9zM145.2 850.8h3.3v1.6h-3.3zM150.1 850.8h8.2v1.6h-8.2zM159.9 850.8h6.5v1.6h-6.5zM168.1 850.8h3.3v1.6h-3.3zM173 850.8h1.6v1.6h-1.6zM58.5 852.4h1.6v1.6h-1.6zM61.8 852.4h1.6v1.6h-1.6zM65.1 852.4h1.6v1.6h-1.6zM71.6 852.4h1.6v1.6h-1.6zM84.7 852.4h1.6v1.6h-1.6zM89.6 852.4h1.6v1.6h-1.6zM94.5 852.4h9.8v1.6h-9.8zM106 852.4h1.6v1.6h-1.6zM109.2 852.4h1.6v1.6h-1.6zM112.5 852.4h14.7v1.6h-14.7zM128.8 852.4h3.3v1.6h-3.3zM143.6 852.4h18v1.6h-18zM163.2 852.4h3.3v1.6h-3.3zM169.7 852.4h4.9v1.6h-4.9zM65.1 853.9h1.6v1.6h-1.6zM71.6 853.9h1.6v1.6h-1.6zM76.5 853.9h1.6v1.6h-1.6zM84.7 853.9h4.9v1.6h-4.9zM94.5 853.9h4.9v1.6h-4.9zM106 853.9h11.4v1.6h-11.4zM119 853.9h1.6v1.6h-1.6zM122.3 853.9h1.6v1.6h-1.6zM128.8 853.9h3.3v1.6h-3.3zM133.8 853.9h4.9v1.6h-4.9zM146.8 853.9h4.9v1.6h-4.9zM153.4 853.9h4.9v1.6h-4.9zM163.2 853.9h1.6v1.6h-1.6zM166.5 853.9h1.6v1.6h-1.6zM169.7 853.9h1.6v1.6h-1.6zM173 853.9h1.6v1.6h-1.6zM60.2 855.5h1.6v1.6h-1.6zM63.4 855.5h1.6v1.6h-1.6zM66.7 855.5h1.6v1.6h-1.6zM71.6 855.5h1.6v1.6h-1.6zM79.8 855.5h3.3v1.6h-3.3zM96.1 855.5h1.6v1.6h-1.6zM101 855.5h3.3v1.6h-3.3zM106 855.5h1.6v1.6h-1.6zM109.2 855.5h3.3v1.6h-3.3zM117.4 855.5h1.6v1.6h-1.6zM120.7 855.5h3.3v1.6h-3.3zM125.6 855.5h1.6v1.6h-1.6zM128.8 855.5h4.9v1.6h-4.9zM137 855.5h1.6v1.6h-1.6zM146.8 855.5h1.6v1.6h-1.6zM150.1 855.5h3.3v1.6h-3.3zM155 855.5h1.6v1.6h-1.6zM159.9 855.5h14.7v1.6h-14.7zM56.9 857h1.6v1.6h-1.6zM63.4 857h1.6v1.6h-1.6zM68.3 857h1.6v1.6h-1.6zM73.2 857h1.6v1.6h-1.6zM86.3 857h1.6v1.6h-1.6zM89.6 857h6.5v1.6h-6.5zM106 857h1.6v1.6h-1.6zM109.2 857h1.6v1.6h-1.6zM114.1 857h4.9v1.6h-4.9zM120.7 857h1.6v1.6h-1.6zM127.2 857h4.9v1.6h-4.9zM135.4 857h1.6v1.6h-1.6zM150.1 857h1.6v1.6h-1.6zM153.4 857h8.2v1.6h-8.2zM163.2 857h11.4v1.6h-11.4z" fill="#ffe7e7"/>
<path d="M58.5 805.8h1.6v1.6h-1.6zM76.5 805.8h1.6v1.6h-1.6zM79.8 805.8h6.5v1.6h-6.5zM94.5 805.8h1.6v1.6h-1.6zM99.4 805.8h1.6v1.6h-1.6zM102.7 805.8h1.6v1.6h-1.6zM106 805.8h1.6v1.6h-1.6zM66.7 807.4h1.6v1.6h-1.6zM76.5 807.4h1.6v1.6h-1.6zM79.8 807.4h1.6v1.6h-1.6zM83.1 807.4h1.6v1.6h-1.6zM102.7 807.4h1.6v1.6h-1.6zM106 807.4h1.6v1.6h-1.6zM71.6 808.9h1.6v1.6h-1.6zM76.5 808.9h1.6v1.6h-1.6zM79.8 808.9h1.6v1.6h-1.6zM86.3 808.9h1.6v1.6h-1.6zM94.5 808.9h1.6v1.6h-1.6zM68.3 810.5h1.6v1.6h-1.6zM73.2 810.5h1.6v1.6h-1.6zM84.7 810.5h4.9v1.6h-4.9zM97.8 810.5h1.6v1.6h-1.6zM102.7 810.5h1.6v1.6h-1.6zM86.3 812h1.6v1.6h-1.6zM89.6 812h3.3v1.6h-3.3zM101 812h1.6v1.6h-1.6zM106 812h1.6v1.6h-1.6zM89.6 813.6h1.6v1.6h-1.6zM92.9 813.6h3.3v1.6h-3.3zM101 813.6h1.6v1.6h-1.6zM107.6 813.6h1.6v1.6h-1.6zM127.2 813.6h1.6v1.6h-1.6zM145.2 813.6h1.6v1.6h-1.6zM89.6 815.1h1.6v1.6h-1.6zM94.5 815.1h3.3v1.6h-3.3zM106 815.1h1.6v1.6h-1.6zM110.9 815.1h1.6v1.6h-1.6zM96.1 816.7h3.3v1.6h-3.3zM102.7 816.7h4.9v1.6h-4.9zM89.6 818.2h1.6v1.6h-1.6zM94.5 818.2h1.6v1.6h-1.6zM97.8 818.2h1.6v1.6h-1.6zM101 818.2h1.6v1.6h-1.6zM104.3 818.2h1.6v1.6h-1.6zM107.6 818.2h3.3v1.6h-3.3zM127.2 818.2h1.6v1.6h-1.6zM89.6 819.8h1.6v1.6h-1.6zM94.5 819.8h1.6v1.6h-1.6zM99.4 819.8h1.6v1.6h-1.6zM107.6 819.8h3.3v1.6h-3.3zM114.1 819.8h4.9v1.6h-4.9zM120.7 819.8h1.6v1.6h-1.6zM125.6 819.8h1.6v1.6h-1.6zM92.9 821.3h1.6v1.6h-1.6zM114.1 821.3h3.3v1.6h-3.3zM94.5 822.9h4.9v1.6h-4.9zM101 822.9h4.9v1.6h-4.9zM115.8 822.9h1.6v1.6h-1.6zM119 822.9h4.9v1.6h-4.9zM125.6 822.9h1.6v1.6h-1.6zM91.2 824.4h4.9v1.6h-4.9zM97.8 824.4h1.6v1.6h-1.6zM104.3 824.4h3.3v1.6h-3.3zM110.9 824.4h1.6v1.6h-1.6zM115.8 824.4h1.6v1.6h-1.6zM119 824.4h3.3v1.6h-3.3zM92.9 826h1.6v1.6h-1.6zM106 826h3.3v1.6h-3.3zM112.5 826h1.6v1.6h-1.6zM117.4 826h1.6v1.6h-1.6zM120.7 826h1.6v1.6h-1.6zM106 827.5h3.3v1.6h-3.3zM115.8 827.5h3.3v1.6h-3.3zM120.7 827.5h3.3v1.6h-3.3zM125.6 827.5h1.6v1.6h-1.6zM156.6 827.5h1.6v1.6h-1.6zM81.4 829.1h1.6v1.6h-1.6zM109.2 829.1h1.6v1.6h-1.6zM112.5 829.1h1.6v1.6h-1.6zM117.4 829.1h3.3v1.6h-3.3zM127.2 829.1h1.6v1.6h-1.6zM146.8 829.1h1.6v1.6h-1.6zM109.2 830.6h3.3v1.6h-3.3zM107.6 832.2h1.6v1.6h-1.6zM114.1 832.2h3.3v1.6h-3.3zM125.6 832.2h4.9v1.6h-4.9zM106 833.8h3.3v1.6h-3.3zM120.7 833.8h1.6v1.6h-1.6zM66.7 835.3h1.6v1.6h-1.6zM79.8 835.3h1.6v1.6h-1.6zM83.1 835.3h1.6v1.6h-1.6zM114.1 835.3h4.9v1.6h-4.9zM122.3 835.3h3.3v1.6h-3.3zM140.3 835.3h1.6v1.6h-1.6zM109.2 836.9h3.3v1.6h-3.3zM117.4 836.9h1.6v1.6h-1.6zM110.9 838.4h3.3v1.6h-3.3zM119 838.4h4.9v1.6h-4.9zM127.2 838.4h4.9v1.6h-4.9zM138.7 838.4h1.6v1.6h-1.6zM104.3 840h3.3v1.6h-3.3zM115.8 840h4.9v1.6h-4.9zM122.3 840h1.6v1.6h-1.6zM128.8 840h3.3v1.6h-3.3zM133.8 840h3.3v1.6h-3.3zM107.6 841.5h1.6v1.6h-1.6zM123.9 841.5h1.6v1.6h-1.6zM130.5 841.5h1.6v1.6h-1.6zM133.8 841.5h3.3v1.6h-3.3zM140.3 841.5h1.6v1.6h-1.6zM109.2 843.1h1.6v1.6h-1.6zM112.5 843.1h1.6v1.6h-1.6zM123.9 843.1h1.6v1.6h-1.6zM132.1 843.1h1.6v1.6h-1.6zM137 843.1h1.6v1.6h-1.6zM143.6 843.1h1.6v1.6h-1.6zM123.9 844.6h3.3v1.6h-3.3zM140.3 844.6h3.3v1.6h-3.3zM145.2 844.6h3.3v1.6h-3.3zM158.3 844.6h1.6v1.6h-1.6zM122.3 846.2h1.6v1.6h-1.6zM128.8 846.2h1.6v1.6h-1.6zM140.3 846.2h1.6v1.6h-1.6zM143.6 846.2h3.3v1.6h-3.3zM125.6 847.7h1.6v1.6h-1.6zM128.8 847.7h3.3v1.6h-3.3zM137 847.7h3.3v1.6h-3.3zM141.9 847.7h1.6v1.6h-1.6zM125.6 849.3h1.6v1.6h-1.6zM132.1 849.3h1.6v1.6h-1.6zM138.7 849.3h1.6v1.6h-1.6zM123.9 850.8h3.3v1.6h-3.3zM132.1 850.8h1.6v1.6h-1.6zM141.9 850.8h3.3v1.6h-3.3zM148.5 850.8h1.6v1.6h-1.6zM133.8 852.4h3.3v1.6h-3.3zM140.3 852.4h1.6v1.6h-1.6zM123.9 853.9h1.6v1.6h-1.6zM127.2 853.9h1.6v1.6h-1.6zM132.1 853.9h1.6v1.6h-1.6zM143.6 853.9h1.6v1.6h-1.6zM151.7 853.9h1.6v1.6h-1.6zM158.3 853.9h4.9v1.6h-4.9zM168.1 853.9h1.6v1.6h-1.6zM171.4 853.9h1.6v1.6h-1.6zM123.9 855.5h1.6v1.6h-1.6zM127.2 855.5h1.6v1.6h-1.6zM133.8 855.5h3.3v1.6h-3.3zM143.6 855.5h1.6v1.6h-1.6zM148.5 855.5h1.6v1.6h-1.6zM153.4 855.5h1.6v1.6h-1.6zM156.6 855.5h3.3v1.6h-3.3zM122.3 857h1.6v1.6h-1.6zM125.6 857h1.6v1.6h-1.6zM132.1 857h3.3v1.6h-3.3zM146.8 857h3.3v1.6h-3.3zM151.7 857h1.6v1.6h-1.6zM161.6 857h1.6v1.6h-1.6z" fill="#ffd0d0"/>
<path d="M78.2 805.8h1.6v1.6h-1.6zM91.2 805.8h3.3v1.6h-3.3zM97.8 805.8h1.6v1.6h-1.6zM88 807.4h1.6v1.6h-1.6zM97.8 807.4h1.6v1.6h-1.6zM88 808.9h1.6v1.6h-1.6zM91.2 808.9h1.6v1.6h-1.6zM97.8 808.9h1.6v1.6h-1.6zM81.4 810.5h1.6v1.6h-1.6zM91.2 810.5h1.6v1.6h-1.6zM92.9 812h1.6v1.6h-1.6zM109.2 812h1.6v1.6h-1.6zM99.4 813.6h1.6v1.6h-1.6zM102.7 813.6h4.9v1.6h-4.9zM102.7 815.1h1.6v1.6h-1.6zM106 818.2h1.6v1.6h-1.6zM92.9 819.8h1.6v1.6h-1.6zM102.7 819.8h1.6v1.6h-1.6zM110.9 819.8h1.6v1.6h-1.6zM122.3 819.8h1.6v1.6h-1.6zM99.4 821.3h1.6v1.6h-1.6zM109.2 821.3h1.6v1.6h-1.6zM92.9 822.9h1.6v1.6h-1.6zM112.5 822.9h1.6v1.6h-1.6zM112.5 824.4h1.6v1.6h-1.6zM109.2 826h1.6v1.6h-1.6zM114.1 826h1.6v1.6h-1.6zM122.3 826h1.6v1.6h-1.6zM114.1 827.5h1.6v1.6h-1.6zM104.3 829.1h1.6v1.6h-1.6zM120.7 829.1h1.6v1.6h-1.6zM125.6 829.1h1.6v1.6h-1.6zM112.5 830.6h1.6v1.6h-1.6zM117.4 830.6h1.6v1.6h-1.6zM120.7 830.6h1.6v1.6h-1.6zM104.3 832.2h1.6v1.6h-1.6zM119 832.2h1.6v1.6h-1.6zM112.5 833.8h4.9v1.6h-4.9zM122.3 833.8h3.3v1.6h-3.3zM114.1 836.9h1.6v1.6h-1.6zM119 836.9h3.3v1.6h-3.3zM125.6 836.9h1.6v1.6h-1.6zM130.5 836.9h1.6v1.6h-1.6zM120.7 840h1.6v1.6h-1.6zM145.2 840h1.6v1.6h-1.6zM125.6 843.1h1.6v1.6h-1.6zM135.4 843.1h1.6v1.6h-1.6zM127.2 844.6h3.3v1.6h-3.3zM125.6 846.2h1.6v1.6h-1.6zM133.8 846.2h1.6v1.6h-1.6zM138.7 846.2h1.6v1.6h-1.6zM135.4 847.7h1.6v1.6h-1.6zM120.7 849.3h1.6v1.6h-1.6zM128.8 849.3h1.6v1.6h-1.6zM141.9 849.3h1.6v1.6h-1.6zM133.8 850.8h1.6v1.6h-1.6zM140.3 850.8h1.6v1.6h-1.6zM127.2 852.4h1.6v1.6h-1.6zM132.1 852.4h1.6v1.6h-1.6zM141.9 852.4h1.6v1.6h-1.6zM138.7 855.5h1.6v1.6h-1.6zM145.2 855.5h1.6v1.6h-1.6zM138.7 857h1.6v1.6h-1.6zM141.9 857h1.6v1.6h-1.6z" fill="#ffb9b9"/>
<path d="M89.6 807.4h1.6v1.6h-1.6zM94.5 807.4h1.6v1.6h-1.6zM83.1 808.9h1.6v1.6h-1.6zM92.9 810.5h1.6v1.6h-1.6zM97.8 812h1.6v1.6h-1.6zM91.2 816.7h1.6v1.6h-1.6zM102.7 821.3h1.6v1.6h-1.6zM112.5 821.3h1.6v1.6h-1.6zM107.6 824.4h1.6v1.6h-1.6zM110.9 827.5h1.6v1.6h-1.6zM110.9 829.1h1.6v1.6h-1.6zM114.1 830.6h1.6v1.6h-1.6zM123.9 836.9h1.6v1.6h-1.6zM123.9 840h1.6v1.6h-1.6zM127.2 840h1.6v1.6h-1.6zM127.2 843.1h1.6v1.6h-1.6zM130.5 843.1h1.6v1.6h-1.6zM133.8 844.6h1.6v1.6h-1.6zM138.7 850.8h1.6v1.6h-1.6zM137 852.4h1.6v1.6h-1.6zM138.7 853.9h1.6v1.6h-1.6zM140.3 857h1.6v1.6h-1.6z" fill="#ffa2a2"/>
<path d="M96.1 808.9h1.6v1.6h-1.6zM96.1 813.6h1.6v1.6h-1.6zM101 815.1h1.6v1.6h-1.6zM110.9 822.9h1.6v1.6h-1.6zM115.8 829.1h1.6v1.6h-1.6zM119 830.6h1.6v1.6h-1.6zM119 835.3h1.6v1.6h-1.6zM114.1 838.4h1.6v1.6h-1.6zM125.6 838.4h1.6v1.6h-1.6zM138.7 840h1.6v1.6h-1.6zM125.6 841.5h1.6v1.6h-1.6zM132.1 844.6h1.6v1.6h-1.6zM132.1 847.7h1.6v1.6h-1.6zM145.2 853.9h1.6v1.6h-1.6zM137 857h1.6v1.6h-1.6z" fill="#ff8b8b"/>
<path d="M88 805.8h1.6v1.6h-1.6zM92.9 807.4h1.6v1.6h-1.6zM94.5 812h1.6v1.6h-1.6zM97.8 815.1h1.6v1.6h-1.6zM101 819.8h1.6v1.6h-1.6zM106 819.8h1.6v1.6h-1.6zM104.3 821.3h1.6v1.6h-1.6zM107.6 821.3h1.6v1.6h-1.6zM130.5 846.2h1.6v1.6h-1.6zM133.8 849.3h1.6v1.6h-1.6zM137 849.3h1.6v1.6h-1.6zM135.4 850.8h1.6v1.6h-1.6zM141.9 853.9h1.6v1.6h-1.6z" fill="#ff7373"/>
<path d="M96.1 805.8h1.6v1.6h-1.6zM117.4 833.8h1.6v1.6h-1.6zM140.3 855.5h1.6v1.6h-1.6zM145.2 857h1.6v1.6h-1.6z" fill="#ff5c5c"/>
<path d="M96.1 810.5h1.6v1.6h-1.6zM106 822.9h1.6v1.6h-1.6zM109.2 822.9h1.6v1.6h-1.6zM127.2 836.9h1.6v1.6h-1.6z" fill="#ff4545"/></g>
<line x1="89.6" y1="805.8" x2="145.2" y2="858.6" stroke="#ff3344" stroke-opacity="0.08" stroke-width="10" filter="url(#blur1)"/>
<line x1="89.6" y1="805.8" x2="145.2" y2="858.6" stroke="#ff3344" stroke-opacity="0.12" stroke-width="5" filter="url(#blur1)"/>
<line x1="89.6" y1="805.8" x2="145.2" y2="858.6" stroke="#ff2a2a" stroke-width="1.2"/>
</g>
<rect x="130.4" y="743.5" width="9.2" height="9.2" fill="none" stroke="#3b6fd0" stroke-width="1.5"/>
<rect x="103" y="769.3" width="9.2" height="9.2" fill="none" stroke="#3b6fd0" stroke-width="1.5"/>
<rect x="130.4" y="817.6" width="9.2" height="9.2" fill="#fff"/>
<rect x="130.4" y="817.6" width="9.2" height="9.2" fill="none" stroke="#3b6fd0" stroke-width="1.5"/>
<rect x="103" y="843.5" width="9.2" height="9.2" fill="#fff"/>
<rect x="103" y="843.5" width="9.2" height="9.2" fill="none" stroke="#3b6fd0" stroke-width="1.5"/>
<text x="71.3" y="797.6" font-size="14.5" textLength="98.6" lengthAdjust="spacingAndGlyphs">w/o CTCF loop</text>
<polygon points="176,778.6 188.3,778.6 188.3,768.6 199.5,789.4 188.3,810.1 188.3,800.1 176,800.1" fill="#d5ddf8"/>
<rect x="199.1" y="738.8" width="97.9" height="100.1" rx="11" fill="#d8e0fa"/>
<polygon points="296.5,778.9 307.2,778.9 307.2,768.6 318.6,789.6 307.2,810.6 307.2,800.4 296.5,800.4" fill="#d5ddf8"/>
<text x="248" y="726.3" font-size="14.5" text-anchor="middle" textLength="97" lengthAdjust="spacingAndGlyphs">HiCFoundation</text>
<g stroke="#4a78ea" fill="#e7e9f9">
<line x1="244.3" y1="780.7" x2="226.6" y2="769.7" stroke-width="2"/>
<line x1="244.3" y1="780.7" x2="258.3" y2="769.7" stroke-width="2"/>
<line x1="244.3" y1="780.7" x2="273.1" y2="788" stroke-width="2"/>
<line x1="244.3" y1="780.7" x2="227.9" y2="788.2" stroke-width="2"/>
<line x1="244.3" y1="780.7" x2="256" y2="794.5" stroke-width="2"/>
<line x1="244.3" y1="780.7" x2="241.5" y2="808.8" stroke-width="2"/>
<circle cx="218.4" cy="764.6" r="9.6" stroke-width="1.5"/>
<circle cx="265.4" cy="764.2" r="9" stroke-width="1.5"/>
<circle cx="282.4" cy="790.4" r="9.6" stroke-width="1.5"/>
<circle cx="222.1" cy="790.9" r="6.4" stroke-width="1.5"/>
<circle cx="259.4" cy="798.6" r="5.3" stroke-width="1.5"/>
<circle cx="240.6" cy="818.4" r="9.6" stroke-width="1.5"/>
<circle cx="244.3" cy="780.7" r="8.6" stroke-width="1.5"/>
</g>
<text x="419" y="726.9" font-size="14.5" text-anchor="middle" textLength="118.9" lengthAdjust="spacingAndGlyphs">Epigenomic signal</text>
<polygon points="379.6,767 379.6,767 379.9,767 380.3,766.8 380.6,766.6 380.9,766 381.2,765 381.6,763.3 381.9,760.9 382.2,758.3 382.5,755.9 382.9,754.6 383.2,754.8 383.5,756.3 383.8,758.8 384.2,761.4 384.5,763.7 384.8,765.2 385.1,766.2 385.5,766.7 385.8,766.9 386.1,767 386.1,767" fill="#c8dcf5"/>
<polygon points="383.8,767 383.8,767 384.1,766.9 384.4,766.8 384.7,766.5 384.9,765.7 385.2,764.3 385.5,762.1 385.8,759 386,755.5 386.3,752.4 386.6,750.7 386.9,750.9 387.1,752.9 387.4,756.2 387.7,759.7 388,762.6 388.2,764.7 388.5,765.9 388.8,766.6 389.1,766.8 389.3,766.9 389.3,767" fill="#c8dcf5"/>
<polygon points="470.7,767 470.7,767 470.9,766.9 471.1,766.8 471.3,766.4 471.6,765.5 471.8,763.8 472,761.1 472.2,757.4 472.5,753.2 472.7,749.5 472.9,747.4 473.1,747.6 473.4,750.1 473.6,754 473.8,758.2 474,761.7 474.3,764.2 474.5,765.7 474.7,766.5 474.9,766.8 475.2,766.9 475.2,767" fill="#c8dcf5"/>
<path d="M332.5,767.1 L333.6,764.9 L334.8,767.3 L335.9,764.9 L337.1,767.1 L338.2,764.9 L339.4,767 L340.5,764.9 L341.7,767.2 L342.8,764.8 L344,766.9 L345.1,765 L346.3,766.9 L347.4,764.8 L348.6,767.2 L349.7,765.1 L350.9,767.3 L352,764.7 L353.2,767.2 L354.3,764.9 L355.5,767 L356.6,765.1 L357.8,767.1 L358.9,765.1 L360.1,767 L361.2,765 L362.4,766.9 L363.5,764.9 L364.7,767.1 L365.8,764.8 L367,767.1 L368.1,764.8 L369.3,767.1 L370.4,764.8 L371.6,767.1 L372.7,765 L373.9,767.3 L375,764.7 L376.2,767.2 L377.3,764.8 L378.5,767 L379.6,765 L380.8,766.3 L381.1,763.4 L381.5,763.9 L381.8,759.2 L382.2,758.7 L382.5,753.9 L382.9,754.9 L383.2,752.7 L383.6,756.8 L383.9,757.7 L384.3,762.5 L384.6,761.9 L385,764.6 L385.3,760.8 L385.7,759.5 L386,753.2 L386.4,751.9 L386.7,748.5 L387.1,752.5 L387.4,754.6 L387.8,761.2 L388.1,761.9 L388.5,765.8 L388.8,764.6 L390,766.9 L391.1,765.1 L392.3,767.2 L393.4,765 L394.6,767.1 L395.7,764.9 L396.9,767 L398,764.8 L399.2,767 L400.3,764.8 L401.5,766.9 L402.6,764.9 L403.8,767 L404.9,765 L406.1,767.3 L407.2,764.8 L408.4,767 L409.5,764.7 L410.7,767 L411.8,764.9 L413,767.2 L414.1,764.8 L415.3,766.9 L416.4,764.5 L417.6,765.9 L417.9,763.8 L418.3,766.1 L418.6,764.1 L419,766.4 L419.3,764.7 L420.5,766.9 L421.6,764.9 L422.8,767 L423.9,764.9 L425.1,767 L426.2,764.9 L427.4,767.3 L428.5,764.9 L429.7,767.1 L430.8,764.8 L432,767 L433.1,765 L434.3,767.3 L435.4,764.8 L436.6,767 L437.7,765 L438.9,767.2 L440,764.7 L441.2,767 L442.3,764.7 L443.5,767.3 L444.6,764.9 L445.8,767.1 L446.9,765.1 L448.1,766.9 L449.2,764.7 L450.4,767 L451.5,764.8 L452.7,767 L453.8,764.8 L455,767.1 L456.1,765 L457.3,767 L458.4,764.8 L459.6,766.9 L460.7,765 L461.9,767.1 L463,764.8 L464.2,767.1 L465.3,765 L466.5,767.3 L467.6,765 L468.8,766.9 L469.9,765 L471.1,766.8 L472.2,755.2 L472.6,750.7 L472.9,745.2 L473.3,749.4 L473.6,753.3 L474,761.3 L474.3,762.7 L474.7,766.7 L475,764.7 L476.2,767.2 L477.3,764.9 L478.5,767 L479.6,765.1 L480.8,766.9 L481.9,764.7 L483.1,767.2 L484.2,764.7 L485.4,766.9 L486.5,764.8 L487.7,767.1 L488.8,764.8 L490,767 L491.1,764.7 L492.3,766.9 L493.4,764.9 L494.6,767.2 L495.7,764.7 L496.9,767.2 L498,764.8 L499.2,767.2 L500.3,764.7 L501.5,767 L502.6,764.8 L503.8,767.3" fill="none" stroke="#a3c6ee" stroke-width="0.85" stroke-linejoin="round"/>
<polygon points="379.7,836 379.7,836 380,835.9 380.3,835.8 380.6,835.5 380.9,834.8 381.2,833.4 381.5,831.2 381.8,828.2 382.1,824.8 382.4,821.8 382.7,820.2 383,820.4 383.3,822.4 383.6,825.5 383.9,828.9 384.2,831.7 384.5,833.7 384.8,834.9 385.1,835.6 385.4,835.8 385.7,835.9 385.7,836" fill="#f8c6a3"/>
<polygon points="382.9,836 382.9,836 383.2,836 383.6,835.9 383.9,835.7 384.2,835.2 384.5,834.4 384.9,833 385.2,831.1 385.5,829 385.8,827.2 386.2,826.1 386.5,826.2 386.8,827.5 387.1,829.4 387.5,831.6 387.8,833.3 388.1,834.6 388.4,835.3 388.8,835.7 389.1,835.9 389.4,836 389.4,836" fill="#f8c6a3"/>
<path d="M332.5,836.1 L333.6,833.8 L334.8,836.2 L335.9,834 L337.1,835.9 L338.2,834 L339.4,836 L340.5,833.8 L341.7,836.2 L342.8,833.9 L344,836.1 L345.1,833.8 L346.3,836 L347.4,833.9 L348.6,836 L349.7,833.7 L350.9,835.9 L352,833.8 L353.2,835.9 L354.3,833.8 L355.5,836 L356.6,833.9 L357.8,836.2 L358.9,834.1 L360.1,835.9 L361.2,833.7 L362.4,836.1 L363.5,834.1 L364.7,836.3 L365.8,833.7 L367,835.9 L368.1,833.9 L369.3,836 L370.4,834 L371.6,836.1 L372.7,834 L373.9,836.2 L375,834.1 L376.2,836 L377.3,833.8 L378.5,836.1 L379.6,833.9 L380.8,835.1 L381.1,831.5 L381.5,831.1 L381.8,825.5 L382.2,823.7 L382.5,818.4 L382.9,820.4 L383.2,819.9 L383.6,825.6 L383.9,827.2 L384.3,831.9 L384.6,830.3 L385,831.7 L385.3,828 L385.7,827.9 L386,824.2 L386.4,826.3 L386.7,825 L387.1,829.1 L387.4,829.2 L387.8,833.4 L388.1,832.6 L388.5,835.4 L388.8,833.7 L390,836.1 L391.1,833.8 L392.3,835.9 L393.4,833.9 L394.6,836 L395.7,833.8 L396.9,835.9 L398,834 L399.2,836 L400.3,833.8 L401.5,835.9 L402.6,833.9 L403.8,836 L404.9,834 L406.1,836.1 L407.2,833.7 L408.4,836.1 L409.5,833.7 L410.7,836 L411.8,833.7 L413,836 L414.1,834 L415.3,836.2 L416.4,833.5 L417.6,834.6 L417.9,832.5 L418.3,834.8 L418.6,832.8 L419,835.2 L419.3,833.7 L420.5,835.9 L421.6,833.9 L422.8,836.3 L423.9,833.7 L425.1,836.1 L426.2,834.1 L427.4,836 L428.5,833.8 L429.7,836.2 L430.8,833.8 L432,836 L433.1,833.9 L434.3,836.1 L435.4,833.8 L436.6,836 L437.7,833.7 L438.9,836.3 L440,834 L441.2,836 L442.3,833.8 L443.5,836 L444.6,833.7 L445.8,836.1 L446.9,833.8 L448.1,836.2 L449.2,834 L450.4,836 L451.5,834 L452.7,836.2 L453.8,833.8 L455,836 L456.1,833.7 L457.3,836.1 L458.4,834 L459.6,836.1 L460.7,833.7 L461.9,836.1 L463,833.9 L464.2,836.3 L465.3,833.7 L466.5,836.2 L467.6,833.9 L468.8,836.1 L469.9,833.7 L471.1,836.1 L472.2,832.4 L472.6,833.9 L472.9,831.5 L473.3,833.9 L473.6,832.2 L474,835 L474.3,833.4 L475.5,836.3 L476.6,833.8 L477.8,836.3 L478.9,833.7 L480.1,836.1 L481.2,833.8 L482.4,836.1 L483.5,834.1 L484.7,836 L485.8,834 L487,836.3 L488.1,833.8 L489.3,836.1 L490.4,833.9 L491.6,835.9 L492.7,833.9 L493.9,836.2 L495,833.9 L496.2,836 L497.3,833.9 L498.5,836 L499.6,833.8 L500.8,836 L501.9,834.1 L503.1,836 L504.2,833.8" fill="none" stroke="#f4a56f" stroke-width="0.85" stroke-linejoin="round"/>
<rect x="379.6" y="743.3" width="12.1" height="97.7" fill="none" stroke="#ea4747" stroke-width="1.2"/>
<rect x="467.3" y="743.3" width="12.4" height="97.7" fill="none" stroke="#ea4747" stroke-width="1.2"/>
<text x="378.3" y="856.5" font-size="14.5" textLength="81.3" lengthAdjust="spacingAndGlyphs">Loop anchor</text>
<polygon points="527.8,746.4 555,746.4 555,740.8 567,752.3 555,763.8 555,758.2 527.8,758.2" fill="#d5ddf8"/>
<text x="541.9" y="783.4" font-size="14.5" text-anchor="middle" textLength="65.4" lengthAdjust="spacingAndGlyphs">Integrated</text>
<text x="541.7" y="799.7" font-size="14.5" text-anchor="middle" textLength="60.6" lengthAdjust="spacingAndGlyphs">gradients</text>
<text x="637.2" y="726.2" font-size="14.5" text-anchor="middle" textLength="106.3" lengthAdjust="spacingAndGlyphs">Attribution score</text>
<g filter="url(#blur04)"><rect x="579.5" y="732" width="115.1" height="50.4" fill="#fdebe4"/>
<path d="M606.4 732h1.9v1.9h-1.9zM610.2 732h1.9v1.9h-1.9zM621.7 732h1.9v1.9h-1.9zM625.6 732h1.9v1.9h-1.9zM606.4 733.9h3.8v1.9h-3.8zM612.1 733.9h1.9v1.9h-1.9zM625.6 733.9h3.8v1.9h-3.8zM610.2 735.8h3.8v1.9h-3.8zM627.5 735.8h3.8v1.9h-3.8zM612.1 737.8h7.7v1.9h-7.7zM627.5 737.8h1.9v1.9h-1.9zM631.3 737.8h1.9v1.9h-1.9zM667.8 737.8h1.9v1.9h-1.9zM616 739.7h5.8v1.9h-5.8zM629.4 739.7h3.8v1.9h-3.8zM667.8 739.7h3.8v1.9h-3.8zM619.8 743.5h1.9v1.9h-1.9zM637.1 743.5h1.9v1.9h-1.9zM656.3 743.5h1.9v1.9h-1.9zM619.8 745.4h1.9v1.9h-1.9zM623.7 745.4h3.8v1.9h-3.8zM635.2 745.4h3.8v1.9h-3.8zM654.4 745.4h3.8v1.9h-3.8zM637.1 747.4h3.8v1.9h-3.8zM642.9 747.4h1.9v1.9h-1.9zM654.4 747.4h1.9v1.9h-1.9zM688.9 747.4h1.9v1.9h-1.9zM623.7 749.3h1.9v1.9h-1.9zM639 749.3h1.9v1.9h-1.9zM658.2 749.3h1.9v1.9h-1.9zM662.1 749.3h1.9v1.9h-1.9zM625.6 751.2h3.8v1.9h-3.8zM640.9 751.2h1.9v1.9h-1.9zM656.3 751.2h1.9v1.9h-1.9zM631.3 753.1h1.9v1.9h-1.9zM648.6 753.1h3.8v1.9h-3.8zM654.4 753.1h1.9v1.9h-1.9zM652.5 755h1.9v1.9h-1.9zM614.1 757h3.8v1.9h-3.8zM648.6 757h3.8v1.9h-3.8zM614.1 758.9h1.9v1.9h-1.9zM639 758.9h1.9v1.9h-1.9zM633.3 760.8h1.9v1.9h-1.9zM637.1 760.8h1.9v1.9h-1.9zM652.5 760.8h3.8v1.9h-3.8zM637.1 762.7h1.9v1.9h-1.9zM650.5 762.7h3.8v1.9h-3.8zM637.1 764.6h5.8v1.9h-5.8zM656.3 764.6h1.9v1.9h-1.9zM639 766.6h1.9v1.9h-1.9zM644.8 766.6h1.9v1.9h-1.9zM656.3 766.6h3.8v1.9h-3.8zM629.4 768.5h1.9v1.9h-1.9zM633.3 768.5h1.9v1.9h-1.9zM642.9 768.5h1.9v1.9h-1.9zM646.7 768.5h1.9v1.9h-1.9zM658.2 768.5h1.9v1.9h-1.9zM627.5 770.4h1.9v1.9h-1.9zM633.3 770.4h3.8v1.9h-3.8zM644.8 770.4h1.9v1.9h-1.9zM656.3 770.4h3.8v1.9h-3.8zM662.1 770.4h1.9v1.9h-1.9zM633.3 772.3h1.9v1.9h-1.9zM637.1 772.3h1.9v1.9h-1.9zM662.1 772.3h3.8v1.9h-3.8zM627.5 774.2h1.9v1.9h-1.9zM635.2 774.2h1.9v1.9h-1.9zM652.5 774.2h1.9v1.9h-1.9zM629.4 776.2h1.9v1.9h-1.9zM650.5 776.2h1.9v1.9h-1.9zM665.9 776.2h1.9v1.9h-1.9zM669.7 776.2h1.9v1.9h-1.9zM654.4 778.1h1.9v1.9h-1.9zM669.7 778.1h1.9v1.9h-1.9zM650.5 780h1.9v1.9h-1.9zM675.5 780h1.9v1.9h-1.9z" fill="#f8dad2"/>
<path d="M619.8 732h1.9v1.9h-1.9zM614.1 735.8h1.9v1.9h-1.9zM623.7 735.8h1.9v1.9h-1.9zM619.8 741.6h3.8v1.9h-3.8zM625.6 741.6h1.9v1.9h-1.9zM631.3 741.6h1.9v1.9h-1.9zM623.7 743.5h1.9v1.9h-1.9zM629.4 743.5h7.7v1.9h-7.7zM621.7 745.4h1.9v1.9h-1.9zM631.3 745.4h1.9v1.9h-1.9zM658.2 745.4h3.8v1.9h-3.8zM625.6 747.4h1.9v1.9h-1.9zM629.4 747.4h3.8v1.9h-3.8zM635.2 747.4h1.9v1.9h-1.9zM656.3 747.4h1.9v1.9h-1.9zM660.1 747.4h1.9v1.9h-1.9zM625.6 749.3h3.8v1.9h-3.8zM633.3 749.3h1.9v1.9h-1.9zM640.9 749.3h1.9v1.9h-1.9zM633.3 751.2h1.9v1.9h-1.9zM642.9 751.2h3.8v1.9h-3.8zM642.9 753.1h5.8v1.9h-5.8zM644.8 755h7.7v1.9h-7.7zM646.7 757h1.9v1.9h-1.9zM635.2 758.9h3.8v1.9h-3.8zM644.8 758.9h1.9v1.9h-1.9zM650.5 758.9h1.9v1.9h-1.9zM639 760.8h1.9v1.9h-1.9zM646.7 760.8h1.9v1.9h-1.9zM639 762.7h1.9v1.9h-1.9zM648.6 762.7h1.9v1.9h-1.9zM644.8 764.6h1.9v1.9h-1.9zM654.4 764.6h1.9v1.9h-1.9zM642.9 766.6h1.9v1.9h-1.9zM650.5 766.6h1.9v1.9h-1.9zM654.4 766.6h1.9v1.9h-1.9zM644.8 768.5h1.9v1.9h-1.9zM656.3 768.5h1.9v1.9h-1.9zM660.1 768.5h1.9v1.9h-1.9zM629.4 770.4h1.9v1.9h-1.9zM648.6 770.4h1.9v1.9h-1.9zM627.5 772.3h3.8v1.9h-3.8zM652.5 772.3h1.9v1.9h-1.9zM660.1 772.3h1.9v1.9h-1.9zM633.3 774.2h1.9v1.9h-1.9zM654.4 774.2h1.9v1.9h-1.9zM654.4 776.2h3.8v1.9h-3.8zM667.8 776.2h1.9v1.9h-1.9zM665.9 778.1h1.9v1.9h-1.9zM665.9 780h5.8v1.9h-5.8z" fill="#f3cac1"/>
<path d="M608.3 732h1.9v1.9h-1.9zM614.1 733.9h1.9v1.9h-1.9zM621.7 733.9h1.9v1.9h-1.9zM625.6 735.8h1.9v1.9h-1.9zM621.7 739.7h1.9v1.9h-1.9zM621.7 743.5h1.9v1.9h-1.9zM625.6 743.5h3.8v1.9h-3.8zM633.3 745.4h1.9v1.9h-1.9zM633.3 747.4h1.9v1.9h-1.9zM629.4 749.3h1.9v1.9h-1.9zM629.4 751.2h1.9v1.9h-1.9zM635.2 753.1h1.9v1.9h-1.9zM639 753.1h3.8v1.9h-3.8zM635.2 755h1.9v1.9h-1.9zM635.2 757h1.9v1.9h-1.9zM640.9 757h3.8v1.9h-3.8zM648.6 758.9h1.9v1.9h-1.9zM640.9 760.8h1.9v1.9h-1.9zM648.6 760.8h1.9v1.9h-1.9zM640.9 762.7h1.9v1.9h-1.9zM646.7 764.6h1.9v1.9h-1.9zM652.5 764.6h1.9v1.9h-1.9zM652.5 766.6h1.9v1.9h-1.9zM652.5 770.4h1.9v1.9h-1.9zM660.1 770.4h1.9v1.9h-1.9zM650.5 772.3h1.9v1.9h-1.9zM654.4 772.3h1.9v1.9h-1.9zM631.3 774.2h1.9v1.9h-1.9zM660.1 774.2h1.9v1.9h-1.9zM662.1 776.2h3.8v1.9h-3.8zM656.3 778.1h1.9v1.9h-1.9zM664 778.1h1.9v1.9h-1.9zM667.8 778.1h1.9v1.9h-1.9z" fill="#eeb9b0"/>
<path d="M612.1 732h1.9v1.9h-1.9zM617.9 732h1.9v1.9h-1.9zM617.9 733.9h3.8v1.9h-3.8zM616 735.8h1.9v1.9h-1.9zM625.6 737.8h1.9v1.9h-1.9zM623.7 739.7h1.9v1.9h-1.9zM629.4 741.6h1.9v1.9h-1.9zM629.4 745.4h1.9v1.9h-1.9zM627.5 747.4h1.9v1.9h-1.9zM635.2 749.3h3.8v1.9h-3.8zM631.3 751.2h1.9v1.9h-1.9zM635.2 751.2h1.9v1.9h-1.9zM640.9 755h1.9v1.9h-1.9zM650.5 760.8h1.9v1.9h-1.9zM642.9 762.7h1.9v1.9h-1.9zM646.7 762.7h1.9v1.9h-1.9zM648.6 764.6h3.8v1.9h-3.8zM646.7 766.6h1.9v1.9h-1.9zM654.4 768.5h1.9v1.9h-1.9zM631.3 770.4h1.9v1.9h-1.9zM650.5 770.4h1.9v1.9h-1.9zM656.3 772.3h1.9v1.9h-1.9zM656.3 774.2h1.9v1.9h-1.9zM664 774.2h1.9v1.9h-1.9zM660.1 776.2h1.9v1.9h-1.9zM658.2 778.1h3.8v1.9h-3.8zM656.3 780h1.9v1.9h-1.9z" fill="#e9a99f"/>
<path d="M614.1 732h3.8v1.9h-3.8zM621.7 737.8h3.8v1.9h-3.8zM625.6 739.7h3.8v1.9h-3.8zM623.7 741.6h1.9v1.9h-1.9zM627.5 741.6h1.9v1.9h-1.9zM658.2 747.4h1.9v1.9h-1.9zM631.3 749.3h1.9v1.9h-1.9zM637.1 751.2h1.9v1.9h-1.9zM633.3 755h1.9v1.9h-1.9zM642.9 755h1.9v1.9h-1.9zM637.1 757h3.8v1.9h-3.8zM644.8 757h1.9v1.9h-1.9zM640.9 758.9h1.9v1.9h-1.9zM642.9 760.8h1.9v1.9h-1.9zM648.6 768.5h1.9v1.9h-1.9zM658.2 772.3h1.9v1.9h-1.9zM658.2 774.2h1.9v1.9h-1.9zM662.1 774.2h1.9v1.9h-1.9zM658.2 776.2h1.9v1.9h-1.9zM664 780h1.9v1.9h-1.9z" fill="#e4998e"/>
<path d="M616 733.9h1.9v1.9h-1.9zM619.8 737.8h1.9v1.9h-1.9zM627.5 745.4h1.9v1.9h-1.9zM639 751.2h1.9v1.9h-1.9zM639 755h1.9v1.9h-1.9zM648.6 766.6h1.9v1.9h-1.9zM650.5 768.5h1.9v1.9h-1.9zM654.4 770.4h1.9v1.9h-1.9zM658.2 780h1.9v1.9h-1.9z" fill="#e0887d"/>
<path d="M617.9 735.8h1.9v1.9h-1.9zM637.1 755h1.9v1.9h-1.9zM646.7 758.9h1.9v1.9h-1.9zM644.8 760.8h1.9v1.9h-1.9zM642.9 764.6h1.9v1.9h-1.9zM631.3 772.3h1.9v1.9h-1.9zM662.1 778.1h1.9v1.9h-1.9zM660.1 780h3.8v1.9h-3.8z" fill="#db786c"/>
<path d="M621.7 735.8h1.9v1.9h-1.9zM637.1 753.1h1.9v1.9h-1.9zM652.5 768.5h1.9v1.9h-1.9z" fill="#d6685b"/>
<path d="M644.8 762.7h1.9v1.9h-1.9z" fill="#d1574a"/>
<path d="M619.8 735.8h1.9v1.9h-1.9zM642.9 758.9h1.9v1.9h-1.9z" fill="#c83728"/></g>
<text x="6" y="886.8" font-size="16.5" font-weight="bold">f</text>
<clipPath id="cf1"><rect x="44.4" y="895.5" width="130.2" height="129.3"/></clipPath>
<g clip-path="url(#cf1)"><path d="M44.4,1024.8L45.2,1024.8L46.5,1024.8L47.3,1024L48.1,1023.2L48.9,1022.4L49.8,1021.5L50.6,1020.7L51.4,1019.9L52.2,1019.1L53,1018.3L53.8,1017.5L54.6,1016.7L55.4,1015.9L56.2,1015L57,1014.2L57.9,1013.4L58.7,1012.6L59.5,1011.8L60.3,1011L61.1,1010.2L61.9,1009.3L62.7,1008.5L63.5,1007.7L64.3,1006.9L65.1,1006.1L65.9,1005.3L66.7,1004.5L67.5,1003.7L68.3,1002.8L69.1,1002L69.9,1001.2L70.7,1000.4L71.5,999.6L72.3,998.8L73.1,998L73.9,997.2L74.7,996.3L75.5,995.5L76.3,994.7L77.2,993.9L78,993L78.8,992.2L79.6,991.4L80.4,990.5L81.2,989.7L82.1,988.8L82.9,988L83.7,987.2L84.5,986.3L85.3,985.5L86.2,984.7L87,983.8L87.8,983L88.6,982.1L89.4,981.3L90.3,980.5L91.1,979.6L91.9,978.8L92.7,978L93.5,977.1L94.4,976.3L95.2,975.5L96,974.6L96.8,973.8L97.6,972.9L98.4,972.1L99.3,971.3L100.1,970.4L100.9,969.6L101.7,968.8L102.5,967.9L103.4,967.1L104.2,966.2L105,965.4L105.8,964.6L106.5,963.8L107.3,963L108.1,962.2L108.9,961.4L109.7,960.6L110.5,959.7L111.3,958.9L112,958.1L112.8,957.3L113.6,956.5L114.4,955.7L115.2,954.9L116,954.1L116.8,953.2L117.6,952.4L118.3,951.6L119.1,950.8L119.9,950L120.7,949.2L121.5,948.4L122.3,947.5L123.1,946.7L123.9,945.9L124.7,945.1L125.5,944.2L126.3,943.4L127.1,942.5L127.9,941.7L128.7,940.8L129.6,939.9L130.4,939.1L131.2,938.2L132,937.3L132.8,936.5L133.7,935.6L134.5,934.8L135.3,933.9L136.1,933L136.9,932.2L137.8,931.3L138.5,930.5L139.2,929.7L140,928.8L140.7,928L141.4,927.2L142.1,926.4L142.9,925.6L143.6,924.8L144.3,924L145.1,922.8L145.9,921.6L146.5,920.7L147.1,919.9L147.6,919.1L148.4,917.8L149.2,916.6L149.7,915.8L150.2,915L150.9,914L151.7,912.6L152.2,911.8L152.7,911L153.3,909.9L154.1,908.5L154.6,907.7L155.1,906.9L155.8,905.6L156.4,904.4L156.8,903.6L157.4,902.6L158.1,901.2L158.6,900.4L159,899.4L159.8,897.9L160.2,897.1L160.7,896L160.7,895.5L159,895.5L157.4,895.5L155.8,895.5L154.1,895.5L152.5,895.5L150.9,895.5L149.2,895.5L147.6,895.5L145.9,895.5L144.3,895.5L142.7,895.5L141,895.5L139.4,895.5L137.8,895.5L136.1,895.5L134.5,895.5L132.8,895.5L131.2,895.5L129.6,895.5L127.9,895.5L126.3,895.5L124.6,895.5L123,895.5L121.4,895.5L119.7,895.5L118.1,895.5L116.5,895.5L114.8,895.5L113.2,895.5L111.5,895.5L109.9,895.5L108.3,895.5L106.6,895.5L105,895.5L103.4,895.5L101.7,895.5L100.1,895.5L98.4,895.5L96.8,895.5L95.2,895.5L93.5,895.5L91.9,895.5L90.3,895.5L88.6,895.5L87,895.5L85.3,895.5L83.7,895.5L82.1,895.5L81.2,895.6L80.6,897.1L80.2,897.9L79.6,899.2L79.1,900.4L78.7,901.2L78,902.8L77.6,903.6L77.2,904.6L76.5,906.1L76.2,906.9L75.5,908.4L75.1,909.3L74.7,910.4L74.1,911.8L73.8,912.6L73.1,914.2L72.8,915L72.2,916.3L71.8,917.5L71.4,918.3L70.8,919.9L70.5,920.7L69.8,922.3L69.5,923.1L69,924.5L68.6,925.6L68.1,926.6L67.6,928L67.3,928.8L66.7,930.5L66.4,931.3L65.8,932.9L65.5,933.7L64.9,935.3L64.6,936.2L64.1,937.6L63.7,938.6L63.2,939.8L62.8,941L62.4,942.1L61.9,943.5L61.6,944.4L61,945.9L60.8,946.7L60.2,948.4L59.9,949.2L59.3,950.8L59,951.6L58.5,953.2L58.2,954.1L57.6,955.7L57.4,956.5L56.8,958.1L56.5,958.9L56,960.6L55.7,961.4L55.2,963L54.9,963.8L54.3,965.4L54.1,966.2L53.5,967.9L53.3,968.7L52.7,970.3L52.4,971.1L51.9,972.8L51.6,973.6L51.1,975.2L50.8,976L50.3,977.6L50,978.4L49.5,980.1L49.3,980.9L48.7,982.5L48.5,983.3L47.9,985L47.7,985.8L47.2,987.4L46.9,988.3L46.4,989.8L46,990.9L45.6,992.3L45.2,993.4L44.8,994.7L44.4,996L44.4,997.2L44.4,998.8L44.4,1000.4L44.4,1002L44.4,1003.7L44.4,1005.3L44.4,1006.9L44.4,1008.5L44.4,1010.2L44.4,1011.8L44.4,1013.4L44.4,1015L44.4,1016.7L44.4,1018.3L44.4,1019.9L44.4,1021.5L44.4,1023.2L44.4,1024.8Z" fill="#eef5fb"/>
<path d="M44.4,1024.8L45.2,1024.8L46,1024.8L46.9,1024L47.7,1023.1L48.5,1022.3L49.3,1021.5L50.1,1020.7L51,1019.9L51.8,1019L52.6,1018.2L53.4,1017.4L54.2,1016.6L55,1015.7L55.9,1014.9L56.7,1014.1L57.5,1013.3L58.3,1012.4L59.1,1011.6L60,1010.8L60.8,1010L61.6,1009.1L62.4,1008.3L63.2,1007.5L64.1,1006.6L64.9,1005.8L65.7,1005L66.5,1004.1L67.3,1003.3L68.1,1002.5L69,1001.6L69.8,1000.8L70.6,1000L71.4,999.1L72.2,998.3L73.1,997.5L73.9,996.6L74.7,995.8L75.5,995L76.3,994.1L77.2,993.3L78,992.5L78.8,991.6L79.6,990.8L80.4,990L81.2,989.1L82.1,988.3L82.9,987.4L83.7,986.6L84.5,985.8L85.3,985L86.1,984.1L86.9,983.3L87.7,982.5L88.5,981.7L89.3,980.9L90.1,980.1L90.8,979.3L91.6,978.4L92.4,977.6L93.2,976.8L94,976L94.8,975.2L95.6,974.4L96.4,973.6L97.1,972.8L97.9,971.9L98.7,971.1L99.5,970.3L100.3,969.5L101.1,968.7L101.9,967.9L102.7,967.1L103.5,966.2L104.2,965.4L105,964.6L105.8,963.8L106.6,963L107.5,962.1L108.3,961.2L109.1,960.4L109.9,959.5L110.7,958.6L111.5,957.8L112.4,956.9L113.2,956L114,955.2L114.8,954.3L115.6,953.5L116.5,952.6L117.3,951.7L118.1,950.9L118.9,950L119.7,949.2L120.4,948.4L121.1,947.5L121.8,946.7L122.5,945.9L123.2,945.1L124,944.3L124.7,943.5L125.5,942.4L126.3,941.2L127,940.2L127.6,939.4L128.1,938.6L128.7,937.7L129.6,936.5L130.3,935.3L130.8,934.5L131.4,933.7L132,932.7L132.8,931.5L133.5,930.5L134,929.7L134.5,928.8L135.3,927.5L136,926.4L136.5,925.6L137,924.8L137.8,923.4L138.4,922.3L138.8,921.5L139.4,920.5L140.2,919.1L140.6,918.3L141.1,917.5L141.8,916L142.3,915L142.7,914.2L143.5,912.7L143.9,911.8L144.3,910.9L145,909.3L145.4,908.5L145.9,907.2L146.4,906.1L146.8,905.1L147.3,903.6L147.6,902.8L148.1,901.2L148.4,900.4L148.9,898.8L149.2,897.5L149.5,896.3L149.2,895.5L147.6,895.5L145.9,895.5L144.3,895.5L142.7,895.5L141,895.5L139.4,895.5L137.8,895.5L136.1,895.5L134.5,895.5L132.8,895.5L131.2,895.5L129.6,895.5L127.9,895.5L126.3,895.5L124.6,895.5L123,895.5L121.4,895.5L119.7,895.5L118.1,895.5L116.5,895.5L114.8,895.5L113.2,895.5L111.5,895.5L109.9,895.5L108.3,895.5L106.6,895.5L105,895.5L103.4,895.5L101.7,895.5L100.1,895.5L98.4,895.5L96.8,895.5L95.2,895.5L93.5,895.5L91.9,895.5L90.3,895.5L88.6,895.5L87.8,895.9L87.1,897.1L86.6,897.9L86.1,898.8L85.3,900.1L84.7,901.2L84.3,902L83.7,903.1L83,904.4L82.6,905.3L82.1,906.2L81.3,907.7L80.9,908.5L80.4,909.3L79.6,911L79.2,911.8L78.8,912.6L78,914.2L77.6,915L77.2,916L76.5,917.5L76.1,918.3L75.5,919.5L75,920.7L74.6,921.5L73.9,923.1L73.5,924L73.1,924.9L72.4,926.4L72.1,927.2L71.4,928.7L71,929.7L70.6,930.6L70,932.1L69.6,932.9L69,934.4L68.6,935.3L68.1,936.4L67.6,937.8L67.2,938.6L66.6,940.2L66.3,941L65.7,942.4L65.3,943.5L64.9,944.5L64.3,945.9L64,946.7L63.3,948.4L63,949.2L62.4,950.7L62.1,951.6L61.6,952.9L61.2,954.1L60.8,955L60.2,956.5L59.9,957.3L59.3,958.9L59,959.7L58.4,961.4L58.1,962.2L57.5,963.8L57.2,964.6L56.7,966L56.3,967.1L55.9,968.2L55.4,969.5L55,970.5L54.5,971.9L54.2,972.8L53.7,974.4L53.4,975.2L52.8,976.8L52.5,977.6L51.9,979.3L51.6,980.1L51.1,981.7L50.8,982.5L50.2,984.1L49.9,985L49.3,986.6L49.1,987.4L48.5,989L48.2,989.8L47.7,991.4L47.4,992.3L46.9,993.7L46.5,994.7L46,996.1L45.7,997.2L45.2,998.5L44.9,999.6L44.4,1000.9L44.4,1002L44.4,1003.7L44.4,1005.3L44.4,1006.9L44.4,1008.5L44.4,1010.2L44.4,1011.8L44.4,1013.4L44.4,1015L44.4,1016.7L44.4,1018.3L44.4,1019.9L44.4,1021.5L44.4,1023.2L44.4,1024.8Z" fill="#dfebf7"/>
<path d="M44.4,1024.8L45.2,1024.8L46,1024.3L46.9,1023.4L47.7,1022.6L48.5,1021.8L49.3,1021L50.1,1020.2L51,1019.4L51.8,1018.5L52.6,1017.7L53.4,1016.9L54.2,1016.1L55,1015.3L55.9,1014.4L56.7,1013.6L57.5,1012.8L58.3,1012L59.1,1011.1L60,1010.3L60.8,1009.5L61.6,1008.6L62.4,1007.8L63.2,1007L64.1,1006.2L64.9,1005.3L65.7,1004.5L66.5,1003.7L67.3,1002.8L68.1,1002L68.9,1001.2L69.7,1000.4L70.5,999.6L71.3,998.8L72.1,998L72.9,997.2L73.7,996.3L74.4,995.5L75.2,994.7L76,993.9L76.8,993.1L77.6,992.3L78.4,991.5L79.2,990.6L80,989.8L80.8,989L81.6,988.2L82.3,987.4L83.1,986.6L83.9,985.8L84.7,985L85.5,984.1L86.3,983.3L87.1,982.5L87.9,981.7L88.7,980.9L89.5,980.1L90.3,979.2L91.1,978.4L91.9,977.5L92.7,976.7L93.5,975.8L94.4,974.9L95.2,974.1L96,973.2L96.8,972.3L97.6,971.5L98.4,970.6L99.3,969.7L100.1,968.9L100.9,968L101.7,967.2L102.5,966.3L103.4,965.4L104.1,964.6L104.7,963.8L105.4,963L106.1,962.2L106.9,961.4L107.6,960.6L108.3,959.7L109.1,958.6L109.9,957.4L110.6,956.5L111.1,955.7L111.7,954.9L112.4,953.9L113.2,952.7L113.9,951.6L114.5,950.8L115,950L115.6,949.1L116.5,947.8L117.2,946.7L117.7,945.9L118.2,945.1L118.9,944L119.7,942.7L120.3,941.9L120.8,941L121.4,940.1L122.2,938.7L122.7,937.8L123.2,937L123.8,935.9L124.6,934.5L125,933.7L125.5,932.9L126.3,931.4L126.8,930.5L127.2,929.7L127.9,928.2L128.4,927.2L128.8,926.4L129.5,924.8L129.9,924L130.4,922.8L130.9,921.5L131.2,920.7L131.8,919.1L132.1,918.3L132.6,916.6L132.9,915.8L133.3,914.2L133.7,912.9L133.9,911.8L134.2,910.1L134.4,908.5L134.5,907.2L134.5,906.1L134.5,905.2L134.3,903.6L134,902L133.7,900.7L133.2,899.6L132.8,898.8L132,897.5L131.2,896.5L130.4,895.7L129.6,895.5L127.9,895.5L126.3,895.5L124.6,895.5L123,895.5L121.4,895.5L119.7,895.5L118.1,895.5L116.5,895.5L114.8,895.5L113.2,895.5L111.5,895.5L109.9,895.5L108.3,895.5L106.6,895.5L105,895.5L103.4,895.5L101.7,895.5L100.1,895.5L98.4,895.5L97.6,895.9L96.8,896.8L96,897.6L95.2,898.5L94.4,899.5L93.6,900.4L92.9,901.2L92.3,902L91.6,902.8L91,903.6L90.3,904.6L89.4,905.8L88.6,906.9L88.1,907.7L87.5,908.5L87,909.3L86.2,910.6L85.4,911.8L84.9,912.6L84.4,913.4L83.7,914.5L82.9,915.8L82.4,916.6L82,917.5L81.2,918.7L80.6,919.9L80.1,920.7L79.6,921.6L78.8,923.1L78.4,924L77.9,924.8L77.2,926.2L76.6,927.2L76.2,928L75.5,929.4L75,930.5L74.6,931.3L73.9,932.7L73.4,933.7L73,934.5L72.2,936.1L71.8,937L71.4,937.8L70.7,939.4L70.3,940.2L69.8,941.4L69.2,942.7L68.8,943.5L68.1,945L67.7,945.9L67.3,946.8L66.7,948.4L66.3,949.2L65.7,950.6L65.3,951.6L64.9,952.5L64.2,954.1L63.9,954.9L63.2,956.4L62.9,957.3L62.4,958.3L61.8,959.7L61.5,960.6L60.8,962.2L60.5,963L60,964.3L59.5,965.4L59.1,966.4L58.6,967.9L58.2,968.7L57.6,970.3L57.3,971.1L56.7,972.6L56.3,973.6L55.9,974.7L55.4,976L55,976.8L54.4,978.4L54.1,979.3L53.5,980.9L53.2,981.7L52.6,983.2L52.2,984.1L51.8,985.3L51.3,986.6L51,987.5L50.4,989L50.1,989.8L49.5,991.5L49.2,992.3L48.6,993.9L48.3,994.7L47.7,996.3L47.4,997.2L46.9,998.5L46.5,999.6L46,1000.7L45.6,1002L45.2,1002.9L44.7,1004.5L44.4,1005.3L44.4,1006.9L44.4,1008.5L44.4,1010.2L44.4,1011.8L44.4,1013.4L44.4,1015L44.4,1016.7L44.4,1018.3L44.4,1019.9L44.4,1021.5L44.4,1023.2L44.4,1024.8Z" fill="#cde1f2"/>
<path d="M44.4,1024.8L45,1024.8L45.8,1024L46.7,1023.2L47.5,1022.4L48.3,1021.5L49.1,1020.7L49.9,1019.9L50.7,1019.1L51.6,1018.3L52.4,1017.5L53.2,1016.7L54,1015.9L54.8,1015L55.6,1014.2L56.4,1013.4L57.2,1012.6L58,1011.8L58.8,1011L59.6,1010.2L60.4,1009.3L61.2,1008.5L62,1007.7L62.8,1006.9L63.6,1006.1L64.4,1005.3L65.2,1004.5L66,1003.7L66.8,1002.8L67.6,1002L68.4,1001.2L69.2,1000.4L70,999.6L70.8,998.8L71.6,998L72.4,997.2L73.2,996.3L74,995.5L74.8,994.7L75.5,993.9L76.3,993.1L77.2,992.2L78,991.4L78.8,990.5L79.6,989.6L80.4,988.8L81.2,987.9L82.1,987L82.9,986.2L83.7,985.3L84.5,984.5L85.3,983.6L86.2,982.7L87,981.9L87.8,981L88.6,980.2L89.4,979.3L90.2,978.4L90.9,977.6L91.6,976.8L92.3,976L93,975.2L93.7,974.4L94.4,973.6L95.2,972.4L96,971.3L96.7,970.3L97.3,969.5L97.8,968.7L98.4,967.8L99.3,966.6L100.1,965.5L100.7,964.6L101.2,963.8L101.8,963L102.5,961.8L103.4,960.6L103.9,959.7L104.4,958.9L105,958.1L105.8,956.8L106.5,955.7L107,954.9L107.5,954.1L108.3,952.8L109,951.6L109.5,950.8L109.9,950L110.7,948.6L111.3,947.5L111.8,946.7L112.4,945.6L113.1,944.3L113.5,943.5L114,942.5L114.7,941L115.1,940.2L115.6,939L116.2,937.8L116.6,937L117.2,935.3L117.5,934.5L118.1,933L118.4,932.1L118.9,930.5L119.1,929.7L119.5,928L119.7,926.8L119.9,925.6L120.1,924L120.1,922.3L120,920.7L119.7,919.5L119.3,918.3L118.9,917.3L118.1,916L117.3,915L116.5,914.2L115.6,913.6L114.8,913L114,912.5L112.9,911.8L111.5,911L110.7,910.5L109.9,910.1L108.3,909.4L107.5,909.1L105.8,908.7L104.2,908.6L102.5,908.8L100.9,909.2L100.1,909.5L98.6,910.1L97.6,910.7L96.8,911.2L95.9,911.8L94.8,912.6L93.8,913.4L92.9,914.2L92,915L91.2,915.8L90.4,916.6L89.7,917.5L89,918.3L88.3,919.1L87.6,919.9L86.9,920.7L86.2,921.7L85.3,922.8L84.5,923.9L83.9,924.8L83.3,925.6L82.8,926.4L82.1,927.4L81.2,928.7L80.6,929.7L80.1,930.5L79.6,931.3L78.8,932.6L78.1,933.7L77.7,934.5L77.2,935.4L76.3,936.8L75.8,937.8L75.4,938.6L74.7,939.8L74,941L73.6,941.9L73.1,942.8L72.3,944.3L71.9,945.1L71.4,946L70.6,947.5L70.2,948.4L69.8,949.2L69,950.8L68.6,951.6L68.1,952.6L67.5,954.1L67.1,954.9L66.5,956L65.9,957.3L65.5,958.1L64.9,959.6L64.4,960.6L64,961.4L63.3,963L63,963.8L62.4,965L61.9,966.2L61.5,967.1L60.8,968.7L60.5,969.5L60,970.6L59.4,971.9L59,972.8L58.4,974.4L58,975.2L57.5,976.4L57,977.6L56.6,978.4L56,980.1L55.6,980.9L55,982.3L54.6,983.3L54.2,984.3L53.6,985.8L53.3,986.6L52.6,988.2L52.3,989L51.8,990.3L51.3,991.5L51,992.4L50.3,993.9L50,994.7L49.4,996.3L49.1,997.2L48.5,998.5L48.1,999.6L47.7,1000.6L47.1,1002L46.8,1002.8L46.2,1004.5L45.9,1005.3L45.2,1006.9L44.9,1007.7L44.4,1009L44.4,1010.2L44.4,1011.8L44.4,1013.4L44.4,1015L44.4,1016.7L44.4,1018.3L44.4,1019.9L44.4,1021.5L44.4,1023.2L44.4,1024.8Z" fill="#b7d4ec"/>
<path d="M44.4,1024.8L44.7,1024.8L45.5,1024L46.3,1023.2L47.1,1022.4L48,1021.5L48.8,1020.7L49.6,1019.9L50.4,1019.1L51.2,1018.3L52,1017.5L52.9,1016.7L53.7,1015.9L54.5,1015L55.3,1014.2L56.1,1013.4L56.9,1012.6L57.7,1011.8L58.5,1011L59.3,1010.2L60.1,1009.3L60.9,1008.5L61.7,1007.7L62.5,1006.9L63.3,1006.1L64.1,1005.3L64.9,1004.5L65.7,1003.7L66.5,1002.8L67.3,1002L68.1,1001.1L69,1000.3L69.8,999.4L70.6,998.6L71.4,997.7L72.2,996.9L73.1,996L73.9,995.1L74.7,994.3L75.5,993.4L76.3,992.6L77.2,991.7L78,990.8L78.8,990L79.6,989.1L80.4,988.3L81.2,987.4L82,986.6L82.6,985.8L83.3,985L84,984.1L84.7,983.3L85.4,982.5L86.2,981.5L87,980.3L87.7,979.3L88.3,978.4L88.9,977.6L89.5,976.8L90.3,975.7L91.1,974.5L91.7,973.6L92.3,972.8L92.8,971.9L93.5,970.9L94.4,969.6L95,968.7L95.5,967.9L96,967.1L96.8,965.9L97.6,964.6L98.1,963.8L98.6,963L99.3,961.9L100.1,960.6L100.5,959.7L101,958.9L101.7,957.7L102.4,956.5L102.8,955.7L103.4,954.7L104.1,953.2L104.5,952.4L105,951.5L105.7,950L106.1,949.2L106.6,948L107.2,946.7L107.5,945.9L108.1,944.3L108.4,943.5L109,941.9L109.2,941L109.6,939.4L109.9,938L110.1,937L110.2,935.3L110.2,933.7L109.9,932.1L109.7,931.3L109.1,929.9L108.4,928.8L107.6,928L106.7,927.2L105.8,926.6L105,926.1L104.2,925.6L102.8,924.8L101.7,924.2L100.9,923.9L99.3,923.4L97.6,923.3L96,923.4L94.4,923.9L93.5,924.2L92.5,924.8L91.2,925.6L90.3,926.2L89.4,926.9L88.6,927.6L87.8,928.3L87,929.1L86.2,929.9L85.3,930.8L84.5,931.8L83.7,932.7L82.9,933.7L82.3,934.5L81.7,935.3L81.1,936.2L80.4,937L79.6,938.2L78.8,939.4L78.2,940.2L77.7,941L77.2,941.9L76.3,943.2L75.7,944.3L75.2,945.1L74.7,945.9L73.9,947.3L73.3,948.4L72.8,949.2L72.2,950.1L71.4,951.6L71,952.4L70.5,953.2L69.8,954.7L69.3,955.7L68.8,956.5L68.1,957.8L67.6,958.9L67.2,959.7L66.5,961.1L66,962.2L65.6,963L64.9,964.4L64.4,965.4L64,966.2L63.2,967.8L62.8,968.7L62.4,969.5L61.7,971.1L61.3,971.9L60.8,973.1L60.2,974.4L59.8,975.2L59.1,976.7L58.7,977.6L58.3,978.5L57.6,980.1L57.3,980.9L56.7,982.3L56.2,983.3L55.9,984.1L55.2,985.8L54.8,986.6L54.2,987.9L53.8,989L53.4,989.8L52.7,991.5L52.4,992.3L51.8,993.7L51.4,994.7L51,995.7L50.3,997.2L50,998L49.3,999.6L49,1000.4L48.5,1001.6L48,1002.8L47.7,1003.7L47,1005.3L46.7,1006.1L46,1007.6L45.7,1008.5L45.2,1009.6L44.7,1011L44.4,1011.8L44.4,1013.4L44.4,1015L44.4,1016.7L44.4,1018.3L44.4,1019.9L44.4,1021.5L44.4,1023.2L44.4,1024.8Z" fill="#9ec4e4"/>
<path d="M44.4,1024L44.4,1024.8L45.2,1024L46,1023.2L46.9,1022.4L47.7,1021.5L48.5,1020.7L49.3,1019.9L50.2,1019.1L51,1018.3L51.8,1017.5L52.6,1016.7L53.4,1015.9L54.2,1015L55,1014.2L55.9,1013.4L56.7,1012.6L57.5,1011.7L58.3,1010.9L59.1,1010L60,1009.2L60.8,1008.4L61.6,1007.5L62.4,1006.7L63.2,1005.8L64.1,1005L64.9,1004.1L65.7,1003.3L66.5,1002.4L67.3,1001.6L68.1,1000.7L69,999.9L69.8,999L70.6,998.1L71.4,997.3L72.2,996.4L73.1,995.6L73.9,994.7L74.6,993.9L75.3,993.1L76,992.3L76.6,991.5L77.3,990.6L78,989.8L78.8,988.7L79.6,987.6L80.3,986.6L80.9,985.8L81.5,985L82.1,984.1L82.9,982.9L83.7,981.8L84.3,980.9L84.8,980.1L85.4,979.3L86.2,978.1L87,976.9L87.6,976L88.1,975.2L88.6,974.4L89.4,973.1L90.1,971.9L90.6,971.1L91.1,970.3L91.9,969.1L92.6,967.9L93.1,967.1L93.5,966.2L94.4,964.8L94.9,963.8L95.3,963L96,961.7L96.6,960.6L97,959.7L97.6,958.4L98.1,957.3L98.5,956.5L99.1,954.9L99.5,954.1L100,952.4L100.3,951.6L100.7,950L100.9,949.2L101.2,947.5L101.3,945.9L101.2,944.3L100.9,942.7L100.5,941.9L100,941L99.3,940.2L98.3,939.4L97,938.6L96,938L95.2,937.5L94,937L92.7,936.6L91.1,936.5L89.4,936.8L88.6,937.1L87.2,937.8L86.2,938.4L85.3,939L84.5,939.7L83.7,940.4L82.9,941.2L82.1,942L81.2,942.9L80.4,943.8L79.6,944.8L78.8,945.8L78.1,946.7L77.5,947.5L76.9,948.4L76.3,949.2L75.5,950.3L74.7,951.5L74.1,952.4L73.6,953.2L73.1,954.1L72.2,955.4L71.6,956.5L71.1,957.3L70.6,958.2L69.8,959.6L69.3,960.6L68.8,961.4L68.1,962.5L67.5,963.8L67,964.6L66.5,965.6L65.7,967.1L65.3,967.9L64.9,968.7L64.1,970.3L63.7,971.1L63.2,972L62.4,973.6L62.1,974.4L61.6,975.3L60.9,976.8L60.5,977.6L60,978.7L59.3,980.1L58.9,980.9L58.3,982.2L57.8,983.3L57.4,984.1L56.7,985.8L56.3,986.6L55.9,987.6L55.2,989L54.9,989.8L54.2,991.2L53.8,992.3L53.4,993.1L52.7,994.7L52.3,995.5L51.8,996.8L51.3,998L50.9,998.8L50.2,1000.4L49.9,1001.2L49.3,1002.5L48.8,1003.7L48.5,1004.5L47.8,1006.1L47.5,1006.9L46.9,1008.3L46.4,1009.3L46,1010.2L45.4,1011.8L45.1,1012.6L44.4,1014.1L44.4,1015L44.4,1016.7L44.4,1018.3L44.4,1019.9L44.4,1021.5L44.4,1023.2Z" fill="#82afd9"/>
<path d="M44.4,1024L44.4,1024.2L45.2,1023.4L46,1022.6L46.9,1021.8L47.7,1021L48.5,1020.2L49.3,1019.4L50.1,1018.6L51,1017.8L51.8,1017L52.6,1016.1L53.4,1015.3L54.2,1014.5L55,1013.7L55.9,1012.9L56.7,1012L57.5,1011.2L58.3,1010.4L59.1,1009.5L60,1008.7L60.8,1007.9L61.6,1007L62.4,1006.2L63.2,1005.3L64.1,1004.5L64.8,1003.7L65.5,1002.8L66.2,1002L66.9,1001.2L67.5,1000.4L68.2,999.6L69,998.6L69.8,997.5L70.6,996.4L71.2,995.5L71.8,994.7L72.3,993.9L73.1,992.9L73.9,991.7L74.6,990.6L75.1,989.8L75.7,989L76.3,988L77.2,986.8L77.8,985.8L78.4,985L78.9,984.1L79.6,983L80.4,981.7L80.9,980.9L81.4,980.1L82.1,979L82.8,977.6L83.3,976.8L83.8,976L84.5,974.6L85.1,973.6L85.5,972.8L86.2,971.4L86.7,970.3L87,969.5L87.7,967.9L88,967.1L88.6,965.4L88.8,964.6L89.2,963L89.4,961.8L89.5,960.6L89.4,959.4L89,958.1L88.6,957.3L87.8,956.5L86.6,955.7L85.3,954.9L84.5,954.6L82.9,954.3L81.2,954.5L80.4,954.9L79.1,955.7L78,956.5L77.2,957.2L76.3,958L75.5,958.9L74.8,959.7L74.1,960.6L73.4,961.4L72.8,962.2L72.2,963L71.4,964.1L70.6,965.3L70,966.2L69.4,967.1L68.9,967.9L68.1,969.1L67.4,970.3L66.9,971.1L66.4,971.9L65.7,973.2L65,974.4L64.6,975.2L64.1,976.1L63.2,977.6L62.8,978.4L62.4,979.3L61.6,980.7L61.1,981.7L60.7,982.5L60,983.9L59.4,985L59,985.8L58.3,987.2L57.8,988.2L57.4,989L56.7,990.5L56.3,991.5L55.8,992.3L55.1,993.9L54.7,994.7L54.2,995.7L53.6,997.2L53.2,998L52.6,999.3L52.1,1000.4L51.7,1001.2L51,1002.8L50.7,1003.7L50.1,1004.8L49.6,1006.1L49.2,1006.9L48.5,1008.5L48.2,1009.3L47.7,1010.4L47.1,1011.8L46.7,1012.6L46,1014.2L45.7,1015L45.2,1016.2L44.7,1017.5L44.4,1018.3L44.4,1019.9L44.4,1021.5L44.4,1023.2Z" fill="#6897cb"/>
<path d="M46,1020.7L46,1020.9L47.3,1020.7L48.5,1019.9L49.3,1019.1L50.1,1018.3L51,1017.5L51.8,1016.7L52.6,1015.9L53.4,1015.1L54.2,1014.3L55,1013.4L55.9,1012.6L56.7,1011.8L57.5,1011L58.2,1010.2L58.9,1009.3L59.6,1008.5L60.3,1007.7L61,1006.9L61.7,1006.1L62.4,1005.3L63.2,1004.2L64.1,1003.1L64.9,1002L65.4,1001.2L66,1000.4L66.6,999.6L67.3,998.6L68.1,997.4L68.9,996.3L69.5,995.5L70,994.7L70.6,993.9L71.4,992.6L72.2,991.5L72.7,990.6L73.2,989.8L73.9,988.8L74.7,987.5L75.3,986.6L75.8,985.8L76.3,984.8L77.2,983.4L77.6,982.5L78.1,981.7L78.8,980.4L79.3,979.3L79.8,978.4L80.4,977L80.8,976L81.2,975L81.8,973.6L82.1,972.6L82.4,971.1L82.5,969.5L82.2,967.9L81.8,967.1L80.9,966.2L79.6,965.5L78.8,965.1L77.2,964.9L75.5,965.4L74.7,965.9L73.9,966.6L73.1,967.3L72.2,968.1L71.4,969L70.6,970L69.8,971L69.1,971.9L68.5,972.8L67.9,973.6L67.3,974.4L66.5,975.7L65.8,976.8L65.3,977.6L64.8,978.4L64.1,979.7L63.4,980.9L62.9,981.7L62.4,982.5L61.6,984L61.1,985L60.7,985.8L60,987.1L59.4,988.2L59,989L58.3,990.2L57.7,991.5L57.3,992.3L56.7,993.5L56.1,994.7L55.7,995.5L55,996.9L54.6,998L54.2,998.8L53.4,1000.4L53,1001.2L52.6,1002.2L51.9,1003.7L51.6,1004.5L51,1005.8L50.5,1006.9L50.1,1007.7L49.5,1009.3L49.1,1010.2L48.5,1011.7L48.2,1012.6L47.7,1013.8L47.2,1015L46.9,1016L46.4,1017.5L46,1018.7L45.9,1019.9Z" fill="#5281bc"/>
<path d="M51.9,1011.8L52.6,1012.2L54.2,1011.9L55,1011.3L55.9,1010.6L56.7,1009.7L57.5,1008.9L58.3,1007.9L59.1,1007L59.9,1006.1L60.5,1005.3L61.1,1004.5L61.8,1003.7L62.4,1002.8L63.2,1001.7L64.1,1000.6L64.8,999.6L65.3,998.8L65.9,998L66.5,997.1L67.3,995.9L68.1,994.7L68.6,993.9L69.1,993.1L69.8,992L70.6,990.7L71.1,989.8L71.5,989L72.2,987.8L72.9,986.6L73.3,985.8L73.9,984.5L74.4,983.3L74.7,982.5L75.2,980.9L75.5,979.5L75.6,978.4L75.4,977.6L74.7,976.6L73.9,976L72.2,975.4L70.6,975.9L69.8,976.5L69,977.2L68.1,978L67.3,979L66.5,980L65.8,980.9L65.3,981.7L64.7,982.5L64.1,983.5L63.2,984.8L62.6,985.8L62.2,986.6L61.6,987.5L60.8,988.9L60.3,989.8L59.8,990.6L59.1,991.9L58.5,993.1L58.1,993.9L57.5,995.1L56.9,996.3L56.5,997.2L55.9,998.5L55.4,999.6L55,1000.4L54.2,1002L53.9,1002.8L53.4,1004L52.9,1005.3L52.6,1006.1L52.1,1007.7L51.8,1008.5L51.5,1010.2L51.8,1011.7Z" fill="#3f639c"/></g>
<line x1="44.4" y1="1024.8" x2="174.6" y2="895.5" stroke="#111" stroke-width="1"/>
<path d="M44.4,895.5 V1024.8 H174.6" fill="none" stroke="#777" stroke-width="0.9"/>
<text x="114" y="888.1" font-size="12.2" text-anchor="middle" textLength="96" lengthAdjust="spacingAndGlyphs">CTCF pred signal</text>
<text x="42.3" y="1028.6" font-size="10.5" text-anchor="end" textLength="20.5" lengthAdjust="spacingAndGlyphs" stroke="#000" stroke-width="0.35">0.00</text>
<text x="44.4" y="1034.4" font-size="10.5" text-anchor="middle" textLength="20.5" lengthAdjust="spacingAndGlyphs" stroke="#000" stroke-width="0.35">0.00</text>
<text x="42.3" y="996.3" font-size="10.5" text-anchor="end" textLength="20.5" lengthAdjust="spacingAndGlyphs" stroke="#000" stroke-width="0.35">0.01</text>
<text x="76.9" y="1034.4" font-size="10.5" text-anchor="middle" textLength="20.5" lengthAdjust="spacingAndGlyphs" stroke="#000" stroke-width="0.35">0.01</text>
<text x="42.3" y="963.9" font-size="10.5" text-anchor="end" textLength="20.5" lengthAdjust="spacingAndGlyphs" stroke="#000" stroke-width="0.35">0.02</text>
<text x="109.5" y="1034.4" font-size="10.5" text-anchor="middle" textLength="20.5" lengthAdjust="spacingAndGlyphs" stroke="#000" stroke-width="0.35">0.02</text>
<text x="42.3" y="931.6" font-size="10.5" text-anchor="end" textLength="20.5" lengthAdjust="spacingAndGlyphs" stroke="#000" stroke-width="0.35">0.03</text>
<text x="142" y="1034.4" font-size="10.5" text-anchor="middle" textLength="20.5" lengthAdjust="spacingAndGlyphs" stroke="#000" stroke-width="0.35">0.03</text>
<text x="42.3" y="899.3" font-size="10.5" text-anchor="end" textLength="20.5" lengthAdjust="spacingAndGlyphs" stroke="#000" stroke-width="0.35">0.04</text>
<text x="174.6" y="1034.4" font-size="10.5" text-anchor="middle" textLength="20.5" lengthAdjust="spacingAndGlyphs" stroke="#000" stroke-width="0.35">0.04</text>
<text x="109.5" y="1046.7" font-size="12.8" text-anchor="middle" textLength="80" lengthAdjust="spacingAndGlyphs" stroke="#000" stroke-width="0.4">w/o CTCF loop</text>
<text transform="translate(14.2,960.5) rotate(-90)" x="0" y="4.6" font-size="12.8" stroke="#000" stroke-width="0.4" text-anchor="middle" textLength="73" lengthAdjust="spacingAndGlyphs">w/ CTCF loop</text>
<clipPath id="cf2"><rect x="241.1" y="895.8" width="129.4" height="128.6"/></clipPath>
<g clip-path="url(#cf2)"><path d="M241.1,1024.4L241.9,1024.4L243,1024.4L243.8,1023.6L244.6,1022.8L245.4,1022L246.2,1021.2L247,1020.4L247.8,1019.5L248.6,1018.7L249.4,1017.9L250.2,1017.1L251,1016.3L251.9,1015.5L252.7,1014.7L253.5,1013.9L254.3,1013.1L255.1,1012.3L255.9,1011.5L256.7,1010.7L257.5,1009.8L258.3,1009L259.1,1008.2L259.9,1007.4L260.7,1006.6L261.5,1005.8L262.3,1005L263.1,1004.2L263.9,1003.4L264.7,1002.6L265.5,1001.8L266.4,1000.9L267.2,1000.1L268,999.3L268.8,998.5L269.6,997.7L270.4,996.9L271.2,996L272,995.2L272.8,994.4L273.7,993.6L274.5,992.8L275.3,991.9L276.1,991.1L276.9,990.3L277.7,989.5L278.5,988.6L279.4,987.8L280.2,987L281,986.2L281.8,985.3L282.6,984.5L283.4,983.7L284.2,982.9L285,982L285.9,981.2L286.7,980.4L287.5,979.6L288.3,978.7L289.1,977.9L289.9,977.1L290.7,976.3L291.6,975.4L292.4,974.6L293.2,973.8L294,973L294.8,972.1L295.6,971.3L296.4,970.5L297.3,969.7L298.1,968.8L298.9,968L299.7,967.2L300.5,966.4L301.3,965.5L302.1,964.7L303,963.9L303.8,963.1L304.6,962.2L305.4,961.4L306.2,960.6L307,959.8L307.8,958.9L308.6,958.1L309.5,957.3L310.3,956.5L311,955.7L311.8,954.8L312.6,954L313.4,953.2L314.2,952.4L315,951.6L315.8,950.8L316.6,950L317.3,949.2L318.1,948.4L318.9,947.6L319.7,946.8L320.5,945.9L321.3,945.1L322.1,944.3L322.9,943.5L323.6,942.7L324.4,941.9L325.2,941.1L326,940.3L326.8,939.5L327.6,938.7L328.4,937.9L329.2,937L329.9,936.2L330.7,935.4L331.5,934.6L332.3,933.8L333.1,933L333.9,932.2L334.7,931.3L335.5,930.5L336.3,929.6L337.1,928.8L337.9,927.9L338.8,927L339.6,926.2L340.4,925.3L341.2,924.5L342,923.6L342.8,922.7L343.6,921.9L344.5,921L345.3,920.2L346.1,919.3L346.9,918.5L347.6,917.6L348.3,916.8L349,916L349.7,915.2L350.4,914.4L351.1,913.6L351.8,912.8L352.6,911.5L353.3,910.4L353.8,909.5L354.3,908.7L355,907.4L355.6,906.3L356,905.5L356.7,904.5L357.5,903.5L358.3,902.5L359.1,901.6L359.9,900.7L360.7,899.8L361.4,899L362.1,898.2L362.9,897.4L363.6,896.6L364.3,895.8L363.2,895.8L361.5,895.8L359.9,895.8L358.3,895.8L356.7,895.8L355,895.8L353.4,895.8L351.8,895.8L350.2,895.8L348.5,895.8L346.9,895.8L345.3,895.8L343.6,895.8L342,895.8L340.4,895.8L338.8,895.8L337.1,895.8L335.5,895.8L333.9,895.8L332.2,895.8L330.6,895.8L329,895.8L327.4,895.8L325.7,895.8L324.1,895.8L322.5,895.8L320.9,895.8L319.2,895.8L317.6,895.8L316,895.8L314.3,895.8L312.7,895.8L311.1,895.8L309.5,895.8L307.8,895.8L306.2,895.8L304.6,895.8L303,895.8L301.3,895.8L299.7,895.8L298.1,895.8L296.4,895.8L294.8,895.8L293.2,895.8L291.6,895.8L289.9,895.8L288.3,895.8L286.7,895.8L285,895.8L283.4,895.8L281.8,895.8L280.2,895.8L278.5,895.8L276.9,895.8L275.3,895.8L273.7,895.8L272.8,896.2L272.4,897.4L272,898.4L271.5,899.8L271.2,900.7L270.6,902.3L270.4,903.1L269.8,904.7L269.5,905.5L269,907.1L268.7,907.9L268.1,909.5L267.9,910.4L267.3,912L267.1,912.8L266.5,914.4L266.3,915.2L265.8,916.8L265.5,917.6L265,919.3L264.7,920.2L264.2,921.7L263.9,922.8L263.5,924.1L263.1,925.5L262.8,926.5L262.3,928.2L262,929L261.6,930.6L261.3,931.4L260.9,933L260.6,933.8L260.2,935.4L259.8,936.7L259.5,937.9L259,939.5L258.8,940.3L258.4,941.9L258.1,942.7L257.7,944.3L257.4,945.5L257,946.8L256.6,948.4L256.4,949.2L255.9,950.8L255.7,951.6L255.3,953.2L254.9,954.6L254.7,955.7L254.2,957.3L254,958.1L253.6,959.7L253.3,960.9L253,962.1L252.6,963.7L252.4,964.5L252,966.2L251.7,967.3L251.4,968.6L250.9,970.2L250.7,971L250.4,972.6L250.1,973.8L249.8,975.1L249.3,976.7L249.1,977.5L248.8,979.1L248.4,980.4L248.2,981.5L247.8,983.2L247.6,984L247.2,985.6L246.8,987.1L246.6,988L246.2,989.6L246,990.5L245.6,992L245.2,993.7L245,994.5L244.7,996.1L244.4,997.3L244.1,998.5L243.7,1000.1L243.5,1000.9L243.1,1002.6L242.7,1004.1L242.5,1005L242.2,1006.6L241.9,1007.6L241.6,1009L241.2,1010.7L241.1,1011.5L241.1,1013.1L241.1,1014.7L241.1,1016.3L241.1,1017.9L241.1,1019.5L241.1,1021.2L241.1,1022.8L241.1,1024.4Z" fill="#f5f9fd"/>
<path d="M241.1,1024.4L241.9,1024.4L242.7,1024.2L243.5,1023.4L244.4,1022.6L245.2,1021.7L246,1020.9L246.8,1020.1L247.6,1019.3L248.4,1018.5L249.2,1017.7L250.1,1016.9L250.9,1016L251.7,1015.2L252.5,1014.4L253.3,1013.6L254.1,1012.8L254.9,1012L255.7,1011.1L256.6,1010.3L257.4,1009.5L258.2,1008.7L259,1007.9L259.8,1007L260.6,1006.2L261.4,1005.4L262.3,1004.6L263.1,1003.8L263.9,1002.9L264.7,1002.1L265.5,1001.3L266.3,1000.5L267.1,999.7L268,998.8L268.8,998L269.6,997.2L270.4,996.4L271.2,995.6L272,994.7L272.8,993.9L273.7,993.1L274.5,992.3L275.3,991.5L276.1,990.6L276.9,989.8L277.7,989L278.5,988.2L279.4,987.3L280.2,986.5L281,985.7L281.8,984.9L282.6,984.1L283.4,983.2L284.2,982.4L285,981.6L285.9,980.8L286.7,979.9L287.5,979.1L288.3,978.3L289.1,977.5L289.9,976.7L290.7,975.9L291.5,975.1L292.3,974.3L293,973.4L293.8,972.6L294.6,971.8L295.4,971L296.2,970.2L297,969.4L297.8,968.6L298.6,967.8L299.4,967L300.2,966.2L301,965.4L301.7,964.5L302.5,963.7L303.3,962.9L304.1,962.1L304.9,961.3L305.7,960.5L306.5,959.7L307.3,958.9L308.1,958.1L308.9,957.3L309.6,956.5L310.4,955.7L311.2,954.8L312,954L312.8,953.2L313.6,952.4L314.4,951.6L315.2,950.8L316,950L316.8,949.1L317.6,948.3L318.4,947.4L319.2,946.6L320,945.7L320.9,944.8L321.7,944L322.5,943.1L323.3,942.3L324.1,941.4L324.9,940.6L325.7,939.7L326.6,938.9L327.4,938L328.2,937.2L329,936.3L329.8,935.4L330.5,934.6L331.2,933.8L331.9,933L332.6,932.2L333.3,931.4L334,930.6L334.7,929.7L335.5,928.4L336.2,927.3L336.7,926.5L337.2,925.7L337.9,924.5L338.6,923.3L339,922.5L339.6,921.4L340.2,920.1L340.6,919.3L341.1,917.6L341.5,916.8L342.1,916L342.8,915.2L343.6,914.3L344.5,913.3L345.3,912.3L346.1,911.4L346.9,910.4L347.7,909.5L348.3,908.7L349,907.9L349.6,907.1L350.3,906.3L351,905.5L351.8,904.6L352.6,903.5L353.4,902.5L354.2,901.5L354.9,900.7L355.5,899.8L356.1,899L356.8,898.2L357.5,897.2L358.3,896.1L358.3,895.8L356.7,895.8L355,895.8L353.4,895.8L351.8,895.8L350.2,895.8L348.5,895.8L346.9,895.8L345.3,895.8L343.6,895.8L342,895.8L340.4,895.8L338.8,895.8L337.1,895.8L335.5,895.8L333.9,895.8L332.2,895.8L330.6,895.8L329,895.8L327.4,895.8L325.7,895.8L324.1,895.8L322.5,895.8L320.9,895.8L319.2,895.8L317.6,895.8L316,895.8L315.2,895.9L314.3,896.8L313.5,897.8L312.7,898.7L311.9,899.7L311.1,900.7L310.5,901.5L309.8,902.3L309.2,903.1L308.5,903.9L307.8,904.8L307,905.8L306.2,906.9L305.5,907.9L304.9,908.7L304.3,909.5L303.7,910.4L303,911.4L302.1,912.5L301.4,913.6L300.8,914.4L300.3,915.2L299.7,916L298.9,917.2L298.1,918.4L297.5,919.3L297,920.1L296.4,920.9L295.6,922.1L294.8,923.3L294.3,924.1L293.8,924.9L293.2,925.8L292.4,927.1L291.7,928.2L291.2,929L290.7,929.8L289.9,931L289.2,932.2L288.7,933L288.2,933.8L287.5,934.9L286.7,936.2L286.2,937L285.7,937.9L285,939L284.3,940.3L283.8,941.1L283.3,941.9L282.6,943.1L281.9,944.3L281.4,945.1L280.9,945.9L280.2,947.3L279.5,948.4L279.1,949.2L278.5,950.1L277.7,951.5L277.2,952.4L276.7,953.2L276.1,954.3L275.4,955.7L274.9,956.5L274.4,957.3L273.7,958.7L273.1,959.7L272.6,960.5L272,961.6L271.3,962.9L270.8,963.7L270.4,964.5L269.6,966L269,967L268.6,967.8L268,968.9L267.3,970.2L266.8,971L266.3,971.9L265.5,973.4L265.1,974.3L264.6,975.1L263.9,976.4L263.3,977.5L262.9,978.3L262.3,979.4L261.6,980.7L261.1,981.5L260.6,982.4L259.8,983.9L259.4,984.8L259,985.6L258.2,987L257.7,988L257.2,988.8L256.6,990.1L255.9,991.2L255.5,992L254.9,993.1L254.2,994.5L253.8,995.3L253.3,996.2L252.5,997.7L252.1,998.5L251.6,999.3L250.9,1000.8L250.4,1001.8L249.9,1002.6L249.2,1003.9L248.5,1005L248.1,1005.8L247.6,1006.7L246.8,1008.1L246.2,1009L245.6,1009.8L245.2,1010.7L244.4,1012L243.7,1013.1L243.2,1013.9L242.6,1014.7L241.9,1015.8L241.1,1017.1L241.1,1017.9L241.1,1019.5L241.1,1021.2L241.1,1022.8L241.1,1024.4Z" fill="#e9f1f9"/>
<path d="M241.1,1024.4L241.9,1024.4L242.7,1023.8L243.5,1023L244.4,1022.2L245.2,1021.4L246,1020.6L246.8,1019.8L247.6,1019L248.4,1018.1L249.2,1017.3L250.1,1016.5L250.9,1015.7L251.7,1014.9L252.5,1014.1L253.3,1013.2L254.1,1012.4L254.9,1011.6L255.7,1010.8L256.6,1010L257.4,1009.2L258.2,1008.3L259,1007.5L259.8,1006.7L260.6,1005.9L261.4,1005.1L262.3,1004.3L263.1,1003.4L263.9,1002.6L264.7,1001.8L265.5,1001L266.3,1000.2L267.1,999.3L268,998.5L268.8,997.7L269.6,996.9L270.4,996.1L271.2,995.3L272,994.5L272.7,993.7L273.5,992.9L274.3,992L275.1,991.2L275.9,990.4L276.7,989.6L277.5,988.8L278.3,988L279.1,987.2L279.9,986.4L280.7,985.6L281.5,984.8L282.3,984L283.1,983.2L283.9,982.3L284.7,981.5L285.5,980.7L286.3,979.9L287.1,979.1L287.9,978.3L288.6,977.5L289.4,976.7L290.2,975.9L291,975.1L291.8,974.3L292.6,973.4L293.4,972.6L294.2,971.8L295,971L295.8,970.2L296.6,969.4L297.4,968.6L298.2,967.8L299,967L299.7,966.2L300.5,965.4L301.3,964.5L302.1,963.7L303,962.9L303.8,962L304.6,961.1L305.4,960.3L306.2,959.4L307,958.6L307.8,957.7L308.6,956.9L309.5,956L310.3,955.2L311.1,954.3L311.9,953.5L312.7,952.6L313.5,951.8L314.3,950.9L315.2,950.1L316,949.2L316.8,948.4L317.5,947.6L318.2,946.8L318.8,945.9L319.5,945.1L320.2,944.3L320.9,943.5L321.7,942.4L322.5,941.2L323.1,940.3L323.6,939.5L324.1,938.7L324.9,937.3L325.5,936.2L326,935.4L326.6,934.3L327.1,933L327.4,932.2L327.8,930.6L327.9,929L327.4,927.8L326.6,927L325.7,926.4L324.4,925.7L323.3,925.4L321.7,925.2L320,925.4L318.6,925.7L317.6,926L316.4,926.5L315.2,927.1L314.3,927.5L313.3,928.2L312,929L311.1,929.6L310.3,930.1L309.5,930.7L308.6,931.4L307.6,932.2L306.6,933L305.6,933.8L304.7,934.6L303.8,935.4L303,936.2L302.1,936.9L301.3,937.7L300.5,938.5L299.7,939.3L298.9,940.1L298.1,941L297.3,941.8L296.4,942.7L295.6,943.5L294.9,944.3L294.2,945.1L293.4,945.9L292.7,946.8L292,947.6L291.3,948.4L290.6,949.2L289.9,950L289.1,950.9L288.3,951.9L287.5,952.9L286.7,953.8L285.9,954.8L285.2,955.7L284.6,956.5L283.9,957.3L283.3,958.1L282.6,958.9L281.8,959.9L281,961L280.2,962L279.5,962.9L278.9,963.7L278.3,964.5L277.6,965.4L276.9,966.3L276.1,967.4L275.3,968.5L274.6,969.4L274,970.2L273.4,971L272.8,971.8L272,972.9L271.2,974.1L270.5,975.1L269.9,975.9L269.3,976.7L268.7,977.5L268,978.6L267.1,979.8L266.5,980.7L265.9,981.5L265.3,982.3L264.7,983.2L263.9,984.4L263.1,985.6L262.5,986.4L262,987.2L261.4,988L260.6,989.1L259.8,990.3L259.2,991.2L258.6,992L258.1,992.9L257.4,993.9L256.6,995.1L255.9,996.1L255.3,996.9L254.8,997.7L254.1,998.7L253.3,999.9L252.6,1000.9L252.1,1001.8L251.5,1002.6L250.9,1003.5L250.1,1004.7L249.4,1005.8L248.8,1006.6L248.3,1007.4L247.6,1008.4L246.8,1009.6L246.1,1010.7L245.6,1011.5L245.1,1012.3L244.4,1013.3L243.5,1014.5L242.9,1015.5L242.4,1016.3L241.8,1017.1L241.1,1018.2L241.1,1019.5L241.1,1021.2L241.1,1022.8L241.1,1024.4Z" fill="#cde1f2"/>
<path d="M241.1,1024.4L241.7,1024.4L242.5,1023.6L243.4,1022.8L244.2,1022L245,1021.2L245.8,1020.4L246.6,1019.5L247.4,1018.7L248.2,1017.9L249,1017.1L249.8,1016.3L250.6,1015.5L251.4,1014.7L252.2,1013.9L253.1,1013.1L253.9,1012.3L254.7,1011.5L255.5,1010.7L256.3,1009.8L257.1,1009L257.9,1008.2L258.7,1007.4L259.5,1006.6L260.3,1005.8L261.1,1005L261.9,1004.2L262.7,1003.4L263.5,1002.6L264.3,1001.8L265.1,1000.9L265.9,1000.1L266.7,999.3L267.5,998.5L268.3,997.7L269.1,996.9L269.9,996.1L270.7,995.3L271.5,994.5L272.3,993.7L273.1,992.9L273.9,992L274.7,991.2L275.5,990.4L276.3,989.6L277.1,988.8L277.9,988L278.7,987.2L279.5,986.4L280.3,985.6L281.1,984.8L281.9,984L282.6,983.2L283.4,982.3L284.2,981.5L285,980.7L285.9,979.9L286.7,979L287.5,978.2L288.3,977.3L289.1,976.5L289.9,975.6L290.7,974.8L291.6,973.9L292.4,973.1L293.2,972.2L294,971.4L294.8,970.5L295.6,969.7L296.4,968.8L297.3,968L298.1,967.1L298.9,966.3L299.7,965.5L300.5,964.6L301.3,963.8L302.1,962.9L302.7,962.1L303.4,961.3L304.1,960.5L304.8,959.7L305.4,958.9L306.2,957.9L307,956.7L307.7,955.7L308.3,954.8L308.8,954L309.5,952.9L310.2,951.6L310.6,950.8L311.1,949.9L311.7,948.4L312,947.6L312,945.9L311.5,945.1L310.5,944.3L309.5,943.8L307.8,943.6L306.2,943.8L304.7,944.3L303.8,944.7L302.9,945.1L301.5,945.9L300.5,946.6L299.7,947.2L298.9,947.8L298.1,948.4L297.1,949.2L296.1,950L295.1,950.8L294.2,951.6L293.3,952.4L292.5,953.2L291.6,954L290.8,954.8L290,955.7L289.2,956.5L288.4,957.3L287.7,958.1L286.9,958.9L286.2,959.7L285.4,960.5L284.7,961.3L284,962.1L283.3,962.9L282.5,963.7L281.8,964.6L281,965.6L280.2,966.5L279.4,967.5L278.5,968.5L277.8,969.4L277.1,970.2L276.5,971L275.8,971.8L275.1,972.6L274.5,973.5L273.7,974.5L272.8,975.6L272,976.6L271.3,977.5L270.7,978.3L270.1,979.1L269.5,979.9L268.8,980.8L268,981.9L267.1,983L266.4,984L265.8,984.8L265.2,985.6L264.6,986.4L263.9,987.4L263.1,988.5L262.3,989.6L261.6,990.4L261.1,991.2L260.5,992L259.8,992.9L259,994.1L258.2,995.2L257.6,996.1L257,996.9L256.4,997.7L255.7,998.6L254.9,999.8L254.1,1000.9L253.5,1001.8L253,1002.6L252.4,1003.4L251.7,1004.4L250.9,1005.5L250.1,1006.6L249.5,1007.4L249,1008.2L248.4,1009L247.6,1010.2L246.8,1011.3L246.1,1012.3L245.6,1013.1L245,1013.9L244.4,1014.8L243.5,1016L242.8,1017.1L242.2,1017.9L241.7,1018.7L241.1,1019.5L241.1,1021.2L241.1,1022.8L241.1,1024.4Z" fill="#b7d4ec"/>
<path d="M241.1,1024.4L241.4,1024.4L242.3,1023.6L243.1,1022.8L243.9,1022L244.7,1021.2L245.5,1020.4L246.3,1019.5L247.1,1018.7L247.9,1017.9L248.8,1017.1L249.6,1016.3L250.4,1015.5L251.2,1014.7L252,1013.9L252.8,1013.1L253.6,1012.3L254.4,1011.5L255.2,1010.7L256,1009.8L256.8,1009L257.6,1008.2L258.4,1007.4L259.2,1006.6L260,1005.8L260.8,1005L261.7,1004.2L262.5,1003.4L263.3,1002.6L264.1,1001.8L264.9,1000.9L265.7,1000.1L266.5,999.3L267.3,998.5L268.1,997.7L268.9,996.9L269.7,996.1L270.5,995.3L271.3,994.5L272.1,993.7L272.9,992.9L273.7,992L274.5,991.2L275.3,990.4L276.1,989.5L276.9,988.7L277.7,987.9L278.5,987L279.4,986.2L280.2,985.3L281,984.5L281.8,983.6L282.6,982.8L283.4,982L284.2,981.1L285,980.3L285.9,979.4L286.7,978.6L287.5,977.7L288.3,976.9L289.1,976L289.9,975.2L290.7,974.4L291.6,973.5L292.4,972.7L293.2,971.8L293.9,971L294.5,970.2L295.2,969.4L295.9,968.6L296.5,967.8L297.3,966.9L298.1,965.7L298.9,964.6L299.4,963.7L299.9,962.9L300.5,962L301.3,960.6L301.8,959.7L302.2,958.9L302.7,957.3L302.6,955.7L301.7,954.8L300.5,954.3L298.9,954.3L297.3,954.8L296.4,955.1L295.4,955.7L294.1,956.5L293.2,957.1L292.4,957.7L291.6,958.3L290.7,958.9L289.8,959.7L288.9,960.5L288,961.3L287.1,962.1L286.3,962.9L285.5,963.7L284.7,964.5L283.9,965.4L283.1,966.2L282.3,967L281.5,967.8L280.8,968.6L280.1,969.4L279.3,970.2L278.5,971.1L277.7,972L276.9,973L276.1,973.9L275.3,974.9L274.5,975.8L273.7,976.7L273.1,977.5L272.4,978.3L271.8,979.1L271.1,979.9L270.4,980.8L269.6,981.8L268.8,982.8L268,983.8L267.2,984.8L266.6,985.6L266,986.4L265.3,987.2L264.7,988L263.9,989.1L263.1,990.2L262.3,991.2L261.6,992L261,992.9L260.4,993.7L259.8,994.5L259,995.6L258.2,996.7L257.4,997.7L256.8,998.5L256.2,999.3L255.6,1000.1L254.9,1001.1L254.1,1002.2L253.3,1003.3L252.7,1004.2L252.1,1005L251.5,1005.8L250.9,1006.7L250.1,1007.8L249.2,1008.9L248.6,1009.8L248,1010.7L247.4,1011.5L246.8,1012.3L246,1013.4L245.2,1014.6L244.5,1015.5L244,1016.3L243.4,1017.1L242.7,1018L241.9,1019.1L241.1,1020.3L241.1,1021.2L241.1,1022.8L241.1,1024.4Z" fill="#9ec4e4"/>
<path d="M241.1,1024.4L241.2,1024.4L242,1023.6L242.8,1022.8L243.6,1022L244.5,1021.2L245.3,1020.4L246.1,1019.5L246.9,1018.7L247.7,1017.9L248.5,1017.1L249.3,1016.3L250.1,1015.5L251,1014.7L251.8,1013.9L252.6,1013.1L253.4,1012.3L254.2,1011.5L255,1010.7L255.8,1009.8L256.6,1009L257.4,1008.2L258.2,1007.4L259,1006.6L259.8,1005.8L260.6,1005L261.4,1004.2L262.3,1003.3L263.1,1002.5L263.9,1001.7L264.7,1000.8L265.5,1000L266.3,999.2L267.1,998.3L268,997.5L268.8,996.7L269.6,995.8L270.4,995L271.2,994.1L272,993.3L272.8,992.5L273.7,991.6L274.5,990.8L275.3,990L276.1,989.1L276.9,988.3L277.7,987.4L278.5,986.6L279.4,985.8L280.2,984.9L281,984.1L281.8,983.2L282.6,982.4L283.4,981.6L284.2,980.7L284.9,979.9L285.6,979.1L286.2,978.3L286.9,977.5L287.6,976.7L288.3,975.7L289.1,974.6L289.9,973.4L290.4,972.6L290.9,971.8L291.6,970.8L292.3,969.4L292.6,968.6L292.9,967L292.4,966.2L290.7,965.6L289.1,965.9L288.3,966.3L287.1,967L285.9,967.7L285,968.3L284.2,969L283.4,969.6L282.6,970.3L281.8,971L280.9,971.8L280.1,972.6L279.3,973.4L278.5,974.3L277.7,975.1L276.9,975.9L276.1,976.7L275.3,977.6L274.5,978.5L273.7,979.4L272.8,980.3L272,981.2L271.2,982.1L270.4,983.1L269.6,984L269,984.8L268.3,985.6L267.6,986.4L267,987.2L266.3,988L265.5,988.9L264.7,990L263.9,991L263.1,992L262.4,992.9L261.8,993.7L261.1,994.5L260.5,995.3L259.8,996.1L259,997.2L258.2,998.2L257.4,999.3L256.7,1000.1L256.1,1000.9L255.5,1001.8L254.9,1002.6L254.1,1003.6L253.3,1004.6L252.5,1005.7L251.8,1006.6L251.2,1007.4L250.6,1008.2L250,1009L249.2,1010.1L248.4,1011.2L247.6,1012.3L247,1013.1L246.4,1013.9L245.8,1014.7L245.2,1015.6L244.4,1016.7L243.5,1017.8L242.9,1018.7L242.3,1019.5L241.7,1020.4L241.1,1021.2L241.1,1022.8L241.1,1024.4Z" fill="#82afd9"/>
<path d="M241.1,1023.6L241.1,1024.3L241.9,1023.5L242.7,1022.7L243.5,1021.9L244.4,1021.1L245.2,1020.3L246,1019.5L246.8,1018.7L247.6,1017.9L248.4,1017.1L249.2,1016.2L250.1,1015.4L250.9,1014.6L251.7,1013.8L252.5,1013L253.3,1012.1L254.1,1011.3L254.9,1010.5L255.7,1009.7L256.6,1008.9L257.4,1008L258.2,1007.2L259,1006.4L259.8,1005.5L260.6,1004.7L261.4,1003.9L262.3,1003.1L263.1,1002.2L263.9,1001.4L264.7,1000.6L265.5,999.7L266.3,998.9L267.1,998.1L268,997.2L268.8,996.4L269.6,995.6L270.4,994.7L271.2,993.9L272,993.1L272.8,992.2L273.7,991.4L274.5,990.6L275.3,989.7L276.1,988.9L276.9,988.1L277.7,987.2L278.5,986.4L279.1,985.6L279.8,984.8L280.5,984L281.1,983.2L281.8,982.3L282.6,981.2L283.4,980.1L284.1,979.1L284.6,978.3L285.1,977.5L285.9,975.9L286.1,975.1L285.9,973.8L285,973.3L283.6,973.4L282.6,973.8L281.8,974.3L280.6,975.1L279.5,975.9L278.5,976.7L277.7,977.4L276.9,978.1L276.1,978.9L275.3,979.7L274.5,980.5L273.7,981.3L272.8,982.1L272,983L271.2,983.9L270.4,984.7L269.6,985.6L268.9,986.4L268.2,987.2L267.5,988L266.8,988.8L266.1,989.6L265.4,990.4L264.7,991.3L263.9,992.3L263.1,993.3L262.3,994.3L261.4,995.2L260.8,996.1L260.1,996.9L259.5,997.7L258.8,998.5L258.2,999.3L257.4,1000.3L256.6,1001.4L255.7,1002.4L255,1003.4L254.4,1004.2L253.8,1005L253.1,1005.8L252.5,1006.6L251.7,1007.7L250.9,1008.7L250.1,1009.8L249.4,1010.7L248.8,1011.5L248.2,1012.3L247.6,1013.1L246.8,1014.1L246,1015.2L245.2,1016.3L244.6,1017.1L244,1017.9L243.3,1018.7L242.7,1019.5L241.9,1020.6L241.1,1021.7L241.1,1022.8Z" fill="#6897cb"/>
<path d="M241.1,1023.6L241.1,1023.9L241.9,1023.1L242.7,1022.3L243.5,1021.5L244.4,1020.7L245.2,1019.9L246,1019.1L246.8,1018.3L247.6,1017.5L248.4,1016.7L249.2,1015.9L250.1,1015.1L250.9,1014.3L251.7,1013.5L252.5,1012.7L253.3,1011.8L254.1,1011L254.9,1010.2L255.7,1009.4L256.6,1008.6L257.4,1007.7L258.2,1006.9L259,1006.1L259.8,1005.3L260.6,1004.4L261.4,1003.6L262.3,1002.8L263.1,1002L263.9,1001.1L264.7,1000.3L265.5,999.5L266.3,998.7L267.1,997.8L268,997L268.8,996.2L269.6,995.3L270.4,994.5L271.2,993.7L271.9,992.9L272.5,992L273.2,991.2L273.9,990.4L274.5,989.6L275.3,988.6L276.1,987.4L276.8,986.4L277.3,985.6L277.7,984.8L278.1,983.2L276.9,982.4L275.3,983.1L274.5,983.6L273.7,984.2L272.8,984.8L272,985.6L271.1,986.4L270.2,987.2L269.4,988L268.6,988.8L267.8,989.6L267.1,990.4L266.3,991.2L265.5,992.1L264.7,993L263.9,993.9L263.1,994.9L262.3,995.8L261.4,996.7L260.6,997.7L259.9,998.5L259.3,999.3L258.6,1000.1L258,1000.9L257.3,1001.8L256.6,1002.6L255.7,1003.6L254.9,1004.6L254.1,1005.7L253.4,1006.6L252.7,1007.4L252.1,1008.2L251.5,1009L250.8,1009.8L250.1,1010.8L249.2,1011.9L248.4,1012.9L247.7,1013.9L247.1,1014.7L246.5,1015.5L245.8,1016.3L245.2,1017.1L244.4,1018.2L243.5,1019.3L242.7,1020.3L242.1,1021.2L241.6,1022L241.1,1022.8Z" fill="#5281bc"/>
<path d="M242.7,1022L242.7,1022L242.7,1022ZM243.4,1021.2L243.5,1021.2L243.5,1020.9ZM244,1020.4L244.4,1020.4L244.4,1019.6ZM244.4,1019.5L245.2,1019.6L246,1018.8L246.8,1018L247.6,1017.2L248.4,1016.4L249.2,1015.6L250.1,1014.8L250.9,1014L251.7,1013.2L252.5,1012.4L253.3,1011.6L254.1,1010.8L254.9,1009.9L255.7,1009.1L256.6,1008.3L257.4,1007.5L258.2,1006.7L259,1005.8L259.8,1005L260.6,1004.2L261.4,1003.4L262.3,1002.6L262.9,1001.8L263.5,1000.9L264.2,1000.1L264.9,999.3L265.6,998.5L266.3,997.4L267.1,996.2L267.5,995.3L267.1,994.3L266.3,994.6L265.4,995.3L264.4,996.1L263.5,996.9L262.7,997.7L261.9,998.5L261.1,999.3L260.3,1000.1L259.6,1000.9L258.8,1001.8L258.1,1002.6L257.4,1003.4L256.6,1004.3L255.7,1005.3L254.9,1006.3L254.1,1007.2L253.3,1008.2L252.6,1009L252,1009.8L251.4,1010.7L250.7,1011.5L250,1012.3L249.2,1013.3L248.4,1014.3L247.6,1015.3L246.9,1016.3L246.3,1017.1L245.7,1017.9L245.1,1018.7Z" fill="#3f639c"/></g>
<line x1="241.1" y1="1024.4" x2="370.5" y2="895.8" stroke="#111" stroke-width="1"/>
<path d="M241.1,895.8 V1024.4 H370.5" fill="none" stroke="#777" stroke-width="0.9"/>
<text x="310.8" y="888.6" font-size="12.2" text-anchor="middle" textLength="119" lengthAdjust="spacingAndGlyphs">ATAC-seq pred signal</text>
<text x="238.7" y="1028.2" font-size="10.5" text-anchor="end" textLength="28" lengthAdjust="spacingAndGlyphs" stroke="#000" stroke-width="0.35">0.000</text>
<text x="241.1" y="1034.4" font-size="10.5" text-anchor="middle" textLength="28" lengthAdjust="spacingAndGlyphs" stroke="#000" stroke-width="0.35">0.000</text>
<text x="238.7" y="996.1" font-size="10.5" text-anchor="end" textLength="28" lengthAdjust="spacingAndGlyphs" stroke="#000" stroke-width="0.35">0.005</text>
<text x="273.4" y="1034.4" font-size="10.5" text-anchor="middle" textLength="28" lengthAdjust="spacingAndGlyphs" stroke="#000" stroke-width="0.35">0.005</text>
<text x="238.7" y="963.9" font-size="10.5" text-anchor="end" textLength="28" lengthAdjust="spacingAndGlyphs" stroke="#000" stroke-width="0.35">0.010</text>
<text x="305.8" y="1034.4" font-size="10.5" text-anchor="middle" textLength="28" lengthAdjust="spacingAndGlyphs" stroke="#000" stroke-width="0.35">0.010</text>
<text x="238.7" y="931.8" font-size="10.5" text-anchor="end" textLength="28" lengthAdjust="spacingAndGlyphs" stroke="#000" stroke-width="0.35">0.015</text>
<text x="338.1" y="1034.4" font-size="10.5" text-anchor="middle" textLength="28" lengthAdjust="spacingAndGlyphs" stroke="#000" stroke-width="0.35">0.015</text>
<text x="238.7" y="899.6" font-size="10.5" text-anchor="end" textLength="28" lengthAdjust="spacingAndGlyphs" stroke="#000" stroke-width="0.35">0.020</text>
<text x="370.5" y="1034.4" font-size="10.5" text-anchor="middle" textLength="28" lengthAdjust="spacingAndGlyphs" stroke="#000" stroke-width="0.35">0.020</text>
<text x="305" y="1045.4" font-size="12.8" text-anchor="middle" textLength="82" lengthAdjust="spacingAndGlyphs" stroke="#000" stroke-width="0.4">w/o CTCF loop</text>
<text transform="translate(202.8,960.3) rotate(-90)" x="0" y="4.6" font-size="12.8" stroke="#000" stroke-width="0.4" text-anchor="middle" textLength="75.4" lengthAdjust="spacingAndGlyphs">w/ CTCF loop</text>
<text x="389.2" y="887.4" font-size="17.5" font-weight="bold">g</text>
<path d="M428.6,894.3 V1024.7 H556.4" fill="none" stroke="#888" stroke-width="0.9"/>
<text x="427.1" y="1028.5" font-size="10.5" text-anchor="end" stroke="#000" stroke-width="0.3">0</text>
<text x="427.1" y="986.7" font-size="10.5" text-anchor="end" stroke="#000" stroke-width="0.3">1</text>
<text x="427.1" y="944.9" font-size="10.5" text-anchor="end" stroke="#000" stroke-width="0.3">2</text>
<text x="427.1" y="903.1" font-size="10.5" text-anchor="end" stroke="#000" stroke-width="0.3">3</text>
<text x="434.9" y="1034" font-size="10.5" text-anchor="middle" textLength="20.5" lengthAdjust="spacingAndGlyphs" stroke="#000" stroke-width="0.3">−250</text>
<text x="465.1" y="1034" font-size="10.5" text-anchor="middle" textLength="20.5" lengthAdjust="spacingAndGlyphs" stroke="#000" stroke-width="0.3">−125</text>
<text x="495.2" y="1034" font-size="10.5" text-anchor="middle" textLength="5.6" lengthAdjust="spacingAndGlyphs" stroke="#000" stroke-width="0.3">0</text>
<text x="525.4" y="1034" font-size="10.5" text-anchor="middle" textLength="15.5" lengthAdjust="spacingAndGlyphs" stroke="#000" stroke-width="0.3">125</text>
<text x="555.5" y="1034" font-size="10.5" text-anchor="middle" textLength="15.5" lengthAdjust="spacingAndGlyphs" stroke="#000" stroke-width="0.3">250</text>
<path d="M428.6,1024.7h2M428.6,982.9h2M428.6,941.1h2M428.6,899.3h2M434.9,1024.7v-2M465.1,1024.7v-2M495.2,1024.7v-2M525.4,1024.7v-2M555.5,1024.7v-2" stroke="#888" stroke-width="0.8"/>
<text x="429.1" y="892.8" font-size="7.6" textLength="19.5" lengthAdjust="spacingAndGlyphs" stroke="#000" stroke-width="0.2">1e−5</text>
<text x="494.4" y="889.2" font-size="12.2" text-anchor="middle">CTCF</text>
<text transform="translate(413.4,959.5) rotate(-90)" x="0" y="4.6" font-size="12.8" stroke="#000" stroke-width="0.35" text-anchor="middle" textLength="95" lengthAdjust="spacingAndGlyphs">Attribution score</text>
<text x="494" y="1045.8" font-size="12.8" text-anchor="middle" textLength="119.7" lengthAdjust="spacingAndGlyphs" stroke="#000" stroke-width="0.35">Distance to loop (kb)</text>
<polyline points="434.9,995.7 436.1,995.8 437.3,995.3 438.5,996.1 439.7,995.6 440.9,996.1 442.1,995.3 443.3,995.6 444.5,995.4 445.8,995.9 447,995.7 448.2,996 449.4,996.2 450.6,996.1 451.8,996.6 453,996.5 454.2,996.4 455.4,996.6 456.6,996.9 457.8,996.3 459,996.8 460.2,997 461.4,996.7 462.6,996.8 463.8,996.5 465.1,996.3 466.3,995.4 467.5,995.4 468.7,994.9 469.9,994.3 471.1,993.5 472.3,993.5 473.5,993.1 474.7,991.7 475.9,991.8 477.1,990.4 478.3,988.8 479.5,986.6 480.7,985.2 481.9,982.9 483.1,978.6 484.3,974.4 485.6,968.6 486.8,961.1 488,952.3 489.2,942.1 490.4,931.4 491.6,920.5 492.8,911.6 494,906 495.2,904 496.4,905.8 497.6,911.8 498.8,921.1 500,931.5 501.2,942 502.4,952.5 503.6,961.5 504.8,968.7 506.1,974.5 507.3,979.1 508.5,983.1 509.7,985 510.9,987.6 512.1,989.7 513.3,990.8 514.5,992.2 515.7,993.3 516.9,993.9 518.1,994.2 519.3,995.2 520.5,995.3 521.7,995.5 522.9,996.5 524.1,996.6 525.4,996.4 526.6,997.1 527.8,996.8 529,996.5 530.2,996.6 531.4,996.8 532.6,997.4 533.8,996.4 535,996.9 536.2,996.8 537.4,996.9 538.6,997.5 539.8,997.4 541,997.4 542.2,996.6 543.4,997.3 544.6,997.2 545.9,997.2 547.1,997 548.3,997.1 549.5,997.2 550.7,997.6 551.9,998.1 553.1,997.2 554.3,997.2 555.5,997" fill="none" stroke="#f6aa78" stroke-width="1.1" stroke-linejoin="round"/>
<path d="M605.6,892.2 V1023.9 H735.4" fill="none" stroke="#888" stroke-width="0.9"/>
<text x="604.1" y="1027.7" font-size="10.5" text-anchor="end" stroke="#000" stroke-width="0.3">0</text>
<text x="604.1" y="984.2" font-size="10.5" text-anchor="end" stroke="#000" stroke-width="0.3">1</text>
<text x="604.1" y="940.7" font-size="10.5" text-anchor="end" stroke="#000" stroke-width="0.3">2</text>
<text x="604.1" y="897.2" font-size="10.5" text-anchor="end" stroke="#000" stroke-width="0.3">3</text>
<text x="611.2" y="1034" font-size="10.5" text-anchor="middle" textLength="20.5" lengthAdjust="spacingAndGlyphs" stroke="#000" stroke-width="0.3">−250</text>
<text x="640.9" y="1034" font-size="10.5" text-anchor="middle" textLength="20.5" lengthAdjust="spacingAndGlyphs" stroke="#000" stroke-width="0.3">−125</text>
<text x="670.6" y="1034" font-size="10.5" text-anchor="middle" textLength="5.6" lengthAdjust="spacingAndGlyphs" stroke="#000" stroke-width="0.3">0</text>
<text x="700.3" y="1034" font-size="10.5" text-anchor="middle" textLength="15.5" lengthAdjust="spacingAndGlyphs" stroke="#000" stroke-width="0.3">125</text>
<text x="730" y="1034" font-size="10.5" text-anchor="middle" textLength="15.5" lengthAdjust="spacingAndGlyphs" stroke="#000" stroke-width="0.3">250</text>
<path d="M605.6,1023.9h2M605.6,980.4h2M605.6,936.9h2M605.6,893.4h2M611.2,1023.9v-2M640.9,1023.9v-2M670.6,1023.9v-2M700.3,1023.9v-2M730,1023.9v-2" stroke="#888" stroke-width="0.8"/>
<text x="606.5" y="892.8" font-size="7.6" textLength="19.5" lengthAdjust="spacingAndGlyphs" stroke="#000" stroke-width="0.2">1e−5</text>
<text x="668.2" y="889.2" font-size="12.2" text-anchor="middle">ATAC-seq</text>
<text transform="translate(589.6,958.3) rotate(-90)" x="0" y="4.6" font-size="12.8" stroke="#000" stroke-width="0.35" text-anchor="middle" textLength="95" lengthAdjust="spacingAndGlyphs">Attribution score</text>
<text x="670.3" y="1045.8" font-size="12.8" text-anchor="middle" textLength="119.5" lengthAdjust="spacingAndGlyphs" stroke="#000" stroke-width="0.35">Distance to loop (kb)</text>
<polyline points="611.2,984.2 612.4,984.2 613.6,983.8 614.8,984.6 616,984.1 617.1,984.7 618.3,983.9 619.5,984.2 620.7,984 621.9,984.5 623.1,984.4 624.3,984.7 625.5,984.9 626.6,984.8 627.8,985.2 629,985 630.2,984.8 631.4,984.9 632.6,985.1 633.8,984.3 635,984.9 636.1,985 637.3,984.8 638.5,985 639.7,985.1 640.9,985.3 642.1,985 643.3,985.9 644.5,986.2 645.7,986.5 646.8,986.5 648,987.3 649.2,987.5 650.4,986.5 651.6,987.2 652.8,986.4 654,985.4 655.2,984 656.3,983.5 657.5,982.1 658.7,978.9 659.9,976.1 661.1,972 662.3,966.8 663.5,960.9 664.7,954 665.8,946.3 667,936.7 668.2,927 669.4,919.5 670.6,916.6 671.8,919.4 673,927.3 674.2,937.3 675.4,946.3 676.5,953.9 677.7,961 678.9,967 680.1,971.8 681.3,975.8 682.5,978.8 683.7,981.5 684.9,982.1 686,983.7 687.2,984.9 688.4,985.4 689.6,986.4 690.8,987.4 692,987.7 693.2,987.7 694.4,987.9 695.5,987.1 696.7,986.2 697.9,986.4 699.1,985.7 700.3,985 701.5,985.5 702.7,985 703.9,984.6 705.1,984.6 706.2,984.8 707.4,985.4 708.6,984.3 709.8,984.8 711,984.8 712.2,984.9 713.4,985.5 714.6,985.4 715.7,985.3 716.9,984.5 718.1,985.3 719.3,985.1 720.5,985.1 721.7,984.9 722.9,985 724.1,985 725.2,985.5 726.4,986 727.6,985.1 728.8,985.1 730,984.9" fill="none" stroke="#f6aa78" stroke-width="1.1" stroke-linejoin="round"/>
</svg>
</body></html>
